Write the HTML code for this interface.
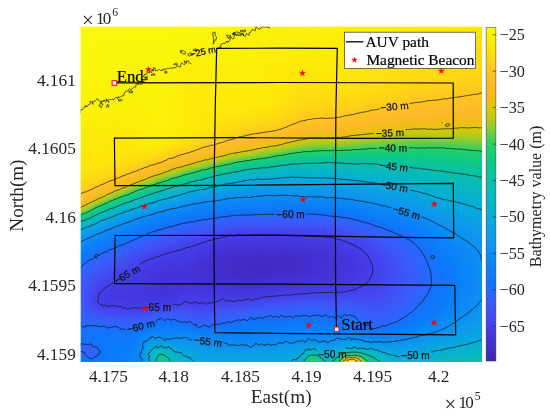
<!DOCTYPE html>
<html lang="en"><head><meta charset="utf-8"><title>AUV path over bathymetry</title>
<style>html,body{margin:0;padding:0;background:#fff}body{width:550px;height:416px;overflow:hidden}svg{display:block}.t{font-family:"Liberation Serif","Times New Roman",serif;fill:#262626}.c{font-family:"Liberation Sans",Arial,sans-serif;font-size:10.1px;fill:#111;stroke:#111;stroke-width:.25px;text-anchor:middle}</style></head><body>
<svg width="550" height="416" viewBox="0 0 550 416">
<defs>
<linearGradient id="g0" x1="0" y1="0" x2="0" y2="1"><stop offset="0.002976" stop-color="#faf808"/><stop offset="0.1488" stop-color="#faf708"/><stop offset="0.4226" stop-color="#fde70a"/><stop offset="0.4643" stop-color="#fddc11"/><stop offset="0.5119" stop-color="#ffbd27"/><stop offset="0.5179" stop-color="#fdba28"/><stop offset="0.5327" stop-color="#f0be18"/><stop offset="0.5387" stop-color="#dfc80b"/><stop offset="0.5446" stop-color="#c4c810"/><stop offset="0.5476" stop-color="#b2c919"/><stop offset="0.5506" stop-color="#9ccc29"/><stop offset="0.5595" stop-color="#3ad25a"/><stop offset="0.5625" stop-color="#22d269"/><stop offset="0.5655" stop-color="#18ce74"/><stop offset="0.5744" stop-color="#0cc694"/><stop offset="0.5804" stop-color="#09bfaa"/><stop offset="0.5833" stop-color="#09bdb1"/><stop offset="0.6042" stop-color="#05add9"/><stop offset="0.625" stop-color="#0d9aea"/><stop offset="0.6458" stop-color="#0c8cf4"/><stop offset="0.6786" stop-color="#0a7dfa"/><stop offset="0.7054" stop-color="#1471fb"/><stop offset="0.7262" stop-color="#2a66fe"/><stop offset="0.7381" stop-color="#3062fd"/><stop offset="0.7679" stop-color="#3a5bfa"/><stop offset="0.8006" stop-color="#3c57f9"/><stop offset="0.8512" stop-color="#365dfb"/><stop offset="0.875" stop-color="#2c64fe"/><stop offset="0.9048" stop-color="#1571fb"/><stop offset="0.9196" stop-color="#1274fb"/><stop offset="0.9405" stop-color="#1471fb"/><stop offset="0.9554" stop-color="#2966fe"/><stop offset="0.9643" stop-color="#2c65ff"/><stop offset="0.9702" stop-color="#2867fe"/><stop offset="0.9821" stop-color="#1670fb"/><stop offset="0.997" stop-color="#0f77fb"/></linearGradient><linearGradient id="g1" x1="0" y1="0" x2="0" y2="1"><stop offset="0.002976" stop-color="#faf808"/><stop offset="0.1518" stop-color="#faf708"/><stop offset="0.4226" stop-color="#fde60a"/><stop offset="0.4643" stop-color="#feda12"/><stop offset="0.506" stop-color="#ffbf26"/><stop offset="0.5149" stop-color="#fdba27"/><stop offset="0.5268" stop-color="#f2bd1a"/><stop offset="0.5357" stop-color="#dac90a"/><stop offset="0.5417" stop-color="#bfc811"/><stop offset="0.5476" stop-color="#95cc2c"/><stop offset="0.5565" stop-color="#36d25c"/><stop offset="0.5595" stop-color="#21d16a"/><stop offset="0.5625" stop-color="#18ce75"/><stop offset="0.5714" stop-color="#0cc694"/><stop offset="0.5804" stop-color="#09bdb1"/><stop offset="0.6012" stop-color="#05acd9"/><stop offset="0.622" stop-color="#0d99eb"/><stop offset="0.6458" stop-color="#0b89f6"/><stop offset="0.6696" stop-color="#0a7efa"/><stop offset="0.6964" stop-color="#1472fb"/><stop offset="0.7202" stop-color="#2c65ff"/><stop offset="0.753" stop-color="#3a5bfa"/><stop offset="0.8006" stop-color="#3f52f8"/><stop offset="0.8274" stop-color="#3e54f8"/><stop offset="0.8512" stop-color="#395bfa"/><stop offset="0.878" stop-color="#2c64ff"/><stop offset="0.9048" stop-color="#1471fb"/><stop offset="0.9196" stop-color="#1274fb"/><stop offset="0.9405" stop-color="#1570fb"/><stop offset="0.9524" stop-color="#2b65ff"/><stop offset="0.9673" stop-color="#3161fd"/><stop offset="0.9762" stop-color="#2a66fe"/><stop offset="0.9881" stop-color="#1472fb"/><stop offset="0.997" stop-color="#1076fb"/></linearGradient><linearGradient id="g2" x1="0" y1="0" x2="0" y2="1"><stop offset="0.002976" stop-color="#faf808"/><stop offset="0.1548" stop-color="#faf608"/><stop offset="0.4196" stop-color="#fde60a"/><stop offset="0.4613" stop-color="#feda12"/><stop offset="0.503" stop-color="#ffbe26"/><stop offset="0.5089" stop-color="#feba29"/><stop offset="0.5238" stop-color="#f0be18"/><stop offset="0.5298" stop-color="#dfc80a"/><stop offset="0.5357" stop-color="#c5c810"/><stop offset="0.5387" stop-color="#b5c917"/><stop offset="0.5417" stop-color="#a1cb25"/><stop offset="0.5476" stop-color="#67cd40"/><stop offset="0.5536" stop-color="#2bd362"/><stop offset="0.5565" stop-color="#1dd06d"/><stop offset="0.5595" stop-color="#16cd77"/><stop offset="0.5685" stop-color="#0bc596"/><stop offset="0.5744" stop-color="#09bfab"/><stop offset="0.5982" stop-color="#05acda"/><stop offset="0.619" stop-color="#0d98eb"/><stop offset="0.6458" stop-color="#0b86f7"/><stop offset="0.6667" stop-color="#0a7dfa"/><stop offset="0.6905" stop-color="#1472fb"/><stop offset="0.7143" stop-color="#2d64fe"/><stop offset="0.7411" stop-color="#395bfa"/><stop offset="0.8036" stop-color="#424df5"/><stop offset="0.8274" stop-color="#404ff7"/><stop offset="0.8571" stop-color="#3a5bfa"/><stop offset="0.881" stop-color="#2b65ff"/><stop offset="0.9018" stop-color="#1670fb"/><stop offset="0.9226" stop-color="#1175fb"/><stop offset="0.9405" stop-color="#1471fb"/><stop offset="0.9524" stop-color="#2c64ff"/><stop offset="0.9673" stop-color="#345ffc"/><stop offset="0.9792" stop-color="#2c65ff"/><stop offset="0.9881" stop-color="#1770fb"/><stop offset="0.997" stop-color="#1076fb"/></linearGradient><linearGradient id="g3" x1="0" y1="0" x2="0" y2="1"><stop offset="0.002976" stop-color="#faf808"/><stop offset="0.1577" stop-color="#faf608"/><stop offset="0.4167" stop-color="#fde60a"/><stop offset="0.4583" stop-color="#feda12"/><stop offset="0.5" stop-color="#ffbd27"/><stop offset="0.506" stop-color="#fdba28"/><stop offset="0.5179" stop-color="#f2bd1a"/><stop offset="0.5268" stop-color="#d8c90b"/><stop offset="0.5327" stop-color="#bdc812"/><stop offset="0.5387" stop-color="#93cc2d"/><stop offset="0.5476" stop-color="#3ad25a"/><stop offset="0.5506" stop-color="#23d268"/><stop offset="0.5536" stop-color="#19cf72"/><stop offset="0.5655" stop-color="#0bc499"/><stop offset="0.5714" stop-color="#09bfad"/><stop offset="0.5952" stop-color="#05acda"/><stop offset="0.6131" stop-color="#0d9aea"/><stop offset="0.631" stop-color="#0c8cf4"/><stop offset="0.6607" stop-color="#0a7dfa"/><stop offset="0.6875" stop-color="#1570fb"/><stop offset="0.7054" stop-color="#2b65ff"/><stop offset="0.7321" stop-color="#395bfa"/><stop offset="0.7917" stop-color="#4349f2"/><stop offset="0.8244" stop-color="#4349f2"/><stop offset="0.8601" stop-color="#3a5afa"/><stop offset="0.881" stop-color="#2c65ff"/><stop offset="0.9018" stop-color="#1571fb"/><stop offset="0.9226" stop-color="#1075fb"/><stop offset="0.9405" stop-color="#1372fb"/><stop offset="0.9435" stop-color="#1670fb"/><stop offset="0.9554" stop-color="#2e63fe"/><stop offset="0.9643" stop-color="#345ffc"/><stop offset="0.9702" stop-color="#345ffc"/><stop offset="0.9792" stop-color="#2e63fe"/><stop offset="0.9911" stop-color="#1471fb"/><stop offset="0.997" stop-color="#1075fb"/></linearGradient><linearGradient id="g4" x1="0" y1="0" x2="0" y2="1"><stop offset="0.002976" stop-color="#faf808"/><stop offset="0.1637" stop-color="#faf508"/><stop offset="0.4137" stop-color="#fde60a"/><stop offset="0.4524" stop-color="#fedb11"/><stop offset="0.494" stop-color="#ffbf26"/><stop offset="0.503" stop-color="#fcba27"/><stop offset="0.5149" stop-color="#f1be19"/><stop offset="0.5208" stop-color="#dfc80a"/><stop offset="0.5268" stop-color="#c4c810"/><stop offset="0.5298" stop-color="#b3c919"/><stop offset="0.5327" stop-color="#9ecb27"/><stop offset="0.5387" stop-color="#63cd42"/><stop offset="0.5446" stop-color="#29d363"/><stop offset="0.5476" stop-color="#1dd06e"/><stop offset="0.5506" stop-color="#16ce77"/><stop offset="0.5595" stop-color="#0cc694"/><stop offset="0.5685" stop-color="#09beaf"/><stop offset="0.5923" stop-color="#05abdb"/><stop offset="0.6101" stop-color="#0d9aea"/><stop offset="0.625" stop-color="#0c8ef3"/><stop offset="0.6548" stop-color="#0a7efa"/><stop offset="0.6815" stop-color="#1471fb"/><stop offset="0.7024" stop-color="#2d64fe"/><stop offset="0.7292" stop-color="#3b5afa"/><stop offset="0.7917" stop-color="#4545ef"/><stop offset="0.8244" stop-color="#4444ef"/><stop offset="0.8601" stop-color="#3c58f9"/><stop offset="0.881" stop-color="#2c64fe"/><stop offset="0.9018" stop-color="#1471fb"/><stop offset="0.9226" stop-color="#1076fb"/><stop offset="0.9435" stop-color="#1372fb"/><stop offset="0.9464" stop-color="#1570fb"/><stop offset="0.9583" stop-color="#2d64fe"/><stop offset="0.9702" stop-color="#3260fd"/><stop offset="0.9792" stop-color="#2d64fe"/><stop offset="0.9911" stop-color="#1471fb"/><stop offset="0.997" stop-color="#1075fb"/></linearGradient><linearGradient id="g5" x1="0" y1="0" x2="0" y2="1"><stop offset="0.002976" stop-color="#faf808"/><stop offset="0.1696" stop-color="#faf508"/><stop offset="0.4107" stop-color="#fde60a"/><stop offset="0.4494" stop-color="#fedb12"/><stop offset="0.4911" stop-color="#ffbe26"/><stop offset="0.497" stop-color="#feba29"/><stop offset="0.5089" stop-color="#f3bd1b"/><stop offset="0.5119" stop-color="#efbf17"/><stop offset="0.5179" stop-color="#dbc90a"/><stop offset="0.5238" stop-color="#bfc811"/><stop offset="0.5298" stop-color="#94cc2d"/><stop offset="0.5387" stop-color="#38d25b"/><stop offset="0.5417" stop-color="#23d269"/><stop offset="0.5446" stop-color="#19cf73"/><stop offset="0.5565" stop-color="#0bc499"/><stop offset="0.5625" stop-color="#09bfac"/><stop offset="0.5863" stop-color="#05add9"/><stop offset="0.6071" stop-color="#0d99eb"/><stop offset="0.622" stop-color="#0c8df4"/><stop offset="0.6518" stop-color="#0a7dfa"/><stop offset="0.6756" stop-color="#1471fb"/><stop offset="0.6964" stop-color="#2c64ff"/><stop offset="0.7232" stop-color="#3b5afa"/><stop offset="0.7738" stop-color="#4446f0"/><stop offset="0.7976" stop-color="#4440ec"/><stop offset="0.8244" stop-color="#4440ec"/><stop offset="0.8363" stop-color="#4545f0"/><stop offset="0.8542" stop-color="#3f52f8"/><stop offset="0.8661" stop-color="#3a5afa"/><stop offset="0.881" stop-color="#2e63fe"/><stop offset="0.9018" stop-color="#1471fb"/><stop offset="0.9226" stop-color="#1076fb"/><stop offset="0.9375" stop-color="#1076fb"/><stop offset="0.9494" stop-color="#1472fb"/><stop offset="0.9643" stop-color="#2b65fe"/><stop offset="0.9732" stop-color="#2d64fe"/><stop offset="0.9792" stop-color="#2767fe"/><stop offset="0.9881" stop-color="#1770fb"/><stop offset="0.997" stop-color="#1076fb"/></linearGradient><linearGradient id="g6" x1="0" y1="0" x2="0" y2="1"><stop offset="0.002976" stop-color="#faf808"/><stop offset="0.1845" stop-color="#fbf408"/><stop offset="0.4077" stop-color="#fde60a"/><stop offset="0.4464" stop-color="#feda12"/><stop offset="0.4881" stop-color="#ffbd27"/><stop offset="0.494" stop-color="#fdba28"/><stop offset="0.506" stop-color="#f2bd1a"/><stop offset="0.5149" stop-color="#d7c90b"/><stop offset="0.5208" stop-color="#bac814"/><stop offset="0.5238" stop-color="#a4cb23"/><stop offset="0.5268" stop-color="#89cc31"/><stop offset="0.5357" stop-color="#2cd362"/><stop offset="0.5387" stop-color="#1ed06d"/><stop offset="0.5417" stop-color="#17ce77"/><stop offset="0.5506" stop-color="#0cc693"/><stop offset="0.5595" stop-color="#09beaf"/><stop offset="0.5833" stop-color="#05abdb"/><stop offset="0.6012" stop-color="#0d9bea"/><stop offset="0.619" stop-color="#0c8df4"/><stop offset="0.6458" stop-color="#0a7efa"/><stop offset="0.6696" stop-color="#1372fb"/><stop offset="0.6905" stop-color="#2b65ff"/><stop offset="0.7173" stop-color="#3b5afa"/><stop offset="0.7649" stop-color="#4446f0"/><stop offset="0.7946" stop-color="#433eeb"/><stop offset="0.8274" stop-color="#433eeb"/><stop offset="0.8423" stop-color="#4446f0"/><stop offset="0.8571" stop-color="#3f52f8"/><stop offset="0.8839" stop-color="#2d64fe"/><stop offset="0.9018" stop-color="#1570fb"/><stop offset="0.9137" stop-color="#1174fb"/><stop offset="0.9464" stop-color="#1076fb"/><stop offset="0.9732" stop-color="#206bfd"/><stop offset="0.9851" stop-color="#1570fb"/><stop offset="0.997" stop-color="#0f77fb"/></linearGradient><linearGradient id="g7" x1="0" y1="0" x2="0" y2="1"><stop offset="0.002976" stop-color="#faf808"/><stop offset="0.2202" stop-color="#fbf208"/><stop offset="0.4018" stop-color="#fde60a"/><stop offset="0.4405" stop-color="#fddb11"/><stop offset="0.4821" stop-color="#ffbe26"/><stop offset="0.4881" stop-color="#feba29"/><stop offset="0.5" stop-color="#f3bd1c"/><stop offset="0.503" stop-color="#f0be18"/><stop offset="0.5089" stop-color="#dec80a"/><stop offset="0.5149" stop-color="#c4c810"/><stop offset="0.5179" stop-color="#b2c919"/><stop offset="0.5208" stop-color="#9dcc28"/><stop offset="0.5268" stop-color="#60ce44"/><stop offset="0.5327" stop-color="#26d366"/><stop offset="0.5357" stop-color="#1acf70"/><stop offset="0.5476" stop-color="#0bc596"/><stop offset="0.5565" stop-color="#09bdb1"/><stop offset="0.5804" stop-color="#06abdc"/><stop offset="0.5982" stop-color="#0d9aea"/><stop offset="0.6161" stop-color="#0c8cf4"/><stop offset="0.6429" stop-color="#0a7efa"/><stop offset="0.6667" stop-color="#1471fb"/><stop offset="0.6875" stop-color="#2d64fe"/><stop offset="0.7113" stop-color="#3a5afa"/><stop offset="0.7589" stop-color="#4546f0"/><stop offset="0.7887" stop-color="#433dea"/><stop offset="0.8125" stop-color="#433be7"/><stop offset="0.8304" stop-color="#433eeb"/><stop offset="0.8452" stop-color="#4446f0"/><stop offset="0.8571" stop-color="#4050f7"/><stop offset="0.869" stop-color="#3b5afa"/><stop offset="0.8869" stop-color="#2b65ff"/><stop offset="0.9048" stop-color="#1471fb"/><stop offset="0.9167" stop-color="#1175fb"/><stop offset="0.9405" stop-color="#0e78fb"/><stop offset="0.9732" stop-color="#1471fb"/><stop offset="0.997" stop-color="#0e79fb"/></linearGradient><linearGradient id="g8" x1="0" y1="0" x2="0" y2="1"><stop offset="0.002976" stop-color="#faf808"/><stop offset="0.2262" stop-color="#fbf208"/><stop offset="0.4018" stop-color="#fde50b"/><stop offset="0.4405" stop-color="#fed912"/><stop offset="0.4792" stop-color="#ffbd27"/><stop offset="0.4851" stop-color="#fdba28"/><stop offset="0.497" stop-color="#f2bd1a"/><stop offset="0.503" stop-color="#e2c60d"/><stop offset="0.506" stop-color="#d8c90b"/><stop offset="0.5119" stop-color="#bdc812"/><stop offset="0.5179" stop-color="#93cc2d"/><stop offset="0.5268" stop-color="#39d25a"/><stop offset="0.5298" stop-color="#23d268"/><stop offset="0.5327" stop-color="#19cf72"/><stop offset="0.5446" stop-color="#0bc498"/><stop offset="0.5506" stop-color="#09bfac"/><stop offset="0.5744" stop-color="#05add8"/><stop offset="0.5952" stop-color="#0d99eb"/><stop offset="0.6101" stop-color="#0c8ef3"/><stop offset="0.6399" stop-color="#0a7dfa"/><stop offset="0.6637" stop-color="#1471fb"/><stop offset="0.6815" stop-color="#2c65ff"/><stop offset="0.7054" stop-color="#3a5bfa"/><stop offset="0.753" stop-color="#4546f0"/><stop offset="0.7798" stop-color="#433eea"/><stop offset="0.8125" stop-color="#433ae5"/><stop offset="0.8304" stop-color="#433de9"/><stop offset="0.8452" stop-color="#4545f0"/><stop offset="0.872" stop-color="#3a5bfa"/><stop offset="0.8869" stop-color="#2d64fe"/><stop offset="0.9048" stop-color="#1471fb"/><stop offset="0.9375" stop-color="#0d79fb"/><stop offset="0.9762" stop-color="#1076fb"/><stop offset="0.997" stop-color="#0c7afa"/></linearGradient><linearGradient id="g9" x1="0" y1="0" x2="0" y2="1"><stop offset="0.002976" stop-color="#faf808"/><stop offset="0.2262" stop-color="#fbf208"/><stop offset="0.3988" stop-color="#fde50b"/><stop offset="0.4345" stop-color="#fedb11"/><stop offset="0.4732" stop-color="#ffbf26"/><stop offset="0.4821" stop-color="#fcba27"/><stop offset="0.494" stop-color="#f0be18"/><stop offset="0.5" stop-color="#dec80a"/><stop offset="0.506" stop-color="#c4c810"/><stop offset="0.5089" stop-color="#b4c918"/><stop offset="0.5119" stop-color="#a1cb25"/><stop offset="0.5179" stop-color="#69cd3f"/><stop offset="0.5238" stop-color="#30d360"/><stop offset="0.5268" stop-color="#20d16b"/><stop offset="0.5357" stop-color="#0fc986"/><stop offset="0.5417" stop-color="#0bc49a"/><stop offset="0.5476" stop-color="#09bfad"/><stop offset="0.5714" stop-color="#05acd9"/><stop offset="0.5923" stop-color="#0d99eb"/><stop offset="0.6071" stop-color="#0c8df4"/><stop offset="0.6369" stop-color="#0a7dfa"/><stop offset="0.6577" stop-color="#1372fb"/><stop offset="0.6786" stop-color="#2d64fe"/><stop offset="0.7024" stop-color="#3b5afa"/><stop offset="0.747" stop-color="#4546f0"/><stop offset="0.7798" stop-color="#433ce8"/><stop offset="0.8155" stop-color="#433ae5"/><stop offset="0.8333" stop-color="#433eea"/><stop offset="0.8482" stop-color="#4447f1"/><stop offset="0.872" stop-color="#3a5afa"/><stop offset="0.8899" stop-color="#2a66fe"/><stop offset="0.9077" stop-color="#1372fb"/><stop offset="0.9405" stop-color="#0c7afb"/><stop offset="0.997" stop-color="#0b7cfa"/></linearGradient><linearGradient id="g10" x1="0" y1="0" x2="0" y2="1"><stop offset="0.002976" stop-color="#faf808"/><stop offset="0.2262" stop-color="#fbf208"/><stop offset="0.3958" stop-color="#fde50b"/><stop offset="0.4345" stop-color="#fed913"/><stop offset="0.4762" stop-color="#feba29"/><stop offset="0.4911" stop-color="#edc016"/><stop offset="0.497" stop-color="#dac90a"/><stop offset="0.503" stop-color="#bfc811"/><stop offset="0.5089" stop-color="#99cc2a"/><stop offset="0.5149" stop-color="#5fce44"/><stop offset="0.5208" stop-color="#28d364"/><stop offset="0.5238" stop-color="#1cd06e"/><stop offset="0.5268" stop-color="#16ce77"/><stop offset="0.5357" stop-color="#0cc692"/><stop offset="0.5446" stop-color="#09beae"/><stop offset="0.5685" stop-color="#05acda"/><stop offset="0.5863" stop-color="#0d9be9"/><stop offset="0.6042" stop-color="#0c8df4"/><stop offset="0.6339" stop-color="#0a7dfa"/><stop offset="0.6548" stop-color="#1472fb"/><stop offset="0.6726" stop-color="#2b65fe"/><stop offset="0.6964" stop-color="#3a5afa"/><stop offset="0.7411" stop-color="#4546f0"/><stop offset="0.7768" stop-color="#433ce8"/><stop offset="0.8125" stop-color="#4339e3"/><stop offset="0.8333" stop-color="#433dea"/><stop offset="0.8482" stop-color="#4546f0"/><stop offset="0.875" stop-color="#385cfb"/><stop offset="0.8899" stop-color="#2b65ff"/><stop offset="0.9077" stop-color="#1372fb"/><stop offset="0.9405" stop-color="#0c7afa"/><stop offset="0.997" stop-color="#0a7dfa"/></linearGradient><linearGradient id="g11" x1="0" y1="0" x2="0" y2="1"><stop offset="0.002976" stop-color="#faf808"/><stop offset="0.2262" stop-color="#fbf108"/><stop offset="0.3929" stop-color="#fde50b"/><stop offset="0.4286" stop-color="#feda12"/><stop offset="0.4702" stop-color="#febc28"/><stop offset="0.4732" stop-color="#fdba29"/><stop offset="0.4851" stop-color="#f2bd1a"/><stop offset="0.4881" stop-color="#ecc014"/><stop offset="0.494" stop-color="#d7c90b"/><stop offset="0.5" stop-color="#bbc813"/><stop offset="0.506" stop-color="#91cc2e"/><stop offset="0.5149" stop-color="#3bd259"/><stop offset="0.5179" stop-color="#24d267"/><stop offset="0.5208" stop-color="#1acf71"/><stop offset="0.5327" stop-color="#0bc595"/><stop offset="0.5417" stop-color="#09beaf"/><stop offset="0.5655" stop-color="#05acda"/><stop offset="0.5833" stop-color="#0d9bea"/><stop offset="0.6012" stop-color="#0c8df4"/><stop offset="0.628" stop-color="#0a7efa"/><stop offset="0.6518" stop-color="#1471fb"/><stop offset="0.6696" stop-color="#2c65ff"/><stop offset="0.6935" stop-color="#3b5afa"/><stop offset="0.7351" stop-color="#4446f0"/><stop offset="0.7738" stop-color="#433be7"/><stop offset="0.8125" stop-color="#4339e3"/><stop offset="0.8363" stop-color="#433eeb"/><stop offset="0.8482" stop-color="#4545f0"/><stop offset="0.875" stop-color="#395bfa"/><stop offset="0.8899" stop-color="#2b65ff"/><stop offset="0.9077" stop-color="#1472fb"/><stop offset="0.9435" stop-color="#0b7bfa"/><stop offset="0.997" stop-color="#0a7efa"/></linearGradient><linearGradient id="g12" x1="0" y1="0" x2="0" y2="1"><stop offset="0.002976" stop-color="#faf808"/><stop offset="0.2292" stop-color="#fbf108"/><stop offset="0.3899" stop-color="#fde50b"/><stop offset="0.4256" stop-color="#feda12"/><stop offset="0.4673" stop-color="#febc28"/><stop offset="0.4702" stop-color="#fdba28"/><stop offset="0.4821" stop-color="#f2bd1a"/><stop offset="0.4881" stop-color="#e1c60d"/><stop offset="0.494" stop-color="#c8c80f"/><stop offset="0.497" stop-color="#b8c915"/><stop offset="0.5" stop-color="#a4cb23"/><stop offset="0.503" stop-color="#8bcc31"/><stop offset="0.5119" stop-color="#33d25e"/><stop offset="0.5149" stop-color="#22d16a"/><stop offset="0.5179" stop-color="#19cf73"/><stop offset="0.5298" stop-color="#0bc597"/><stop offset="0.5387" stop-color="#09beb0"/><stop offset="0.5625" stop-color="#05abdb"/><stop offset="0.5804" stop-color="#0d9aea"/><stop offset="0.5982" stop-color="#0c8cf4"/><stop offset="0.625" stop-color="#0a7efa"/><stop offset="0.6488" stop-color="#1471fb"/><stop offset="0.6667" stop-color="#2c64ff"/><stop offset="0.6905" stop-color="#3b59fa"/><stop offset="0.7321" stop-color="#4545f0"/><stop offset="0.7708" stop-color="#433be6"/><stop offset="0.8125" stop-color="#4339e2"/><stop offset="0.8363" stop-color="#433dea"/><stop offset="0.8512" stop-color="#4447f1"/><stop offset="0.875" stop-color="#3a5bfa"/><stop offset="0.8899" stop-color="#2c65ff"/><stop offset="0.9077" stop-color="#1471fb"/><stop offset="0.9464" stop-color="#0b7bfa"/><stop offset="0.997" stop-color="#0a7efa"/></linearGradient><linearGradient id="g13" x1="0" y1="0" x2="0" y2="1"><stop offset="0.002976" stop-color="#faf808"/><stop offset="0.2321" stop-color="#fbf108"/><stop offset="0.3869" stop-color="#fde50b"/><stop offset="0.4226" stop-color="#feda12"/><stop offset="0.4643" stop-color="#febb28"/><stop offset="0.4792" stop-color="#f1be19"/><stop offset="0.4851" stop-color="#e0c70b"/><stop offset="0.4911" stop-color="#c6c80f"/><stop offset="0.494" stop-color="#b6c917"/><stop offset="0.497" stop-color="#a1cb25"/><stop offset="0.503" stop-color="#68cd40"/><stop offset="0.5089" stop-color="#2ed361"/><stop offset="0.5119" stop-color="#1fd16c"/><stop offset="0.5149" stop-color="#18ce75"/><stop offset="0.5238" stop-color="#0cc78f"/><stop offset="0.5327" stop-color="#09bfab"/><stop offset="0.5595" stop-color="#05abdb"/><stop offset="0.5774" stop-color="#0d9aea"/><stop offset="0.5923" stop-color="#0c8ef3"/><stop offset="0.622" stop-color="#0a7dfa"/><stop offset="0.6458" stop-color="#1471fb"/><stop offset="0.6637" stop-color="#2d64fe"/><stop offset="0.6875" stop-color="#3b58f9"/><stop offset="0.7262" stop-color="#4545f0"/><stop offset="0.7649" stop-color="#433be6"/><stop offset="0.8095" stop-color="#4338e1"/><stop offset="0.8363" stop-color="#433de9"/><stop offset="0.8512" stop-color="#4546f0"/><stop offset="0.875" stop-color="#3a5afa"/><stop offset="0.8899" stop-color="#2d64fe"/><stop offset="0.9077" stop-color="#1471fb"/><stop offset="0.9464" stop-color="#0b7bfa"/><stop offset="0.997" stop-color="#0a7ffa"/></linearGradient><linearGradient id="g14" x1="0" y1="0" x2="0" y2="1"><stop offset="0.002976" stop-color="#faf808"/><stop offset="0.2351" stop-color="#fbf108"/><stop offset="0.381" stop-color="#fde50b"/><stop offset="0.4167" stop-color="#fedb11"/><stop offset="0.4554" stop-color="#ffbf26"/><stop offset="0.4613" stop-color="#feba29"/><stop offset="0.4732" stop-color="#f3bd1b"/><stop offset="0.4762" stop-color="#efbf17"/><stop offset="0.4821" stop-color="#ddc90a"/><stop offset="0.4881" stop-color="#c3c810"/><stop offset="0.494" stop-color="#9dcb28"/><stop offset="0.5" stop-color="#64cd42"/><stop offset="0.506" stop-color="#2bd362"/><stop offset="0.5089" stop-color="#1ed06d"/><stop offset="0.5119" stop-color="#17ce76"/><stop offset="0.5238" stop-color="#0bc49a"/><stop offset="0.5298" stop-color="#09bfac"/><stop offset="0.5565" stop-color="#05abdb"/><stop offset="0.5744" stop-color="#0d9aea"/><stop offset="0.5923" stop-color="#0c8cf4"/><stop offset="0.619" stop-color="#0a7dfa"/><stop offset="0.6399" stop-color="#1372fb"/><stop offset="0.6607" stop-color="#2d64fe"/><stop offset="0.6845" stop-color="#3c58f9"/><stop offset="0.7202" stop-color="#4546f0"/><stop offset="0.7619" stop-color="#433be6"/><stop offset="0.8095" stop-color="#4338e1"/><stop offset="0.8363" stop-color="#433de9"/><stop offset="0.8512" stop-color="#4545f0"/><stop offset="0.878" stop-color="#395cfb"/><stop offset="0.8929" stop-color="#2b65ff"/><stop offset="0.9107" stop-color="#1472fb"/><stop offset="0.9494" stop-color="#0b7cfa"/><stop offset="0.997" stop-color="#0a7ffa"/></linearGradient><linearGradient id="g15" x1="0" y1="0" x2="0" y2="1"><stop offset="0.002976" stop-color="#faf808"/><stop offset="0.2411" stop-color="#fbf108"/><stop offset="0.378" stop-color="#fde60a"/><stop offset="0.4167" stop-color="#fed912"/><stop offset="0.4583" stop-color="#feba29"/><stop offset="0.4732" stop-color="#ecc015"/><stop offset="0.4792" stop-color="#d9c90b"/><stop offset="0.4851" stop-color="#bfc811"/><stop offset="0.4911" stop-color="#99cc2b"/><stop offset="0.497" stop-color="#5fce45"/><stop offset="0.503" stop-color="#28d364"/><stop offset="0.506" stop-color="#1dd06e"/><stop offset="0.5119" stop-color="#12cb7f"/><stop offset="0.5238" stop-color="#0ac1a4"/><stop offset="0.5387" stop-color="#08b8c3"/><stop offset="0.5536" stop-color="#06abdc"/><stop offset="0.5714" stop-color="#0d9aea"/><stop offset="0.5893" stop-color="#0c8cf4"/><stop offset="0.6161" stop-color="#0a7dfa"/><stop offset="0.6369" stop-color="#1372fb"/><stop offset="0.6548" stop-color="#2b65ff"/><stop offset="0.6815" stop-color="#3c57f9"/><stop offset="0.7143" stop-color="#4546f0"/><stop offset="0.756" stop-color="#433be6"/><stop offset="0.8095" stop-color="#4338e0"/><stop offset="0.8393" stop-color="#433dea"/><stop offset="0.8542" stop-color="#4447f1"/><stop offset="0.878" stop-color="#395bfa"/><stop offset="0.8929" stop-color="#2c64ff"/><stop offset="0.9107" stop-color="#1471fb"/><stop offset="0.9494" stop-color="#0a7cfa"/><stop offset="0.997" stop-color="#0a7ff9"/></linearGradient><linearGradient id="g16" x1="0" y1="0" x2="0" y2="1"><stop offset="0.002976" stop-color="#faf808"/><stop offset="0.247" stop-color="#fbf008"/><stop offset="0.372" stop-color="#fde709"/><stop offset="0.4107" stop-color="#fddb11"/><stop offset="0.4554" stop-color="#fdba28"/><stop offset="0.4673" stop-color="#f1bd19"/><stop offset="0.4732" stop-color="#e1c70c"/><stop offset="0.4762" stop-color="#d5c90b"/><stop offset="0.4821" stop-color="#bac814"/><stop offset="0.4881" stop-color="#91cc2e"/><stop offset="0.497" stop-color="#3ed158"/><stop offset="0.5" stop-color="#26d366"/><stop offset="0.503" stop-color="#1bd06f"/><stop offset="0.5119" stop-color="#0ec989"/><stop offset="0.5208" stop-color="#0ac1a5"/><stop offset="0.5357" stop-color="#08b7c4"/><stop offset="0.5506" stop-color="#06abdc"/><stop offset="0.5685" stop-color="#0d9aea"/><stop offset="0.5863" stop-color="#0c8cf4"/><stop offset="0.6131" stop-color="#0a7dfa"/><stop offset="0.6339" stop-color="#1471fb"/><stop offset="0.6518" stop-color="#2c64ff"/><stop offset="0.6756" stop-color="#3c58f9"/><stop offset="0.7083" stop-color="#4446f0"/><stop offset="0.747" stop-color="#433be7"/><stop offset="0.8095" stop-color="#4337e0"/><stop offset="0.8393" stop-color="#433de9"/><stop offset="0.8542" stop-color="#4447f1"/><stop offset="0.878" stop-color="#3a5bfa"/><stop offset="0.8929" stop-color="#2d64fe"/><stop offset="0.9107" stop-color="#1471fb"/><stop offset="0.9494" stop-color="#0a7dfa"/><stop offset="0.997" stop-color="#0a80f9"/></linearGradient><linearGradient id="g17" x1="0" y1="0" x2="0" y2="1"><stop offset="0.002976" stop-color="#faf808"/><stop offset="0.253" stop-color="#fbf008"/><stop offset="0.3631" stop-color="#fde908"/><stop offset="0.4077" stop-color="#fddb11"/><stop offset="0.4494" stop-color="#febb28"/><stop offset="0.4643" stop-color="#f1be19"/><stop offset="0.4702" stop-color="#dfc80b"/><stop offset="0.4762" stop-color="#c5c810"/><stop offset="0.4792" stop-color="#b5c917"/><stop offset="0.4821" stop-color="#a2cb24"/><stop offset="0.4851" stop-color="#8bcc31"/><stop offset="0.494" stop-color="#38d25b"/><stop offset="0.497" stop-color="#24d268"/><stop offset="0.5" stop-color="#1acf71"/><stop offset="0.5089" stop-color="#0dc88a"/><stop offset="0.5179" stop-color="#09c1a6"/><stop offset="0.5327" stop-color="#08b7c4"/><stop offset="0.5476" stop-color="#06aadc"/><stop offset="0.5655" stop-color="#0d9aeb"/><stop offset="0.5833" stop-color="#0c8bf4"/><stop offset="0.6071" stop-color="#0a7efa"/><stop offset="0.631" stop-color="#1471fb"/><stop offset="0.6488" stop-color="#2d64fe"/><stop offset="0.6726" stop-color="#3c57f9"/><stop offset="0.7024" stop-color="#4446f0"/><stop offset="0.7411" stop-color="#433be7"/><stop offset="0.8095" stop-color="#4337e0"/><stop offset="0.8393" stop-color="#433de9"/><stop offset="0.8542" stop-color="#4447f1"/><stop offset="0.878" stop-color="#395bfa"/><stop offset="0.8929" stop-color="#2c65ff"/><stop offset="0.9077" stop-color="#1471fb"/><stop offset="0.9137" stop-color="#1274fb"/><stop offset="0.9405" stop-color="#0a7dfa"/><stop offset="0.997" stop-color="#0a82f9"/></linearGradient><linearGradient id="g18" x1="0" y1="0" x2="0" y2="1"><stop offset="0.002976" stop-color="#faf808"/><stop offset="0.3601" stop-color="#fdea07"/><stop offset="0.4048" stop-color="#fddc11"/><stop offset="0.4464" stop-color="#febb28"/><stop offset="0.4613" stop-color="#f0be18"/><stop offset="0.4673" stop-color="#ddc90a"/><stop offset="0.4732" stop-color="#c3c810"/><stop offset="0.4792" stop-color="#9fcb27"/><stop offset="0.4851" stop-color="#68cd40"/><stop offset="0.4911" stop-color="#32d25e"/><stop offset="0.494" stop-color="#22d16a"/><stop offset="0.497" stop-color="#19cf72"/><stop offset="0.506" stop-color="#0dc88b"/><stop offset="0.5149" stop-color="#09c0a7"/><stop offset="0.5298" stop-color="#08b7c4"/><stop offset="0.5446" stop-color="#06aadc"/><stop offset="0.5625" stop-color="#0d99eb"/><stop offset="0.5804" stop-color="#0b8bf5"/><stop offset="0.6042" stop-color="#0a7efa"/><stop offset="0.625" stop-color="#1372fb"/><stop offset="0.6429" stop-color="#2b65ff"/><stop offset="0.6696" stop-color="#3d56f9"/><stop offset="0.6964" stop-color="#4446f0"/><stop offset="0.7351" stop-color="#433be6"/><stop offset="0.8006" stop-color="#4337df"/><stop offset="0.8333" stop-color="#433be6"/><stop offset="0.8542" stop-color="#4447f1"/><stop offset="0.875" stop-color="#3b5afa"/><stop offset="0.8899" stop-color="#2d64fe"/><stop offset="0.9048" stop-color="#1471fb"/><stop offset="0.9256" stop-color="#0b7bfa"/><stop offset="0.9554" stop-color="#0a82f8"/><stop offset="0.997" stop-color="#0a84f8"/></linearGradient><linearGradient id="g19" x1="0" y1="0" x2="0" y2="1"><stop offset="0.002976" stop-color="#faf808"/><stop offset="0.3601" stop-color="#fdeb07"/><stop offset="0.4018" stop-color="#fddc11"/><stop offset="0.4435" stop-color="#febb28"/><stop offset="0.4583" stop-color="#efbe17"/><stop offset="0.4643" stop-color="#ddc90a"/><stop offset="0.4702" stop-color="#c2c811"/><stop offset="0.4762" stop-color="#9ccc28"/><stop offset="0.4821" stop-color="#63cd42"/><stop offset="0.4881" stop-color="#2dd361"/><stop offset="0.4911" stop-color="#20d16b"/><stop offset="0.494" stop-color="#18ce74"/><stop offset="0.503" stop-color="#0dc88c"/><stop offset="0.5119" stop-color="#09c0a7"/><stop offset="0.5268" stop-color="#08b7c5"/><stop offset="0.5417" stop-color="#06aadc"/><stop offset="0.5595" stop-color="#0d99eb"/><stop offset="0.5833" stop-color="#0b87f6"/><stop offset="0.6012" stop-color="#0a7efa"/><stop offset="0.622" stop-color="#1372fb"/><stop offset="0.6399" stop-color="#2c64ff"/><stop offset="0.6637" stop-color="#3c57f9"/><stop offset="0.6905" stop-color="#4447f1"/><stop offset="0.7024" stop-color="#4441ed"/><stop offset="0.7351" stop-color="#433ae4"/><stop offset="0.8036" stop-color="#4337df"/><stop offset="0.8333" stop-color="#433be6"/><stop offset="0.8512" stop-color="#4545f0"/><stop offset="0.872" stop-color="#3b59fa"/><stop offset="0.8869" stop-color="#2d64fe"/><stop offset="0.9018" stop-color="#1471fb"/><stop offset="0.9226" stop-color="#0a7dfa"/><stop offset="0.9583" stop-color="#0b87f6"/><stop offset="0.997" stop-color="#0b88f6"/></linearGradient><linearGradient id="g20" x1="0" y1="0" x2="0" y2="1"><stop offset="0.002976" stop-color="#faf808"/><stop offset="0.2857" stop-color="#fbf008"/><stop offset="0.3601" stop-color="#fdeb07"/><stop offset="0.3988" stop-color="#fddc11"/><stop offset="0.4405" stop-color="#febb29"/><stop offset="0.4554" stop-color="#eebf16"/><stop offset="0.4613" stop-color="#dbc90a"/><stop offset="0.4673" stop-color="#c1c811"/><stop offset="0.4732" stop-color="#9bcc29"/><stop offset="0.4792" stop-color="#61ce43"/><stop offset="0.4851" stop-color="#2bd363"/><stop offset="0.4881" stop-color="#1ed16c"/><stop offset="0.4911" stop-color="#18ce75"/><stop offset="0.5" stop-color="#0cc78d"/><stop offset="0.5089" stop-color="#09c0a8"/><stop offset="0.5238" stop-color="#07b7c5"/><stop offset="0.5387" stop-color="#06aadc"/><stop offset="0.5565" stop-color="#0d99eb"/><stop offset="0.5833" stop-color="#0b85f7"/><stop offset="0.5982" stop-color="#0a7dfa"/><stop offset="0.619" stop-color="#1471fb"/><stop offset="0.6369" stop-color="#2d64fe"/><stop offset="0.6577" stop-color="#3b58f9"/><stop offset="0.6875" stop-color="#4546f0"/><stop offset="0.7024" stop-color="#433feb"/><stop offset="0.7351" stop-color="#4339e2"/><stop offset="0.8036" stop-color="#4336de"/><stop offset="0.8333" stop-color="#433be6"/><stop offset="0.8512" stop-color="#4546f0"/><stop offset="0.872" stop-color="#3a5afa"/><stop offset="0.8839" stop-color="#2d64fe"/><stop offset="0.8988" stop-color="#1372fb"/><stop offset="0.9167" stop-color="#0a7dfa"/><stop offset="0.9613" stop-color="#0c8ef3"/><stop offset="0.997" stop-color="#0c8ff2"/></linearGradient><linearGradient id="g21" x1="0" y1="0" x2="0" y2="1"><stop offset="0.002976" stop-color="#faf808"/><stop offset="0.3512" stop-color="#fcec08"/><stop offset="0.3899" stop-color="#fde00e"/><stop offset="0.4315" stop-color="#ffbf26"/><stop offset="0.4375" stop-color="#feba29"/><stop offset="0.4494" stop-color="#f2bd1a"/><stop offset="0.4583" stop-color="#d9c90b"/><stop offset="0.4643" stop-color="#bfc811"/><stop offset="0.4702" stop-color="#99cc2b"/><stop offset="0.4762" stop-color="#60ce44"/><stop offset="0.4821" stop-color="#2ad363"/><stop offset="0.4881" stop-color="#17ce75"/><stop offset="0.497" stop-color="#0cc78e"/><stop offset="0.5089" stop-color="#09beaf"/><stop offset="0.5327" stop-color="#05add8"/><stop offset="0.5536" stop-color="#0d99eb"/><stop offset="0.5685" stop-color="#0c8df4"/><stop offset="0.5952" stop-color="#0a7dfa"/><stop offset="0.6161" stop-color="#1471fb"/><stop offset="0.6339" stop-color="#2e63fe"/><stop offset="0.6518" stop-color="#3b5afa"/><stop offset="0.6667" stop-color="#4051f7"/><stop offset="0.6845" stop-color="#4545f0"/><stop offset="0.6994" stop-color="#433eeb"/><stop offset="0.7351" stop-color="#4338e1"/><stop offset="0.8036" stop-color="#4336de"/><stop offset="0.8363" stop-color="#433ce8"/><stop offset="0.8512" stop-color="#4447f1"/><stop offset="0.869" stop-color="#3b5afa"/><stop offset="0.881" stop-color="#2e63fe"/><stop offset="0.8929" stop-color="#1670fb"/><stop offset="0.9107" stop-color="#0a7dfa"/><stop offset="0.9613" stop-color="#0d97ec"/><stop offset="0.997" stop-color="#0d99eb"/></linearGradient><linearGradient id="g22" x1="0" y1="0" x2="0" y2="1"><stop offset="0.002976" stop-color="#faf808"/><stop offset="0.3482" stop-color="#fced08"/><stop offset="0.3631" stop-color="#fdeb07"/><stop offset="0.3869" stop-color="#fde00e"/><stop offset="0.4286" stop-color="#ffbe26"/><stop offset="0.4345" stop-color="#fdba29"/><stop offset="0.4464" stop-color="#f2bd1a"/><stop offset="0.4524" stop-color="#e2c60d"/><stop offset="0.4554" stop-color="#d7c90b"/><stop offset="0.4613" stop-color="#bcc812"/><stop offset="0.4673" stop-color="#96cc2c"/><stop offset="0.4732" stop-color="#5ece45"/><stop offset="0.4792" stop-color="#29d364"/><stop offset="0.4851" stop-color="#17ce75"/><stop offset="0.494" stop-color="#0cc78e"/><stop offset="0.506" stop-color="#09beaf"/><stop offset="0.5298" stop-color="#05add8"/><stop offset="0.5506" stop-color="#0d9aeb"/><stop offset="0.5655" stop-color="#0c8df4"/><stop offset="0.5923" stop-color="#0a7dfa"/><stop offset="0.6101" stop-color="#1372fb"/><stop offset="0.628" stop-color="#2c64ff"/><stop offset="0.6458" stop-color="#395bfa"/><stop offset="0.6637" stop-color="#4050f7"/><stop offset="0.6815" stop-color="#4545f0"/><stop offset="0.6964" stop-color="#433eeb"/><stop offset="0.7381" stop-color="#4337df"/><stop offset="0.8006" stop-color="#4335dc"/><stop offset="0.8185" stop-color="#4337e0"/><stop offset="0.8363" stop-color="#433dea"/><stop offset="0.8482" stop-color="#4446f0"/><stop offset="0.8661" stop-color="#3b59fa"/><stop offset="0.881" stop-color="#2a66fe"/><stop offset="0.8899" stop-color="#1670fb"/><stop offset="0.9077" stop-color="#0a7dfa"/><stop offset="0.9315" stop-color="#0c8cf4"/><stop offset="0.9494" stop-color="#0d9aea"/><stop offset="0.9643" stop-color="#0aa2e3"/><stop offset="0.9792" stop-color="#08a6e0"/><stop offset="0.997" stop-color="#09a5e1"/></linearGradient><linearGradient id="g23" x1="0" y1="0" x2="0" y2="1"><stop offset="0.002976" stop-color="#faf808"/><stop offset="0.3423" stop-color="#fcee08"/><stop offset="0.3631" stop-color="#fdea08"/><stop offset="0.3839" stop-color="#fde00e"/><stop offset="0.4256" stop-color="#ffbe26"/><stop offset="0.4315" stop-color="#fdba28"/><stop offset="0.4435" stop-color="#f1bd19"/><stop offset="0.4494" stop-color="#e1c70c"/><stop offset="0.4524" stop-color="#d5c90b"/><stop offset="0.4583" stop-color="#bac814"/><stop offset="0.4643" stop-color="#92cc2e"/><stop offset="0.4762" stop-color="#28d364"/><stop offset="0.4821" stop-color="#17ce76"/><stop offset="0.4911" stop-color="#0cc78e"/><stop offset="0.503" stop-color="#09beaf"/><stop offset="0.5268" stop-color="#05add8"/><stop offset="0.5476" stop-color="#0d9aea"/><stop offset="0.5625" stop-color="#0c8df4"/><stop offset="0.5893" stop-color="#0a7dfa"/><stop offset="0.6071" stop-color="#1372fb"/><stop offset="0.625" stop-color="#2d64fe"/><stop offset="0.6429" stop-color="#3a5bfa"/><stop offset="0.6607" stop-color="#4050f7"/><stop offset="0.6786" stop-color="#4545ef"/><stop offset="0.6935" stop-color="#433eea"/><stop offset="0.744" stop-color="#4335dc"/><stop offset="0.7946" stop-color="#4334db"/><stop offset="0.8274" stop-color="#433ae5"/><stop offset="0.8363" stop-color="#433eeb"/><stop offset="0.8512" stop-color="#424bf4"/><stop offset="0.8661" stop-color="#395bfa"/><stop offset="0.878" stop-color="#2b65ff"/><stop offset="0.8899" stop-color="#1372fb"/><stop offset="0.9048" stop-color="#0a7dfa"/><stop offset="0.9286" stop-color="#0c8df4"/><stop offset="0.9405" stop-color="#0d98ec"/><stop offset="0.9643" stop-color="#05acda"/><stop offset="0.9792" stop-color="#05b1d0"/><stop offset="0.997" stop-color="#05b1d0"/></linearGradient><linearGradient id="g24" x1="0" y1="0" x2="0" y2="1"><stop offset="0.002976" stop-color="#faf808"/><stop offset="0.3393" stop-color="#fcee08"/><stop offset="0.3601" stop-color="#fdea07"/><stop offset="0.381" stop-color="#fde10e"/><stop offset="0.4226" stop-color="#ffbe26"/><stop offset="0.4286" stop-color="#fdba28"/><stop offset="0.4405" stop-color="#f1be19"/><stop offset="0.4464" stop-color="#e0c70b"/><stop offset="0.4494" stop-color="#d4c90c"/><stop offset="0.4554" stop-color="#b8c915"/><stop offset="0.4583" stop-color="#a6cb22"/><stop offset="0.4613" stop-color="#90cc2f"/><stop offset="0.4732" stop-color="#27d365"/><stop offset="0.4792" stop-color="#17ce76"/><stop offset="0.4881" stop-color="#0cc78e"/><stop offset="0.5" stop-color="#09beaf"/><stop offset="0.5238" stop-color="#05add8"/><stop offset="0.5446" stop-color="#0d9aea"/><stop offset="0.5655" stop-color="#0b89f5"/><stop offset="0.5863" stop-color="#0a7dfa"/><stop offset="0.6042" stop-color="#1472fb"/><stop offset="0.622" stop-color="#2d64fe"/><stop offset="0.6399" stop-color="#3a5afa"/><stop offset="0.6577" stop-color="#4050f7"/><stop offset="0.6726" stop-color="#4446f0"/><stop offset="0.6905" stop-color="#433eea"/><stop offset="0.7173" stop-color="#4338e0"/><stop offset="0.75" stop-color="#4334da"/><stop offset="0.7976" stop-color="#4334da"/><stop offset="0.8274" stop-color="#433ae5"/><stop offset="0.8363" stop-color="#433feb"/><stop offset="0.8512" stop-color="#414df5"/><stop offset="0.8631" stop-color="#3a5afa"/><stop offset="0.875" stop-color="#2c65ff"/><stop offset="0.8869" stop-color="#1372fb"/><stop offset="0.9048" stop-color="#0a7efa"/><stop offset="0.9315" stop-color="#0c92f0"/><stop offset="0.9405" stop-color="#0d9be9"/><stop offset="0.9554" stop-color="#05abdb"/><stop offset="0.9673" stop-color="#05b4ca"/><stop offset="0.9821" stop-color="#08b9bd"/><stop offset="0.997" stop-color="#08babc"/></linearGradient><linearGradient id="g25" x1="0" y1="0" x2="0" y2="1"><stop offset="0.002976" stop-color="#faf808"/><stop offset="0.3363" stop-color="#fcef08"/><stop offset="0.3571" stop-color="#fdeb07"/><stop offset="0.375" stop-color="#fde20d"/><stop offset="0.4256" stop-color="#fdba28"/><stop offset="0.4375" stop-color="#f1be19"/><stop offset="0.4435" stop-color="#e0c70b"/><stop offset="0.4494" stop-color="#c6c80f"/><stop offset="0.4524" stop-color="#b7c915"/><stop offset="0.4583" stop-color="#8ecc2f"/><stop offset="0.4643" stop-color="#57cf49"/><stop offset="0.4702" stop-color="#26d366"/><stop offset="0.4732" stop-color="#1cd06e"/><stop offset="0.4821" stop-color="#0fc986"/><stop offset="0.494" stop-color="#09c0a9"/><stop offset="0.5119" stop-color="#06b5ca"/><stop offset="0.5268" stop-color="#07a8de"/><stop offset="0.5417" stop-color="#0d9aea"/><stop offset="0.5565" stop-color="#0c8ef3"/><stop offset="0.5833" stop-color="#0a7dfa"/><stop offset="0.6012" stop-color="#1372fb"/><stop offset="0.619" stop-color="#2e63fe"/><stop offset="0.6369" stop-color="#3a5afa"/><stop offset="0.6518" stop-color="#4051f8"/><stop offset="0.6696" stop-color="#4446f0"/><stop offset="0.6875" stop-color="#433eea"/><stop offset="0.7173" stop-color="#4337df"/><stop offset="0.753" stop-color="#4333d9"/><stop offset="0.8036" stop-color="#4334db"/><stop offset="0.8304" stop-color="#433ce7"/><stop offset="0.8452" stop-color="#4448f1"/><stop offset="0.8631" stop-color="#385cfb"/><stop offset="0.872" stop-color="#2d64fe"/><stop offset="0.8839" stop-color="#1471fb"/><stop offset="0.9048" stop-color="#0a7ffa"/><stop offset="0.9256" stop-color="#0c8df4"/><stop offset="0.9375" stop-color="#0d99eb"/><stop offset="0.9524" stop-color="#05abdb"/><stop offset="0.9643" stop-color="#07b6c6"/><stop offset="0.9821" stop-color="#09beaf"/><stop offset="0.997" stop-color="#09c0a9"/></linearGradient><linearGradient id="g26" x1="0" y1="0" x2="0" y2="1"><stop offset="0.002976" stop-color="#faf808"/><stop offset="0.3333" stop-color="#fcef08"/><stop offset="0.3542" stop-color="#fdeb07"/><stop offset="0.372" stop-color="#fde20d"/><stop offset="0.4167" stop-color="#ffbe27"/><stop offset="0.4226" stop-color="#fdba28"/><stop offset="0.4345" stop-color="#f1be19"/><stop offset="0.4405" stop-color="#e0c70b"/><stop offset="0.4435" stop-color="#d4c90c"/><stop offset="0.4494" stop-color="#b8c915"/><stop offset="0.4524" stop-color="#a4cb23"/><stop offset="0.4554" stop-color="#8ecc30"/><stop offset="0.4643" stop-color="#3cd159"/><stop offset="0.4673" stop-color="#26d366"/><stop offset="0.4702" stop-color="#1cd06f"/><stop offset="0.4732" stop-color="#17ce77"/><stop offset="0.4821" stop-color="#0cc78e"/><stop offset="0.494" stop-color="#09beaf"/><stop offset="0.5208" stop-color="#05abdb"/><stop offset="0.5387" stop-color="#0d9bea"/><stop offset="0.5536" stop-color="#0c8ef3"/><stop offset="0.5804" stop-color="#0a7dfa"/><stop offset="0.5982" stop-color="#1372fb"/><stop offset="0.6131" stop-color="#2a65fe"/><stop offset="0.631" stop-color="#395cfb"/><stop offset="0.6637" stop-color="#4448f1"/><stop offset="0.6905" stop-color="#433ce8"/><stop offset="0.7411" stop-color="#4334d9"/><stop offset="0.7768" stop-color="#4332d7"/><stop offset="0.8065" stop-color="#4335db"/><stop offset="0.8304" stop-color="#433ce8"/><stop offset="0.8423" stop-color="#4545f0"/><stop offset="0.8601" stop-color="#3a5afa"/><stop offset="0.872" stop-color="#2b65fe"/><stop offset="0.8839" stop-color="#1372fb"/><stop offset="0.9018" stop-color="#0a7dfa"/><stop offset="0.9256" stop-color="#0c8cf4"/><stop offset="0.9375" stop-color="#0d99eb"/><stop offset="0.9494" stop-color="#07a8de"/><stop offset="0.9554" stop-color="#05afd5"/><stop offset="0.9643" stop-color="#08b8c3"/><stop offset="0.9851" stop-color="#0ac2a1"/><stop offset="0.997" stop-color="#0bc597"/></linearGradient><linearGradient id="g27" x1="0" y1="0" x2="0" y2="1"><stop offset="0.002976" stop-color="#faf808"/><stop offset="0.3304" stop-color="#fcef08"/><stop offset="0.3542" stop-color="#fdea08"/><stop offset="0.369" stop-color="#fde20d"/><stop offset="0.4137" stop-color="#ffbd27"/><stop offset="0.4196" stop-color="#fcba27"/><stop offset="0.4315" stop-color="#f1be19"/><stop offset="0.4375" stop-color="#dfc80b"/><stop offset="0.4405" stop-color="#d3c90c"/><stop offset="0.4464" stop-color="#b8c915"/><stop offset="0.4494" stop-color="#a5cb22"/><stop offset="0.4524" stop-color="#8fcc2f"/><stop offset="0.4583" stop-color="#57cf49"/><stop offset="0.4643" stop-color="#26d366"/><stop offset="0.4702" stop-color="#17ce76"/><stop offset="0.4792" stop-color="#0cc78e"/><stop offset="0.4911" stop-color="#09beae"/><stop offset="0.5179" stop-color="#05abdb"/><stop offset="0.5357" stop-color="#0d9be9"/><stop offset="0.5506" stop-color="#0c8ff3"/><stop offset="0.5774" stop-color="#0a7efa"/><stop offset="0.5982" stop-color="#1570fb"/><stop offset="0.6131" stop-color="#2d64fe"/><stop offset="0.628" stop-color="#385cfb"/><stop offset="0.6607" stop-color="#4448f1"/><stop offset="0.6875" stop-color="#433ce8"/><stop offset="0.7381" stop-color="#4333d9"/><stop offset="0.7738" stop-color="#4332d6"/><stop offset="0.8036" stop-color="#4334da"/><stop offset="0.8304" stop-color="#433ce8"/><stop offset="0.8423" stop-color="#4446f0"/><stop offset="0.8601" stop-color="#395bfa"/><stop offset="0.869" stop-color="#2e63fe"/><stop offset="0.881" stop-color="#1570fb"/><stop offset="0.8839" stop-color="#1373fb"/><stop offset="0.9018" stop-color="#0a7efa"/><stop offset="0.9256" stop-color="#0c8bf4"/><stop offset="0.9405" stop-color="#0d9bea"/><stop offset="0.9524" stop-color="#06aadc"/><stop offset="0.9643" stop-color="#08b7c5"/><stop offset="0.9851" stop-color="#0ac39e"/><stop offset="0.997" stop-color="#0cc691"/></linearGradient><linearGradient id="g28" x1="0" y1="0" x2="0" y2="1"><stop offset="0.002976" stop-color="#faf808"/><stop offset="0.3274" stop-color="#fcef08"/><stop offset="0.3482" stop-color="#fdeb07"/><stop offset="0.3661" stop-color="#fde20d"/><stop offset="0.4107" stop-color="#ffbd27"/><stop offset="0.4167" stop-color="#fcba27"/><stop offset="0.4286" stop-color="#f0be18"/><stop offset="0.4345" stop-color="#dec80a"/><stop offset="0.4405" stop-color="#c6c80f"/><stop offset="0.4435" stop-color="#b7c916"/><stop offset="0.4464" stop-color="#a5cb22"/><stop offset="0.4494" stop-color="#8fcc2f"/><stop offset="0.4613" stop-color="#27d365"/><stop offset="0.4673" stop-color="#17ce76"/><stop offset="0.4762" stop-color="#0cc78d"/><stop offset="0.4881" stop-color="#09beae"/><stop offset="0.5149" stop-color="#05acda"/><stop offset="0.5357" stop-color="#0d99eb"/><stop offset="0.5506" stop-color="#0c8df4"/><stop offset="0.5744" stop-color="#0a7efa"/><stop offset="0.5952" stop-color="#1471fb"/><stop offset="0.6101" stop-color="#2d64fe"/><stop offset="0.625" stop-color="#385cfb"/><stop offset="0.6577" stop-color="#4448f2"/><stop offset="0.6845" stop-color="#433ce8"/><stop offset="0.7381" stop-color="#4333d9"/><stop offset="0.7738" stop-color="#4332d6"/><stop offset="0.8036" stop-color="#4334da"/><stop offset="0.8304" stop-color="#433de9"/><stop offset="0.8423" stop-color="#4448f1"/><stop offset="0.8571" stop-color="#3b59fa"/><stop offset="0.869" stop-color="#2d64fe"/><stop offset="0.881" stop-color="#1471fb"/><stop offset="0.8869" stop-color="#1175fb"/><stop offset="0.9018" stop-color="#0a7efa"/><stop offset="0.9286" stop-color="#0c8df4"/><stop offset="0.9405" stop-color="#0d99eb"/><stop offset="0.9554" stop-color="#05abdb"/><stop offset="0.9762" stop-color="#09bcb4"/><stop offset="0.9881" stop-color="#0ac2a0"/><stop offset="0.997" stop-color="#0bc596"/></linearGradient><linearGradient id="g29" x1="0" y1="0" x2="0" y2="1"><stop offset="0.002976" stop-color="#faf808"/><stop offset="0.3274" stop-color="#fcee08"/><stop offset="0.3452" stop-color="#fdeb07"/><stop offset="0.3631" stop-color="#fde20d"/><stop offset="0.4107" stop-color="#febb29"/><stop offset="0.4256" stop-color="#efbf17"/><stop offset="0.4315" stop-color="#dec90a"/><stop offset="0.4375" stop-color="#c5c810"/><stop offset="0.4405" stop-color="#b6c916"/><stop offset="0.4464" stop-color="#8fcc2f"/><stop offset="0.4583" stop-color="#28d364"/><stop offset="0.4643" stop-color="#17ce75"/><stop offset="0.4702" stop-color="#10ca84"/><stop offset="0.4821" stop-color="#09c1a6"/><stop offset="0.497" stop-color="#08b8c2"/><stop offset="0.5149" stop-color="#06aadc"/><stop offset="0.5327" stop-color="#0d9aea"/><stop offset="0.5476" stop-color="#0c8ef3"/><stop offset="0.5714" stop-color="#0a7ffa"/><stop offset="0.5923" stop-color="#1471fb"/><stop offset="0.6071" stop-color="#2c64ff"/><stop offset="0.6131" stop-color="#3161fd"/><stop offset="0.625" stop-color="#3a5afa"/><stop offset="0.6399" stop-color="#3f52f8"/><stop offset="0.6577" stop-color="#4446f0"/><stop offset="0.6756" stop-color="#433eeb"/><stop offset="0.7113" stop-color="#4336de"/><stop offset="0.75" stop-color="#4332d7"/><stop offset="0.8006" stop-color="#4334da"/><stop offset="0.8244" stop-color="#433be5"/><stop offset="0.8393" stop-color="#4545f0"/><stop offset="0.8601" stop-color="#375cfb"/><stop offset="0.869" stop-color="#2c64ff"/><stop offset="0.881" stop-color="#1472fb"/><stop offset="0.8988" stop-color="#0a7dfa"/><stop offset="0.9137" stop-color="#0a84f8"/><stop offset="0.9315" stop-color="#0c8ff3"/><stop offset="0.9494" stop-color="#0ba1e5"/><stop offset="0.9613" stop-color="#05aed6"/><stop offset="0.9702" stop-color="#07b7c6"/><stop offset="0.9821" stop-color="#09bdb3"/><stop offset="0.997" stop-color="#0ac1a3"/></linearGradient><linearGradient id="g30" x1="0" y1="0" x2="0" y2="1"><stop offset="0.002976" stop-color="#faf808"/><stop offset="0.1667" stop-color="#fbf008"/><stop offset="0.3244" stop-color="#fcee08"/><stop offset="0.3423" stop-color="#fdeb07"/><stop offset="0.3601" stop-color="#fde20d"/><stop offset="0.4077" stop-color="#feba29"/><stop offset="0.4226" stop-color="#eebf17"/><stop offset="0.4286" stop-color="#ddc90a"/><stop offset="0.4345" stop-color="#c5c810"/><stop offset="0.4375" stop-color="#b6c916"/><stop offset="0.4435" stop-color="#8fcc2f"/><stop offset="0.4554" stop-color="#29d364"/><stop offset="0.4583" stop-color="#1fd16c"/><stop offset="0.4643" stop-color="#14cc7c"/><stop offset="0.4702" stop-color="#0dc88b"/><stop offset="0.4792" stop-color="#0ac1a5"/><stop offset="0.494" stop-color="#08b8c1"/><stop offset="0.5119" stop-color="#06aadc"/><stop offset="0.5298" stop-color="#0d9aea"/><stop offset="0.5446" stop-color="#0c8ef3"/><stop offset="0.5714" stop-color="#0a7dfa"/><stop offset="0.5893" stop-color="#1472fb"/><stop offset="0.6071" stop-color="#2e63fe"/><stop offset="0.622" stop-color="#3a5bfa"/><stop offset="0.6369" stop-color="#3f52f8"/><stop offset="0.6577" stop-color="#4545ef"/><stop offset="0.6756" stop-color="#433dea"/><stop offset="0.7083" stop-color="#4336de"/><stop offset="0.744" stop-color="#4333d8"/><stop offset="0.7976" stop-color="#4334da"/><stop offset="0.8244" stop-color="#433be6"/><stop offset="0.8393" stop-color="#4546f0"/><stop offset="0.8571" stop-color="#3a5afa"/><stop offset="0.869" stop-color="#2c65ff"/><stop offset="0.881" stop-color="#1372fb"/><stop offset="0.9018" stop-color="#0a7efa"/><stop offset="0.9315" stop-color="#0c8ef3"/><stop offset="0.9464" stop-color="#0d9be9"/><stop offset="0.9643" stop-color="#05aed7"/><stop offset="0.9762" stop-color="#08b7c4"/><stop offset="0.9881" stop-color="#09bcb6"/><stop offset="0.997" stop-color="#09bdb1"/></linearGradient><linearGradient id="g31" x1="0" y1="0" x2="0" y2="1"><stop offset="0.002976" stop-color="#faf808"/><stop offset="0.1726" stop-color="#fcef08"/><stop offset="0.3244" stop-color="#fced08"/><stop offset="0.3393" stop-color="#fdea07"/><stop offset="0.3601" stop-color="#fde00e"/><stop offset="0.4048" stop-color="#feba29"/><stop offset="0.4196" stop-color="#eebf16"/><stop offset="0.4256" stop-color="#ddc90a"/><stop offset="0.4315" stop-color="#c4c810"/><stop offset="0.4345" stop-color="#b6c916"/><stop offset="0.4405" stop-color="#90cc2f"/><stop offset="0.4524" stop-color="#2ad363"/><stop offset="0.4583" stop-color="#18ce74"/><stop offset="0.4673" stop-color="#0dc88b"/><stop offset="0.4762" stop-color="#0ac1a4"/><stop offset="0.4911" stop-color="#08b8c1"/><stop offset="0.5089" stop-color="#05abdb"/><stop offset="0.5298" stop-color="#0d99eb"/><stop offset="0.5446" stop-color="#0c8df4"/><stop offset="0.5685" stop-color="#0a7efa"/><stop offset="0.5863" stop-color="#1372fb"/><stop offset="0.6042" stop-color="#2e63fe"/><stop offset="0.619" stop-color="#395bfa"/><stop offset="0.6339" stop-color="#3f52f8"/><stop offset="0.6548" stop-color="#4545f0"/><stop offset="0.6726" stop-color="#433dea"/><stop offset="0.7054" stop-color="#4336de"/><stop offset="0.7381" stop-color="#4333d9"/><stop offset="0.7857" stop-color="#4333d9"/><stop offset="0.8214" stop-color="#433ae5"/><stop offset="0.8423" stop-color="#4349f2"/><stop offset="0.8571" stop-color="#3b5afa"/><stop offset="0.869" stop-color="#2c64fe"/><stop offset="0.881" stop-color="#1471fb"/><stop offset="0.8988" stop-color="#0a7dfa"/><stop offset="0.9286" stop-color="#0c8cf4"/><stop offset="0.9464" stop-color="#0d9aeb"/><stop offset="0.9643" stop-color="#06abdc"/><stop offset="0.9762" stop-color="#05b4cc"/><stop offset="0.997" stop-color="#08babb"/></linearGradient><linearGradient id="g32" x1="0" y1="0" x2="0" y2="1"><stop offset="0.002976" stop-color="#faf808"/><stop offset="0.1756" stop-color="#fcef08"/><stop offset="0.3214" stop-color="#fced08"/><stop offset="0.3363" stop-color="#fdea08"/><stop offset="0.3571" stop-color="#fddf0e"/><stop offset="0.4018" stop-color="#feba29"/><stop offset="0.4167" stop-color="#efbf17"/><stop offset="0.4226" stop-color="#ddc90a"/><stop offset="0.4286" stop-color="#c5c810"/><stop offset="0.4315" stop-color="#b7c916"/><stop offset="0.4375" stop-color="#91cc2e"/><stop offset="0.4494" stop-color="#2cd362"/><stop offset="0.4554" stop-color="#18cf73"/><stop offset="0.4643" stop-color="#0dc88a"/><stop offset="0.4732" stop-color="#0ac1a3"/><stop offset="0.4881" stop-color="#08b9c0"/><stop offset="0.506" stop-color="#05abdb"/><stop offset="0.5268" stop-color="#0d99eb"/><stop offset="0.5417" stop-color="#0c8df4"/><stop offset="0.5655" stop-color="#0a7efa"/><stop offset="0.5863" stop-color="#1570fb"/><stop offset="0.6012" stop-color="#2d64fe"/><stop offset="0.628" stop-color="#3e54f8"/><stop offset="0.6518" stop-color="#4546f0"/><stop offset="0.6696" stop-color="#433dea"/><stop offset="0.7292" stop-color="#4334d9"/><stop offset="0.7798" stop-color="#4333d8"/><stop offset="0.8214" stop-color="#433be7"/><stop offset="0.8363" stop-color="#4444ef"/><stop offset="0.8482" stop-color="#4050f7"/><stop offset="0.8601" stop-color="#395bfa"/><stop offset="0.872" stop-color="#2b65ff"/><stop offset="0.8839" stop-color="#1372fb"/><stop offset="0.8988" stop-color="#0a7dfa"/><stop offset="0.9286" stop-color="#0c8df4"/><stop offset="0.9464" stop-color="#0d99eb"/><stop offset="0.9702" stop-color="#05add9"/><stop offset="0.9851" stop-color="#06b5ca"/><stop offset="0.997" stop-color="#08b7c4"/></linearGradient><linearGradient id="g33" x1="0" y1="0" x2="0" y2="1"><stop offset="0.002976" stop-color="#faf808"/><stop offset="0.1786" stop-color="#fcee08"/><stop offset="0.3214" stop-color="#fcec08"/><stop offset="0.3571" stop-color="#fddd10"/><stop offset="0.3988" stop-color="#febb29"/><stop offset="0.4137" stop-color="#efbe17"/><stop offset="0.4196" stop-color="#dec80a"/><stop offset="0.4256" stop-color="#c6c80f"/><stop offset="0.4286" stop-color="#b8c915"/><stop offset="0.4345" stop-color="#93cc2d"/><stop offset="0.4464" stop-color="#2ed361"/><stop offset="0.4494" stop-color="#21d16b"/><stop offset="0.4524" stop-color="#19cf73"/><stop offset="0.4613" stop-color="#0dc989"/><stop offset="0.4732" stop-color="#09bfab"/><stop offset="0.4911" stop-color="#06b5c9"/><stop offset="0.506" stop-color="#07a9dd"/><stop offset="0.5238" stop-color="#0d9aea"/><stop offset="0.5387" stop-color="#0c8ef3"/><stop offset="0.5655" stop-color="#0a7dfa"/><stop offset="0.5833" stop-color="#1471fb"/><stop offset="0.5982" stop-color="#2d64fe"/><stop offset="0.622" stop-color="#3d56f9"/><stop offset="0.6488" stop-color="#4546f0"/><stop offset="0.6667" stop-color="#433dea"/><stop offset="0.7232" stop-color="#4334da"/><stop offset="0.7768" stop-color="#4333d9"/><stop offset="0.8185" stop-color="#433be7"/><stop offset="0.8363" stop-color="#4545ef"/><stop offset="0.8482" stop-color="#4050f7"/><stop offset="0.8601" stop-color="#3a5afa"/><stop offset="0.875" stop-color="#2a65fe"/><stop offset="0.8869" stop-color="#1372fb"/><stop offset="0.9018" stop-color="#0a7efa"/><stop offset="0.9464" stop-color="#0d99eb"/><stop offset="0.9762" stop-color="#05aed7"/><stop offset="0.997" stop-color="#06b4ca"/></linearGradient><linearGradient id="g34" x1="0" y1="0" x2="0" y2="1"><stop offset="0.002976" stop-color="#faf808"/><stop offset="0.1845" stop-color="#fced08"/><stop offset="0.3185" stop-color="#fdec07"/><stop offset="0.3542" stop-color="#fddd10"/><stop offset="0.3958" stop-color="#febb28"/><stop offset="0.4107" stop-color="#f1be18"/><stop offset="0.4167" stop-color="#dfc80b"/><stop offset="0.4256" stop-color="#bac814"/><stop offset="0.4315" stop-color="#96cc2c"/><stop offset="0.4435" stop-color="#30d360"/><stop offset="0.4464" stop-color="#22d16a"/><stop offset="0.4494" stop-color="#19cf72"/><stop offset="0.4583" stop-color="#0ec988"/><stop offset="0.4702" stop-color="#09bfaa"/><stop offset="0.4881" stop-color="#06b5c9"/><stop offset="0.503" stop-color="#06a9dd"/><stop offset="0.5208" stop-color="#0d9aea"/><stop offset="0.5387" stop-color="#0c8cf4"/><stop offset="0.5625" stop-color="#0a7efa"/><stop offset="0.5804" stop-color="#1472fb"/><stop offset="0.5952" stop-color="#2c64ff"/><stop offset="0.622" stop-color="#3e55f9"/><stop offset="0.6458" stop-color="#4446f0"/><stop offset="0.6637" stop-color="#433eea"/><stop offset="0.7202" stop-color="#4334da"/><stop offset="0.7738" stop-color="#4333d9"/><stop offset="0.8185" stop-color="#433ce8"/><stop offset="0.8363" stop-color="#4545f0"/><stop offset="0.8512" stop-color="#4051f8"/><stop offset="0.8631" stop-color="#3a5bfa"/><stop offset="0.878" stop-color="#2a66fe"/><stop offset="0.8869" stop-color="#1670fb"/><stop offset="0.9018" stop-color="#0a7dfa"/><stop offset="0.9494" stop-color="#0d9aea"/><stop offset="0.9762" stop-color="#05abdb"/><stop offset="0.997" stop-color="#05b2cf"/></linearGradient><linearGradient id="g35" x1="0" y1="0" x2="0" y2="1"><stop offset="0.002976" stop-color="#faf808"/><stop offset="0.1875" stop-color="#fced08"/><stop offset="0.3185" stop-color="#fdeb07"/><stop offset="0.3512" stop-color="#fddd10"/><stop offset="0.3958" stop-color="#fdba28"/><stop offset="0.4077" stop-color="#f1bd19"/><stop offset="0.4137" stop-color="#e1c70c"/><stop offset="0.4167" stop-color="#d6c90b"/><stop offset="0.4226" stop-color="#bdc812"/><stop offset="0.4286" stop-color="#99cc2b"/><stop offset="0.4345" stop-color="#64cd42"/><stop offset="0.4405" stop-color="#33d25e"/><stop offset="0.4435" stop-color="#23d269"/><stop offset="0.4464" stop-color="#1acf71"/><stop offset="0.4554" stop-color="#0ec987"/><stop offset="0.4673" stop-color="#09c0a9"/><stop offset="0.4851" stop-color="#06b5c8"/><stop offset="0.5" stop-color="#06aadd"/><stop offset="0.5208" stop-color="#0d98eb"/><stop offset="0.5357" stop-color="#0c8df4"/><stop offset="0.5595" stop-color="#0a7efa"/><stop offset="0.5804" stop-color="#1570fb"/><stop offset="0.5952" stop-color="#2e63fe"/><stop offset="0.6101" stop-color="#3a5bfa"/><stop offset="0.622" stop-color="#3e53f8"/><stop offset="0.6429" stop-color="#4446f0"/><stop offset="0.6607" stop-color="#433eea"/><stop offset="0.7202" stop-color="#4333d9"/><stop offset="0.7738" stop-color="#4333d9"/><stop offset="0.8214" stop-color="#433dea"/><stop offset="0.8363" stop-color="#4545f0"/><stop offset="0.8601" stop-color="#3c57f9"/><stop offset="0.881" stop-color="#2866fe"/><stop offset="0.8899" stop-color="#1471fb"/><stop offset="0.9018" stop-color="#0b7cfa"/><stop offset="0.9494" stop-color="#0d9aea"/><stop offset="0.9792" stop-color="#06abdc"/><stop offset="0.997" stop-color="#05b0d3"/></linearGradient><linearGradient id="g36" x1="0" y1="0" x2="0" y2="1"><stop offset="0.002976" stop-color="#faf808"/><stop offset="0.1935" stop-color="#fdec07"/><stop offset="0.3155" stop-color="#fdea07"/><stop offset="0.3482" stop-color="#fddd10"/><stop offset="0.3929" stop-color="#fdba28"/><stop offset="0.4048" stop-color="#f2bd1a"/><stop offset="0.4077" stop-color="#ecc114"/><stop offset="0.4137" stop-color="#d9c90b"/><stop offset="0.4196" stop-color="#c0c811"/><stop offset="0.4256" stop-color="#9dcc28"/><stop offset="0.4375" stop-color="#36d25c"/><stop offset="0.4405" stop-color="#24d268"/><stop offset="0.4435" stop-color="#1acf70"/><stop offset="0.4524" stop-color="#0fc986"/><stop offset="0.4643" stop-color="#09c0a7"/><stop offset="0.4821" stop-color="#06b6c7"/><stop offset="0.497" stop-color="#06aadc"/><stop offset="0.5179" stop-color="#0d99eb"/><stop offset="0.5327" stop-color="#0c8ef3"/><stop offset="0.5595" stop-color="#0a7dfa"/><stop offset="0.5774" stop-color="#1471fb"/><stop offset="0.5923" stop-color="#2d64fe"/><stop offset="0.619" stop-color="#3e54f8"/><stop offset="0.6399" stop-color="#4447f1"/><stop offset="0.6577" stop-color="#433eea"/><stop offset="0.7173" stop-color="#4333d8"/><stop offset="0.7708" stop-color="#4333d9"/><stop offset="0.8185" stop-color="#433de9"/><stop offset="0.8363" stop-color="#4545ef"/><stop offset="0.8542" stop-color="#4051f8"/><stop offset="0.8661" stop-color="#3b59fa"/><stop offset="0.881" stop-color="#2d64fe"/><stop offset="0.8929" stop-color="#1372fb"/><stop offset="0.9048" stop-color="#0a7dfa"/><stop offset="0.9494" stop-color="#0d9aea"/><stop offset="0.997" stop-color="#05aed6"/></linearGradient><linearGradient id="g37" x1="0" y1="0" x2="0" y2="1"><stop offset="0.002976" stop-color="#faf808"/><stop offset="0.1964" stop-color="#fdeb07"/><stop offset="0.3095" stop-color="#fdea07"/><stop offset="0.3452" stop-color="#fddc10"/><stop offset="0.3899" stop-color="#fdba28"/><stop offset="0.4048" stop-color="#edc015"/><stop offset="0.4107" stop-color="#dbc90a"/><stop offset="0.4167" stop-color="#c2c810"/><stop offset="0.4226" stop-color="#a0cb26"/><stop offset="0.4345" stop-color="#3cd159"/><stop offset="0.4375" stop-color="#26d366"/><stop offset="0.4405" stop-color="#1cd06e"/><stop offset="0.4494" stop-color="#0fca85"/><stop offset="0.4613" stop-color="#0ac1a5"/><stop offset="0.4762" stop-color="#08b8c1"/><stop offset="0.494" stop-color="#05abdb"/><stop offset="0.5149" stop-color="#0d9aea"/><stop offset="0.5327" stop-color="#0c8cf4"/><stop offset="0.5565" stop-color="#0a7efa"/><stop offset="0.5744" stop-color="#1372fb"/><stop offset="0.5893" stop-color="#2c65ff"/><stop offset="0.5952" stop-color="#3161fd"/><stop offset="0.619" stop-color="#3f52f8"/><stop offset="0.6399" stop-color="#4545ef"/><stop offset="0.6548" stop-color="#433eea"/><stop offset="0.7143" stop-color="#4333d8"/><stop offset="0.7708" stop-color="#4333d8"/><stop offset="0.8214" stop-color="#433de9"/><stop offset="0.8393" stop-color="#4546f0"/><stop offset="0.8571" stop-color="#3f52f8"/><stop offset="0.869" stop-color="#3a5afa"/><stop offset="0.8839" stop-color="#2c64ff"/><stop offset="0.8929" stop-color="#1770fb"/><stop offset="0.9077" stop-color="#0a7efa"/><stop offset="0.9494" stop-color="#0d99eb"/><stop offset="0.997" stop-color="#05acd9"/></linearGradient><linearGradient id="g38" x1="0" y1="0" x2="0" y2="1"><stop offset="0.002976" stop-color="#faf708"/><stop offset="0.2113" stop-color="#fde908"/><stop offset="0.3006" stop-color="#fdea07"/><stop offset="0.3393" stop-color="#fddd10"/><stop offset="0.3869" stop-color="#fdba28"/><stop offset="0.4018" stop-color="#edc016"/><stop offset="0.4077" stop-color="#dcc90a"/><stop offset="0.4137" stop-color="#c4c810"/><stop offset="0.4196" stop-color="#a3cb23"/><stop offset="0.4226" stop-color="#8ecc2f"/><stop offset="0.4345" stop-color="#29d364"/><stop offset="0.4405" stop-color="#18ce74"/><stop offset="0.4494" stop-color="#0dc88a"/><stop offset="0.4583" stop-color="#0ac1a3"/><stop offset="0.4762" stop-color="#08b7c4"/><stop offset="0.494" stop-color="#06a9dd"/><stop offset="0.5149" stop-color="#0d98eb"/><stop offset="0.5298" stop-color="#0c8df4"/><stop offset="0.5536" stop-color="#0a7ffa"/><stop offset="0.5744" stop-color="#1471fb"/><stop offset="0.5893" stop-color="#2e63fe"/><stop offset="0.6042" stop-color="#3a5bfa"/><stop offset="0.619" stop-color="#4051f8"/><stop offset="0.6369" stop-color="#4545f0"/><stop offset="0.6518" stop-color="#433eea"/><stop offset="0.7113" stop-color="#4332d7"/><stop offset="0.7679" stop-color="#4332d7"/><stop offset="0.8214" stop-color="#433de9"/><stop offset="0.8393" stop-color="#4545ef"/><stop offset="0.8571" stop-color="#4050f7"/><stop offset="0.872" stop-color="#3a5bfa"/><stop offset="0.8869" stop-color="#2b65ff"/><stop offset="0.8958" stop-color="#1670fb"/><stop offset="0.9077" stop-color="#0a7cfa"/><stop offset="0.9405" stop-color="#0d94ee"/><stop offset="0.997" stop-color="#06aadc"/></linearGradient><linearGradient id="g39" x1="0" y1="0" x2="0" y2="1"><stop offset="0.002976" stop-color="#faf708"/><stop offset="0.2113" stop-color="#fde909"/><stop offset="0.3006" stop-color="#fde908"/><stop offset="0.3393" stop-color="#fddb11"/><stop offset="0.3839" stop-color="#fdba28"/><stop offset="0.3988" stop-color="#eebf16"/><stop offset="0.4048" stop-color="#ddc90a"/><stop offset="0.4107" stop-color="#c5c810"/><stop offset="0.4137" stop-color="#b8c915"/><stop offset="0.4196" stop-color="#93cc2d"/><stop offset="0.4315" stop-color="#2fd360"/><stop offset="0.4345" stop-color="#21d16a"/><stop offset="0.4375" stop-color="#19cf72"/><stop offset="0.4464" stop-color="#0ec988"/><stop offset="0.4583" stop-color="#09c0a9"/><stop offset="0.4911" stop-color="#06aadc"/><stop offset="0.5119" stop-color="#0d99eb"/><stop offset="0.5298" stop-color="#0c8cf4"/><stop offset="0.5536" stop-color="#0a7efa"/><stop offset="0.5714" stop-color="#1372fb"/><stop offset="0.5863" stop-color="#2c64fe"/><stop offset="0.5923" stop-color="#3261fd"/><stop offset="0.6161" stop-color="#3f52f8"/><stop offset="0.6339" stop-color="#4545f0"/><stop offset="0.6488" stop-color="#433eea"/><stop offset="0.6815" stop-color="#4335dd"/><stop offset="0.7113" stop-color="#4332d6"/><stop offset="0.7649" stop-color="#4332d6"/><stop offset="0.8244" stop-color="#433dea"/><stop offset="0.8423" stop-color="#4546f0"/><stop offset="0.8661" stop-color="#3d55f9"/><stop offset="0.875" stop-color="#395bfa"/><stop offset="0.8899" stop-color="#2a66fe"/><stop offset="0.8988" stop-color="#1471fb"/><stop offset="0.9107" stop-color="#0a7efa"/><stop offset="0.9435" stop-color="#0d95ee"/><stop offset="0.997" stop-color="#07a9dd"/></linearGradient><linearGradient id="g40" x1="0" y1="0" x2="0" y2="1"><stop offset="0.002976" stop-color="#faf708"/><stop offset="0.2113" stop-color="#fde809"/><stop offset="0.2976" stop-color="#fde809"/><stop offset="0.3363" stop-color="#fedb11"/><stop offset="0.381" stop-color="#fdba29"/><stop offset="0.3958" stop-color="#efbf17"/><stop offset="0.4018" stop-color="#dec80a"/><stop offset="0.4107" stop-color="#bac814"/><stop offset="0.4167" stop-color="#98cc2b"/><stop offset="0.4226" stop-color="#64cd41"/><stop offset="0.4286" stop-color="#34d25d"/><stop offset="0.4315" stop-color="#23d268"/><stop offset="0.4345" stop-color="#1acf70"/><stop offset="0.4435" stop-color="#0fc987"/><stop offset="0.4554" stop-color="#09c0a7"/><stop offset="0.4702" stop-color="#08b8c1"/><stop offset="0.4881" stop-color="#05abdb"/><stop offset="0.5089" stop-color="#0d9aea"/><stop offset="0.5268" stop-color="#0c8df4"/><stop offset="0.5536" stop-color="#0a7dfa"/><stop offset="0.5714" stop-color="#1471fb"/><stop offset="0.5863" stop-color="#2e63fe"/><stop offset="0.6012" stop-color="#3a5afa"/><stop offset="0.6131" stop-color="#3f52f8"/><stop offset="0.631" stop-color="#4546f0"/><stop offset="0.6458" stop-color="#433eea"/><stop offset="0.6786" stop-color="#4335dc"/><stop offset="0.7083" stop-color="#4331d5"/><stop offset="0.7649" stop-color="#4332d6"/><stop offset="0.8274" stop-color="#433eeb"/><stop offset="0.8423" stop-color="#4546f0"/><stop offset="0.875" stop-color="#395bfa"/><stop offset="0.8899" stop-color="#2b65ff"/><stop offset="0.8988" stop-color="#1770fb"/><stop offset="0.9107" stop-color="#0a7cfa"/><stop offset="0.9435" stop-color="#0d94ef"/><stop offset="0.997" stop-color="#07a7df"/></linearGradient><linearGradient id="g41" x1="0" y1="0" x2="0" y2="1"><stop offset="0.002976" stop-color="#faf708"/><stop offset="0.2113" stop-color="#fde809"/><stop offset="0.2946" stop-color="#fde809"/><stop offset="0.3333" stop-color="#fedb11"/><stop offset="0.378" stop-color="#feba29"/><stop offset="0.3929" stop-color="#f0be18"/><stop offset="0.3988" stop-color="#e0c70b"/><stop offset="0.4077" stop-color="#bdc812"/><stop offset="0.4137" stop-color="#9bcc29"/><stop offset="0.4256" stop-color="#3ad25a"/><stop offset="0.4286" stop-color="#26d366"/><stop offset="0.4315" stop-color="#1cd06e"/><stop offset="0.4405" stop-color="#0fca85"/><stop offset="0.4524" stop-color="#0ac1a5"/><stop offset="0.4702" stop-color="#08b7c5"/><stop offset="0.4881" stop-color="#06aadc"/><stop offset="0.5089" stop-color="#0d99eb"/><stop offset="0.5268" stop-color="#0c8cf4"/><stop offset="0.5506" stop-color="#0a7efa"/><stop offset="0.5685" stop-color="#1372fb"/><stop offset="0.5833" stop-color="#2d64fe"/><stop offset="0.5893" stop-color="#3260fd"/><stop offset="0.6131" stop-color="#4051f7"/><stop offset="0.628" stop-color="#4446f0"/><stop offset="0.6429" stop-color="#433eeb"/><stop offset="0.6756" stop-color="#4335dc"/><stop offset="0.7083" stop-color="#4230d3"/><stop offset="0.7619" stop-color="#4331d5"/><stop offset="0.8244" stop-color="#433dea"/><stop offset="0.8423" stop-color="#4446f0"/><stop offset="0.8661" stop-color="#3d56f9"/><stop offset="0.875" stop-color="#395cfb"/><stop offset="0.8899" stop-color="#2a66fe"/><stop offset="0.8988" stop-color="#1571fb"/><stop offset="0.9107" stop-color="#0b7cfa"/><stop offset="0.9464" stop-color="#0d94ee"/><stop offset="0.997" stop-color="#08a7e0"/></linearGradient><linearGradient id="g42" x1="0" y1="0" x2="0" y2="1"><stop offset="0.002976" stop-color="#faf708"/><stop offset="0.2083" stop-color="#fde908"/><stop offset="0.2917" stop-color="#fde709"/><stop offset="0.3304" stop-color="#fedb11"/><stop offset="0.375" stop-color="#feba29"/><stop offset="0.3899" stop-color="#f1be19"/><stop offset="0.3958" stop-color="#e2c60d"/><stop offset="0.3988" stop-color="#d8c90b"/><stop offset="0.4048" stop-color="#c0c811"/><stop offset="0.4107" stop-color="#9fcb26"/><stop offset="0.4256" stop-color="#28d364"/><stop offset="0.4315" stop-color="#18ce74"/><stop offset="0.4375" stop-color="#10ca83"/><stop offset="0.4494" stop-color="#0ac1a3"/><stop offset="0.4673" stop-color="#08b8c4"/><stop offset="0.4851" stop-color="#06abdc"/><stop offset="0.506" stop-color="#0d9aea"/><stop offset="0.5238" stop-color="#0c8df3"/><stop offset="0.5506" stop-color="#0a7efa"/><stop offset="0.5685" stop-color="#1471fb"/><stop offset="0.5804" stop-color="#2a65fe"/><stop offset="0.5863" stop-color="#3161fd"/><stop offset="0.6101" stop-color="#3f51f8"/><stop offset="0.625" stop-color="#4447f1"/><stop offset="0.6429" stop-color="#433de9"/><stop offset="0.6756" stop-color="#4334da"/><stop offset="0.7054" stop-color="#4230d2"/><stop offset="0.7589" stop-color="#4230d3"/><stop offset="0.8185" stop-color="#433ce8"/><stop offset="0.8393" stop-color="#4545f0"/><stop offset="0.8571" stop-color="#4051f8"/><stop offset="0.872" stop-color="#3a5bfa"/><stop offset="0.8869" stop-color="#2c64ff"/><stop offset="0.8988" stop-color="#1372fb"/><stop offset="0.9107" stop-color="#0a7cfa"/><stop offset="0.9464" stop-color="#0c93ef"/><stop offset="0.997" stop-color="#08a6e0"/></linearGradient><linearGradient id="g43" x1="0" y1="0" x2="0" y2="1"><stop offset="0.002976" stop-color="#faf708"/><stop offset="0.2887" stop-color="#fde70a"/><stop offset="0.3274" stop-color="#feda12"/><stop offset="0.372" stop-color="#febb28"/><stop offset="0.3869" stop-color="#f2bd1a"/><stop offset="0.3958" stop-color="#dbc90a"/><stop offset="0.4018" stop-color="#c3c810"/><stop offset="0.4048" stop-color="#b5c917"/><stop offset="0.4107" stop-color="#90cc2f"/><stop offset="0.4226" stop-color="#2dd361"/><stop offset="0.4256" stop-color="#21d16a"/><stop offset="0.4286" stop-color="#19cf72"/><stop offset="0.4375" stop-color="#0ec988"/><stop offset="0.4494" stop-color="#09c0a9"/><stop offset="0.4643" stop-color="#08b8c3"/><stop offset="0.4821" stop-color="#05abdb"/><stop offset="0.506" stop-color="#0d99eb"/><stop offset="0.5238" stop-color="#0c8df4"/><stop offset="0.5506" stop-color="#0a7dfa"/><stop offset="0.5685" stop-color="#1570fb"/><stop offset="0.5804" stop-color="#2c64ff"/><stop offset="0.5863" stop-color="#3260fd"/><stop offset="0.6101" stop-color="#4050f7"/><stop offset="0.625" stop-color="#4545ef"/><stop offset="0.6399" stop-color="#433de9"/><stop offset="0.6726" stop-color="#4334da"/><stop offset="0.7054" stop-color="#422fd1"/><stop offset="0.7589" stop-color="#4230d3"/><stop offset="0.8155" stop-color="#433ce7"/><stop offset="0.8363" stop-color="#4545ef"/><stop offset="0.8542" stop-color="#4051f7"/><stop offset="0.869" stop-color="#3a5afa"/><stop offset="0.8839" stop-color="#2d64fe"/><stop offset="0.8958" stop-color="#1570fb"/><stop offset="0.9107" stop-color="#0a7dfa"/><stop offset="0.9643" stop-color="#0d9aeb"/><stop offset="0.997" stop-color="#08a6e0"/></linearGradient><linearGradient id="g44" x1="0" y1="0" x2="0" y2="1"><stop offset="0.002976" stop-color="#faf608"/><stop offset="0.2857" stop-color="#fde70a"/><stop offset="0.3244" stop-color="#feda12"/><stop offset="0.372" stop-color="#fdba28"/><stop offset="0.3869" stop-color="#efbf17"/><stop offset="0.3929" stop-color="#dec80a"/><stop offset="0.4018" stop-color="#bbc813"/><stop offset="0.4077" stop-color="#98cc2b"/><stop offset="0.4137" stop-color="#64cd41"/><stop offset="0.4196" stop-color="#34d25d"/><stop offset="0.4226" stop-color="#23d268"/><stop offset="0.4256" stop-color="#1acf70"/><stop offset="0.4345" stop-color="#0fc987"/><stop offset="0.4464" stop-color="#09c0a7"/><stop offset="0.4643" stop-color="#07b6c6"/><stop offset="0.4821" stop-color="#06a9dd"/><stop offset="0.503" stop-color="#0d9aea"/><stop offset="0.5208" stop-color="#0c8ef3"/><stop offset="0.5476" stop-color="#0a7efa"/><stop offset="0.5655" stop-color="#1372fb"/><stop offset="0.5804" stop-color="#2d64fe"/><stop offset="0.5952" stop-color="#3b5afa"/><stop offset="0.6071" stop-color="#4051f8"/><stop offset="0.622" stop-color="#4545f0"/><stop offset="0.6369" stop-color="#433de9"/><stop offset="0.6696" stop-color="#4334d9"/><stop offset="0.7024" stop-color="#422fd0"/><stop offset="0.756" stop-color="#422fd1"/><stop offset="0.8095" stop-color="#433ae5"/><stop offset="0.8363" stop-color="#4546f0"/><stop offset="0.8512" stop-color="#4050f7"/><stop offset="0.8661" stop-color="#3a5afa"/><stop offset="0.8839" stop-color="#2a66fe"/><stop offset="0.8958" stop-color="#1372fb"/><stop offset="0.9107" stop-color="#0a7dfa"/><stop offset="0.9673" stop-color="#0d9aea"/><stop offset="0.997" stop-color="#08a5e1"/></linearGradient><linearGradient id="g45" x1="0" y1="0" x2="0" y2="1"><stop offset="0.002976" stop-color="#faf608"/><stop offset="0.2827" stop-color="#fde60a"/><stop offset="0.3214" stop-color="#feda12"/><stop offset="0.369" stop-color="#feba29"/><stop offset="0.3839" stop-color="#f1be19"/><stop offset="0.3899" stop-color="#e1c70c"/><stop offset="0.3929" stop-color="#d7c90b"/><stop offset="0.3988" stop-color="#bfc811"/><stop offset="0.4048" stop-color="#9ecb27"/><stop offset="0.4196" stop-color="#26d366"/><stop offset="0.4226" stop-color="#1dd06e"/><stop offset="0.4315" stop-color="#10ca84"/><stop offset="0.4435" stop-color="#0ac1a5"/><stop offset="0.4613" stop-color="#07b7c5"/><stop offset="0.4792" stop-color="#06aadc"/><stop offset="0.503" stop-color="#0d99eb"/><stop offset="0.5476" stop-color="#0a7dfa"/><stop offset="0.5655" stop-color="#1471fb"/><stop offset="0.5774" stop-color="#2b65ff"/><stop offset="0.5893" stop-color="#375dfb"/><stop offset="0.6071" stop-color="#4050f7"/><stop offset="0.619" stop-color="#4446f0"/><stop offset="0.6399" stop-color="#433be6"/><stop offset="0.6696" stop-color="#4333d8"/><stop offset="0.7024" stop-color="#422ecf"/><stop offset="0.753" stop-color="#422fd0"/><stop offset="0.8065" stop-color="#4339e4"/><stop offset="0.8333" stop-color="#4545f0"/><stop offset="0.8482" stop-color="#414ff7"/><stop offset="0.8661" stop-color="#395bfa"/><stop offset="0.881" stop-color="#2b65ff"/><stop offset="0.8929" stop-color="#1471fb"/><stop offset="0.9107" stop-color="#0a7dfa"/><stop offset="0.9673" stop-color="#0d99eb"/><stop offset="0.997" stop-color="#08a6e0"/></linearGradient><linearGradient id="g46" x1="0" y1="0" x2="0" y2="1"><stop offset="0.002976" stop-color="#faf608"/><stop offset="0.2798" stop-color="#fde60a"/><stop offset="0.3214" stop-color="#fed913"/><stop offset="0.3661" stop-color="#feba29"/><stop offset="0.381" stop-color="#f2bd1a"/><stop offset="0.3839" stop-color="#ecc015"/><stop offset="0.3899" stop-color="#dbc90a"/><stop offset="0.3958" stop-color="#c4c810"/><stop offset="0.3988" stop-color="#b5c917"/><stop offset="0.4048" stop-color="#90cc2f"/><stop offset="0.4167" stop-color="#2cd362"/><stop offset="0.4196" stop-color="#20d16b"/><stop offset="0.4226" stop-color="#18cf73"/><stop offset="0.4315" stop-color="#0dc889"/><stop offset="0.4435" stop-color="#09bfab"/><stop offset="0.4613" stop-color="#06b5c8"/><stop offset="0.4762" stop-color="#06aadc"/><stop offset="0.5" stop-color="#0d9aeb"/><stop offset="0.5476" stop-color="#0a7dfa"/><stop offset="0.5655" stop-color="#1670fb"/><stop offset="0.5774" stop-color="#2d64fe"/><stop offset="0.5833" stop-color="#3260fd"/><stop offset="0.6042" stop-color="#4051f7"/><stop offset="0.619" stop-color="#4545ef"/><stop offset="0.6339" stop-color="#433ce8"/><stop offset="0.6637" stop-color="#4333d9"/><stop offset="0.6964" stop-color="#422ecf"/><stop offset="0.747" stop-color="#422ece"/><stop offset="0.8006" stop-color="#4338e1"/><stop offset="0.8333" stop-color="#4446f0"/><stop offset="0.8631" stop-color="#3a5bfa"/><stop offset="0.878" stop-color="#2d64fe"/><stop offset="0.8929" stop-color="#1472fb"/><stop offset="0.9107" stop-color="#0a7efa"/><stop offset="0.9673" stop-color="#0d99eb"/><stop offset="0.997" stop-color="#08a6e0"/></linearGradient><linearGradient id="g47" x1="0" y1="0" x2="0" y2="1"><stop offset="0.002976" stop-color="#faf608"/><stop offset="0.2738" stop-color="#fde70a"/><stop offset="0.3155" stop-color="#feda12"/><stop offset="0.3661" stop-color="#fcba27"/><stop offset="0.381" stop-color="#eebf16"/><stop offset="0.3869" stop-color="#dec80a"/><stop offset="0.3958" stop-color="#bac813"/><stop offset="0.4018" stop-color="#98cc2b"/><stop offset="0.4077" stop-color="#64cd41"/><stop offset="0.4137" stop-color="#34d25d"/><stop offset="0.4167" stop-color="#23d268"/><stop offset="0.4196" stop-color="#1acf71"/><stop offset="0.4286" stop-color="#0ec987"/><stop offset="0.4405" stop-color="#09c0a8"/><stop offset="0.4554" stop-color="#08b8c2"/><stop offset="0.4732" stop-color="#05abdb"/><stop offset="0.497" stop-color="#0d9aea"/><stop offset="0.5179" stop-color="#0c8df4"/><stop offset="0.5446" stop-color="#0a7efa"/><stop offset="0.5625" stop-color="#1471fb"/><stop offset="0.5744" stop-color="#2b65fe"/><stop offset="0.5893" stop-color="#395bfa"/><stop offset="0.6042" stop-color="#4050f7"/><stop offset="0.6161" stop-color="#4546f0"/><stop offset="0.6339" stop-color="#433be7"/><stop offset="0.6637" stop-color="#4333d8"/><stop offset="0.6935" stop-color="#422ece"/><stop offset="0.744" stop-color="#422dcc"/><stop offset="0.7976" stop-color="#4337df"/><stop offset="0.8333" stop-color="#4447f1"/><stop offset="0.8601" stop-color="#3a5afa"/><stop offset="0.878" stop-color="#2b65ff"/><stop offset="0.8899" stop-color="#1670fb"/><stop offset="0.9107" stop-color="#0a7dfa"/><stop offset="0.9673" stop-color="#0d99eb"/><stop offset="0.997" stop-color="#08a6e0"/></linearGradient><linearGradient id="g48" x1="0" y1="0" x2="0" y2="1"><stop offset="0.002976" stop-color="#faf608"/><stop offset="0.2679" stop-color="#fde809"/><stop offset="0.3125" stop-color="#feda12"/><stop offset="0.3631" stop-color="#fdba28"/><stop offset="0.378" stop-color="#efbf17"/><stop offset="0.3839" stop-color="#e0c70b"/><stop offset="0.3929" stop-color="#bec811"/><stop offset="0.3988" stop-color="#9dcc28"/><stop offset="0.4137" stop-color="#27d365"/><stop offset="0.4167" stop-color="#1dd06e"/><stop offset="0.4256" stop-color="#10ca84"/><stop offset="0.4375" stop-color="#0ac1a5"/><stop offset="0.4554" stop-color="#08b7c4"/><stop offset="0.4732" stop-color="#06aadc"/><stop offset="0.497" stop-color="#0d99eb"/><stop offset="0.5446" stop-color="#0a7dfa"/><stop offset="0.5625" stop-color="#1670fb"/><stop offset="0.5774" stop-color="#3062fe"/><stop offset="0.5893" stop-color="#3a5afa"/><stop offset="0.6012" stop-color="#4051f7"/><stop offset="0.6161" stop-color="#4545ef"/><stop offset="0.631" stop-color="#433ce8"/><stop offset="0.6607" stop-color="#4333d8"/><stop offset="0.6935" stop-color="#422dcd"/><stop offset="0.744" stop-color="#422dcc"/><stop offset="0.7976" stop-color="#4336df"/><stop offset="0.8185" stop-color="#433eeb"/><stop offset="0.8333" stop-color="#4447f1"/><stop offset="0.8601" stop-color="#395bfa"/><stop offset="0.875" stop-color="#2d64fe"/><stop offset="0.8899" stop-color="#1471fb"/><stop offset="0.9107" stop-color="#0a7dfa"/><stop offset="0.9673" stop-color="#0d99eb"/><stop offset="0.997" stop-color="#08a7df"/></linearGradient><linearGradient id="g49" x1="0" y1="0" x2="0" y2="1"><stop offset="0.002976" stop-color="#faf508"/><stop offset="0.2649" stop-color="#fde809"/><stop offset="0.3095" stop-color="#feda12"/><stop offset="0.3601" stop-color="#fdba28"/><stop offset="0.375" stop-color="#f1be18"/><stop offset="0.381" stop-color="#e1c60c"/><stop offset="0.3839" stop-color="#d8c90b"/><stop offset="0.3899" stop-color="#c1c811"/><stop offset="0.3958" stop-color="#a2cb24"/><stop offset="0.3988" stop-color="#8dcc30"/><stop offset="0.4107" stop-color="#2cd362"/><stop offset="0.4137" stop-color="#20d16b"/><stop offset="0.4167" stop-color="#19cf73"/><stop offset="0.4256" stop-color="#0ec989"/><stop offset="0.4375" stop-color="#09c0a9"/><stop offset="0.4643" stop-color="#05b0d3"/><stop offset="0.4821" stop-color="#0aa3e3"/><stop offset="0.497" stop-color="#0d98eb"/><stop offset="0.5149" stop-color="#0c8df4"/><stop offset="0.5446" stop-color="#0b7cfa"/><stop offset="0.5595" stop-color="#1471fb"/><stop offset="0.5714" stop-color="#2a65fe"/><stop offset="0.5893" stop-color="#3b59fa"/><stop offset="0.6131" stop-color="#4446f0"/><stop offset="0.6458" stop-color="#4336de"/><stop offset="0.6935" stop-color="#422dcc"/><stop offset="0.744" stop-color="#422dcb"/><stop offset="0.7976" stop-color="#4336de"/><stop offset="0.8304" stop-color="#4546f0"/><stop offset="0.8571" stop-color="#3a5afa"/><stop offset="0.875" stop-color="#2b65ff"/><stop offset="0.8899" stop-color="#1472fb"/><stop offset="0.9107" stop-color="#0a7dfa"/><stop offset="0.9464" stop-color="#0c8df4"/><stop offset="0.9673" stop-color="#0d99eb"/><stop offset="0.997" stop-color="#08a7df"/></linearGradient><linearGradient id="g50" x1="0" y1="0" x2="0" y2="1"><stop offset="0.002976" stop-color="#faf508"/><stop offset="0.2589" stop-color="#fde809"/><stop offset="0.3065" stop-color="#feda12"/><stop offset="0.3571" stop-color="#fdba29"/><stop offset="0.372" stop-color="#f1bd19"/><stop offset="0.381" stop-color="#dbc90a"/><stop offset="0.3869" stop-color="#c5c810"/><stop offset="0.3899" stop-color="#b7c915"/><stop offset="0.3958" stop-color="#95cc2c"/><stop offset="0.4018" stop-color="#63cd42"/><stop offset="0.4077" stop-color="#34d25d"/><stop offset="0.4107" stop-color="#24d268"/><stop offset="0.4137" stop-color="#1acf70"/><stop offset="0.4226" stop-color="#0fc986"/><stop offset="0.4345" stop-color="#09c0a6"/><stop offset="0.4583" stop-color="#05b3cd"/><stop offset="0.4702" stop-color="#06abdc"/><stop offset="0.4792" stop-color="#09a4e2"/><stop offset="0.494" stop-color="#0d9aea"/><stop offset="0.5119" stop-color="#0c8ef3"/><stop offset="0.5417" stop-color="#0a7dfa"/><stop offset="0.5595" stop-color="#1571fb"/><stop offset="0.5714" stop-color="#2c64ff"/><stop offset="0.5863" stop-color="#3a5afa"/><stop offset="0.6131" stop-color="#4545f0"/><stop offset="0.6458" stop-color="#4336dd"/><stop offset="0.6935" stop-color="#422dcb"/><stop offset="0.744" stop-color="#412cca"/><stop offset="0.7976" stop-color="#4336de"/><stop offset="0.8304" stop-color="#4446f0"/><stop offset="0.8571" stop-color="#3a5bfa"/><stop offset="0.872" stop-color="#2d64fe"/><stop offset="0.8869" stop-color="#1570fb"/><stop offset="0.9107" stop-color="#0a7dfa"/><stop offset="0.9494" stop-color="#0c8ef3"/><stop offset="0.9702" stop-color="#0d9aea"/><stop offset="0.997" stop-color="#07a8de"/></linearGradient><linearGradient id="g51" x1="0" y1="0" x2="0" y2="1"><stop offset="0.002976" stop-color="#faf508"/><stop offset="0.253" stop-color="#fde908"/><stop offset="0.3006" stop-color="#fddb11"/><stop offset="0.3542" stop-color="#feba29"/><stop offset="0.372" stop-color="#eebf16"/><stop offset="0.378" stop-color="#dec80a"/><stop offset="0.3869" stop-color="#bdc812"/><stop offset="0.3929" stop-color="#9ccc28"/><stop offset="0.3988" stop-color="#6ccd3e"/><stop offset="0.4077" stop-color="#27d365"/><stop offset="0.4137" stop-color="#18ce75"/><stop offset="0.4196" stop-color="#10ca83"/><stop offset="0.4315" stop-color="#0ac1a3"/><stop offset="0.4494" stop-color="#08b8c3"/><stop offset="0.4702" stop-color="#06a9dd"/><stop offset="0.494" stop-color="#0d99eb"/><stop offset="0.5417" stop-color="#0a7dfa"/><stop offset="0.5565" stop-color="#1372fb"/><stop offset="0.5714" stop-color="#2d64fe"/><stop offset="0.5804" stop-color="#355efc"/><stop offset="0.6012" stop-color="#414ef6"/><stop offset="0.6131" stop-color="#4545ef"/><stop offset="0.6339" stop-color="#433ae4"/><stop offset="0.6637" stop-color="#4231d4"/><stop offset="0.6935" stop-color="#412cca"/><stop offset="0.7202" stop-color="#412bc7"/><stop offset="0.744" stop-color="#412cc9"/><stop offset="0.7976" stop-color="#4336de"/><stop offset="0.8304" stop-color="#4447f1"/><stop offset="0.8542" stop-color="#3b5afa"/><stop offset="0.872" stop-color="#2b65ff"/><stop offset="0.8869" stop-color="#1471fb"/><stop offset="0.9107" stop-color="#0a7dfa"/><stop offset="0.9494" stop-color="#0c8df4"/><stop offset="0.9702" stop-color="#0d9aea"/><stop offset="0.997" stop-color="#07a8de"/></linearGradient><linearGradient id="g52" x1="0" y1="0" x2="0" y2="1"><stop offset="0.002976" stop-color="#fbf408"/><stop offset="0.25" stop-color="#fdea08"/><stop offset="0.2976" stop-color="#fddc11"/><stop offset="0.3542" stop-color="#fdba28"/><stop offset="0.369" stop-color="#f0be18"/><stop offset="0.375" stop-color="#e1c60c"/><stop offset="0.378" stop-color="#d8c90b"/><stop offset="0.3839" stop-color="#c2c810"/><stop offset="0.3899" stop-color="#a3cb23"/><stop offset="0.3929" stop-color="#90cc2f"/><stop offset="0.4048" stop-color="#2fd360"/><stop offset="0.4077" stop-color="#21d16a"/><stop offset="0.4107" stop-color="#19cf72"/><stop offset="0.4196" stop-color="#0ec988"/><stop offset="0.4315" stop-color="#09c0a8"/><stop offset="0.4554" stop-color="#05b3ce"/><stop offset="0.4762" stop-color="#09a4e2"/><stop offset="0.4911" stop-color="#0d9aea"/><stop offset="0.5119" stop-color="#0c8df4"/><stop offset="0.5417" stop-color="#0a7cfa"/><stop offset="0.5565" stop-color="#1372fb"/><stop offset="0.5685" stop-color="#2a66fe"/><stop offset="0.5863" stop-color="#3b59fa"/><stop offset="0.6101" stop-color="#4446f0"/><stop offset="0.6458" stop-color="#4335dc"/><stop offset="0.6935" stop-color="#412cca"/><stop offset="0.7173" stop-color="#412bc6"/><stop offset="0.744" stop-color="#412cc9"/><stop offset="0.7946" stop-color="#4335dc"/><stop offset="0.8155" stop-color="#433de9"/><stop offset="0.8304" stop-color="#4448f1"/><stop offset="0.8542" stop-color="#3a5bfa"/><stop offset="0.869" stop-color="#2d64fe"/><stop offset="0.8869" stop-color="#1372fb"/><stop offset="0.9107" stop-color="#0a7dfa"/><stop offset="0.9494" stop-color="#0c8df4"/><stop offset="0.9702" stop-color="#0d9aea"/><stop offset="0.997" stop-color="#07a8de"/></linearGradient><linearGradient id="g53" x1="0" y1="0" x2="0" y2="1"><stop offset="0.002976" stop-color="#fbf408"/><stop offset="0.247" stop-color="#fdea08"/><stop offset="0.2946" stop-color="#fddc11"/><stop offset="0.3512" stop-color="#fdba28"/><stop offset="0.369" stop-color="#ecc015"/><stop offset="0.375" stop-color="#ddc90a"/><stop offset="0.3839" stop-color="#bcc813"/><stop offset="0.3899" stop-color="#9bcc2a"/><stop offset="0.3958" stop-color="#6acd3f"/><stop offset="0.4018" stop-color="#3ad25a"/><stop offset="0.4048" stop-color="#26d366"/><stop offset="0.4077" stop-color="#1cd06e"/><stop offset="0.4167" stop-color="#0fca85"/><stop offset="0.4286" stop-color="#0ac1a5"/><stop offset="0.4524" stop-color="#05b3cc"/><stop offset="0.4643" stop-color="#05abdb"/><stop offset="0.4732" stop-color="#09a5e1"/><stop offset="0.4911" stop-color="#0d99eb"/><stop offset="0.5119" stop-color="#0c8df4"/><stop offset="0.5417" stop-color="#0b7cfa"/><stop offset="0.5565" stop-color="#1471fb"/><stop offset="0.5685" stop-color="#2b65fe"/><stop offset="0.5833" stop-color="#395bfa"/><stop offset="0.6101" stop-color="#4446f0"/><stop offset="0.6458" stop-color="#4335dc"/><stop offset="0.6935" stop-color="#412cc9"/><stop offset="0.7173" stop-color="#412bc6"/><stop offset="0.744" stop-color="#412cc8"/><stop offset="0.7946" stop-color="#4335dc"/><stop offset="0.8274" stop-color="#4546f0"/><stop offset="0.8512" stop-color="#3b5afa"/><stop offset="0.869" stop-color="#2c65ff"/><stop offset="0.8839" stop-color="#1471fb"/><stop offset="0.9107" stop-color="#0a7dfa"/><stop offset="0.9494" stop-color="#0c8df4"/><stop offset="0.9702" stop-color="#0d9aeb"/><stop offset="0.997" stop-color="#07a8de"/></linearGradient><linearGradient id="g54" x1="0" y1="0" x2="0" y2="1"><stop offset="0.002976" stop-color="#fbf408"/><stop offset="0.244" stop-color="#fdea07"/><stop offset="0.2917" stop-color="#fddc10"/><stop offset="0.3482" stop-color="#feba29"/><stop offset="0.3661" stop-color="#f0be18"/><stop offset="0.372" stop-color="#e1c60c"/><stop offset="0.375" stop-color="#d8c90b"/><stop offset="0.381" stop-color="#c2c810"/><stop offset="0.3869" stop-color="#a4cb23"/><stop offset="0.3899" stop-color="#90cc2e"/><stop offset="0.3958" stop-color="#5ece45"/><stop offset="0.4018" stop-color="#2ed361"/><stop offset="0.4048" stop-color="#21d16a"/><stop offset="0.4077" stop-color="#19cf72"/><stop offset="0.4167" stop-color="#0dc989"/><stop offset="0.4286" stop-color="#09bfaa"/><stop offset="0.4554" stop-color="#05b0d3"/><stop offset="0.4732" stop-color="#09a4e2"/><stop offset="0.4911" stop-color="#0d99eb"/><stop offset="0.5119" stop-color="#0c8df4"/><stop offset="0.5417" stop-color="#0b7cfa"/><stop offset="0.5565" stop-color="#1471fb"/><stop offset="0.5685" stop-color="#2b65ff"/><stop offset="0.5833" stop-color="#3a5bfa"/><stop offset="0.6101" stop-color="#4546f0"/><stop offset="0.622" stop-color="#433eeb"/><stop offset="0.6488" stop-color="#4334da"/><stop offset="0.6964" stop-color="#412cc8"/><stop offset="0.744" stop-color="#412cc8"/><stop offset="0.7946" stop-color="#4335dc"/><stop offset="0.8155" stop-color="#433eeb"/><stop offset="0.8274" stop-color="#4447f1"/><stop offset="0.8512" stop-color="#3a5bfa"/><stop offset="0.8661" stop-color="#2d64fe"/><stop offset="0.8839" stop-color="#1472fb"/><stop offset="0.9077" stop-color="#0a7cfa"/><stop offset="0.9524" stop-color="#0c8ef3"/><stop offset="0.9702" stop-color="#0d99eb"/><stop offset="0.997" stop-color="#07a8de"/></linearGradient><linearGradient id="g55" x1="0" y1="0" x2="0" y2="1"><stop offset="0.002976" stop-color="#fbf308"/><stop offset="0.244" stop-color="#fdea08"/><stop offset="0.2887" stop-color="#fddd10"/><stop offset="0.3482" stop-color="#fdba28"/><stop offset="0.3661" stop-color="#edc015"/><stop offset="0.372" stop-color="#dec80a"/><stop offset="0.381" stop-color="#bdc812"/><stop offset="0.3869" stop-color="#9dcc28"/><stop offset="0.3929" stop-color="#6dcd3e"/><stop offset="0.4018" stop-color="#26d366"/><stop offset="0.4048" stop-color="#1cd06e"/><stop offset="0.4137" stop-color="#0fca85"/><stop offset="0.4256" stop-color="#09c0a7"/><stop offset="0.4464" stop-color="#06b5ca"/><stop offset="0.4673" stop-color="#08a7df"/><stop offset="0.4881" stop-color="#0d9aea"/><stop offset="0.5387" stop-color="#0a7efa"/><stop offset="0.5565" stop-color="#1471fb"/><stop offset="0.5685" stop-color="#2c65ff"/><stop offset="0.5833" stop-color="#3a5bfa"/><stop offset="0.6101" stop-color="#4546f0"/><stop offset="0.6488" stop-color="#4334da"/><stop offset="0.6964" stop-color="#412bc7"/><stop offset="0.744" stop-color="#412bc8"/><stop offset="0.7946" stop-color="#4335dd"/><stop offset="0.8155" stop-color="#433eeb"/><stop offset="0.8274" stop-color="#4448f1"/><stop offset="0.8482" stop-color="#3b5afa"/><stop offset="0.8661" stop-color="#2b65ff"/><stop offset="0.881" stop-color="#1471fb"/><stop offset="0.9077" stop-color="#0a7dfa"/><stop offset="0.9524" stop-color="#0c8ef3"/><stop offset="0.9702" stop-color="#0d99eb"/><stop offset="0.997" stop-color="#07a8de"/></linearGradient><linearGradient id="g56" x1="0" y1="0" x2="0" y2="1"><stop offset="0.002976" stop-color="#fbf308"/><stop offset="0.2411" stop-color="#fdea07"/><stop offset="0.2887" stop-color="#fddc11"/><stop offset="0.3452" stop-color="#feba29"/><stop offset="0.3631" stop-color="#f0be18"/><stop offset="0.372" stop-color="#dac90a"/><stop offset="0.378" stop-color="#c4c810"/><stop offset="0.381" stop-color="#b7c916"/><stop offset="0.3869" stop-color="#94cc2d"/><stop offset="0.3929" stop-color="#62ce43"/><stop offset="0.3988" stop-color="#32d25e"/><stop offset="0.4018" stop-color="#22d269"/><stop offset="0.4048" stop-color="#19cf71"/><stop offset="0.4137" stop-color="#0ec989"/><stop offset="0.4256" stop-color="#09bfab"/><stop offset="0.4494" stop-color="#05b2d0"/><stop offset="0.4673" stop-color="#08a6e0"/><stop offset="0.4881" stop-color="#0d9aeb"/><stop offset="0.5387" stop-color="#0a7efa"/><stop offset="0.5565" stop-color="#1471fb"/><stop offset="0.5685" stop-color="#2c65ff"/><stop offset="0.5833" stop-color="#3a5bfa"/><stop offset="0.6101" stop-color="#4545f0"/><stop offset="0.6488" stop-color="#4334da"/><stop offset="0.6964" stop-color="#412bc7"/><stop offset="0.744" stop-color="#412bc7"/><stop offset="0.7946" stop-color="#4336dd"/><stop offset="0.8244" stop-color="#4546f0"/><stop offset="0.8482" stop-color="#3a5bfa"/><stop offset="0.8631" stop-color="#2c64ff"/><stop offset="0.878" stop-color="#1570fb"/><stop offset="0.9077" stop-color="#0a7dfa"/><stop offset="0.9524" stop-color="#0c8ef3"/><stop offset="0.9702" stop-color="#0d99eb"/><stop offset="0.997" stop-color="#07a8de"/></linearGradient><linearGradient id="g57" x1="0" y1="0" x2="0" y2="1"><stop offset="0.002976" stop-color="#fbf308"/><stop offset="0.2381" stop-color="#fdea07"/><stop offset="0.2857" stop-color="#fddc10"/><stop offset="0.3452" stop-color="#fcba27"/><stop offset="0.3631" stop-color="#ecc015"/><stop offset="0.369" stop-color="#dec80a"/><stop offset="0.378" stop-color="#bec812"/><stop offset="0.3839" stop-color="#9ecb27"/><stop offset="0.3899" stop-color="#6fcd3d"/><stop offset="0.3988" stop-color="#28d364"/><stop offset="0.4048" stop-color="#18ce75"/><stop offset="0.4107" stop-color="#10ca84"/><stop offset="0.4226" stop-color="#0ac1a5"/><stop offset="0.4435" stop-color="#06b5c9"/><stop offset="0.4643" stop-color="#08a7df"/><stop offset="0.4881" stop-color="#0d99eb"/><stop offset="0.5387" stop-color="#0a7dfa"/><stop offset="0.5565" stop-color="#1571fb"/><stop offset="0.5685" stop-color="#2c64ff"/><stop offset="0.5833" stop-color="#3a5afa"/><stop offset="0.6101" stop-color="#4545f0"/><stop offset="0.6488" stop-color="#4334d9"/><stop offset="0.6964" stop-color="#412bc7"/><stop offset="0.744" stop-color="#412bc7"/><stop offset="0.7946" stop-color="#4336dd"/><stop offset="0.8125" stop-color="#433dea"/><stop offset="0.8244" stop-color="#4447f1"/><stop offset="0.8452" stop-color="#3b5afa"/><stop offset="0.8601" stop-color="#2d64fe"/><stop offset="0.878" stop-color="#1472fb"/><stop offset="0.9048" stop-color="#0a7dfa"/><stop offset="0.9494" stop-color="#0c8df4"/><stop offset="0.9702" stop-color="#0d9aea"/><stop offset="0.997" stop-color="#07a9de"/></linearGradient><linearGradient id="g58" x1="0" y1="0" x2="0" y2="1"><stop offset="0.002976" stop-color="#fbf208"/><stop offset="0.2381" stop-color="#fdea08"/><stop offset="0.2857" stop-color="#fddc11"/><stop offset="0.3423" stop-color="#fdba28"/><stop offset="0.3601" stop-color="#efbf17"/><stop offset="0.3661" stop-color="#e0c70c"/><stop offset="0.375" stop-color="#c2c810"/><stop offset="0.378" stop-color="#b5c917"/><stop offset="0.3839" stop-color="#93cc2d"/><stop offset="0.3899" stop-color="#62ce42"/><stop offset="0.3958" stop-color="#34d25d"/><stop offset="0.3988" stop-color="#23d268"/><stop offset="0.4018" stop-color="#1acf70"/><stop offset="0.4107" stop-color="#0fc986"/><stop offset="0.4226" stop-color="#09c0a7"/><stop offset="0.4464" stop-color="#05b3cd"/><stop offset="0.4583" stop-color="#05abdb"/><stop offset="0.4673" stop-color="#09a5e1"/><stop offset="0.4881" stop-color="#0d99eb"/><stop offset="0.5387" stop-color="#0a7dfa"/><stop offset="0.5565" stop-color="#1570fb"/><stop offset="0.5685" stop-color="#2c64fe"/><stop offset="0.5833" stop-color="#3a5afa"/><stop offset="0.6101" stop-color="#4545f0"/><stop offset="0.6488" stop-color="#4334d9"/><stop offset="0.6964" stop-color="#412bc7"/><stop offset="0.7202" stop-color="#402ac4"/><stop offset="0.744" stop-color="#412bc7"/><stop offset="0.7946" stop-color="#4336de"/><stop offset="0.8125" stop-color="#433eeb"/><stop offset="0.8244" stop-color="#4448f1"/><stop offset="0.8452" stop-color="#3a5bfa"/><stop offset="0.8601" stop-color="#2c65ff"/><stop offset="0.875" stop-color="#1471fb"/><stop offset="0.9018" stop-color="#0b7cfa"/><stop offset="0.9464" stop-color="#0c8df4"/><stop offset="0.9673" stop-color="#0d9aeb"/><stop offset="0.997" stop-color="#06a9dd"/></linearGradient><linearGradient id="g59" x1="0" y1="0" x2="0" y2="1"><stop offset="0.002976" stop-color="#fbf208"/><stop offset="0.2351" stop-color="#fdea08"/><stop offset="0.2827" stop-color="#fddc10"/><stop offset="0.3393" stop-color="#feba29"/><stop offset="0.3571" stop-color="#f1be19"/><stop offset="0.3661" stop-color="#dbc90a"/><stop offset="0.375" stop-color="#bbc813"/><stop offset="0.381" stop-color="#9ccc29"/><stop offset="0.3869" stop-color="#6ecd3d"/><stop offset="0.3958" stop-color="#29d364"/><stop offset="0.4018" stop-color="#18cf73"/><stop offset="0.4077" stop-color="#11cb82"/><stop offset="0.4226" stop-color="#09c0a9"/><stop offset="0.4494" stop-color="#05b1d1"/><stop offset="0.4702" stop-color="#0aa3e3"/><stop offset="0.4851" stop-color="#0d9aea"/><stop offset="0.506" stop-color="#0c8ef3"/><stop offset="0.5387" stop-color="#0a7dfa"/><stop offset="0.5565" stop-color="#1670fb"/><stop offset="0.5685" stop-color="#2d64fe"/><stop offset="0.5833" stop-color="#3a5afa"/><stop offset="0.6101" stop-color="#4545ef"/><stop offset="0.6488" stop-color="#4333d9"/><stop offset="0.6964" stop-color="#412bc6"/><stop offset="0.7411" stop-color="#412bc7"/><stop offset="0.7917" stop-color="#4336dd"/><stop offset="0.8214" stop-color="#4446f0"/><stop offset="0.8423" stop-color="#3b59fa"/><stop offset="0.8571" stop-color="#2d63fe"/><stop offset="0.875" stop-color="#1472fb"/><stop offset="0.9018" stop-color="#0a7dfa"/><stop offset="0.9464" stop-color="#0c8ef3"/><stop offset="0.9643" stop-color="#0d99eb"/><stop offset="0.997" stop-color="#06a9dd"/></linearGradient><linearGradient id="g60" x1="0" y1="0" x2="0" y2="1"><stop offset="0.002976" stop-color="#fbf208"/><stop offset="0.2351" stop-color="#fde908"/><stop offset="0.2827" stop-color="#fddc11"/><stop offset="0.3393" stop-color="#fdba28"/><stop offset="0.3571" stop-color="#edc015"/><stop offset="0.3631" stop-color="#dfc80a"/><stop offset="0.372" stop-color="#c0c811"/><stop offset="0.381" stop-color="#90cc2f"/><stop offset="0.3929" stop-color="#35d25d"/><stop offset="0.3958" stop-color="#24d267"/><stop offset="0.3988" stop-color="#1bd06f"/><stop offset="0.4077" stop-color="#10ca84"/><stop offset="0.4196" stop-color="#0ac1a3"/><stop offset="0.4226" stop-color="#09bfab"/><stop offset="0.4405" stop-color="#07b7c6"/><stop offset="0.4524" stop-color="#05afd5"/><stop offset="0.4643" stop-color="#08a7df"/><stop offset="0.4851" stop-color="#0d9aea"/><stop offset="0.5387" stop-color="#0a7cfa"/><stop offset="0.5565" stop-color="#1670fb"/><stop offset="0.5655" stop-color="#2867fe"/><stop offset="0.5833" stop-color="#3a5afa"/><stop offset="0.6101" stop-color="#4545ef"/><stop offset="0.6488" stop-color="#4333d9"/><stop offset="0.6964" stop-color="#412bc6"/><stop offset="0.7411" stop-color="#412bc7"/><stop offset="0.7887" stop-color="#4335dc"/><stop offset="0.8095" stop-color="#433eeb"/><stop offset="0.8214" stop-color="#4448f1"/><stop offset="0.8423" stop-color="#3a5afa"/><stop offset="0.8571" stop-color="#2d64fe"/><stop offset="0.872" stop-color="#1570fb"/><stop offset="0.9018" stop-color="#0a7dfa"/><stop offset="0.9464" stop-color="#0c8ef3"/><stop offset="0.9643" stop-color="#0d99eb"/><stop offset="0.997" stop-color="#06aadd"/></linearGradient><linearGradient id="g61" x1="0" y1="0" x2="0" y2="1"><stop offset="0.002976" stop-color="#fbf208"/><stop offset="0.2351" stop-color="#fde908"/><stop offset="0.2827" stop-color="#fedb11"/><stop offset="0.3363" stop-color="#feba29"/><stop offset="0.3542" stop-color="#f0be18"/><stop offset="0.3631" stop-color="#d9c90a"/><stop offset="0.369" stop-color="#c5c810"/><stop offset="0.372" stop-color="#b9c915"/><stop offset="0.378" stop-color="#9acc2a"/><stop offset="0.3839" stop-color="#6dcd3e"/><stop offset="0.3929" stop-color="#2ad363"/><stop offset="0.3988" stop-color="#19cf72"/><stop offset="0.4077" stop-color="#0ec987"/><stop offset="0.4167" stop-color="#0ac39e"/><stop offset="0.4226" stop-color="#09bfac"/><stop offset="0.4315" stop-color="#09bbba"/><stop offset="0.4583" stop-color="#05abdb"/><stop offset="0.4851" stop-color="#0d9aeb"/><stop offset="0.5357" stop-color="#0a7efa"/><stop offset="0.5536" stop-color="#1372fb"/><stop offset="0.5685" stop-color="#2d64fe"/><stop offset="0.5833" stop-color="#3a5afa"/><stop offset="0.6071" stop-color="#4447f1"/><stop offset="0.622" stop-color="#433dea"/><stop offset="0.6458" stop-color="#4334db"/><stop offset="0.6964" stop-color="#412bc6"/><stop offset="0.7411" stop-color="#412bc7"/><stop offset="0.7887" stop-color="#4336dd"/><stop offset="0.8185" stop-color="#4446f0"/><stop offset="0.8423" stop-color="#3a5bfa"/><stop offset="0.8571" stop-color="#2c64ff"/><stop offset="0.872" stop-color="#1571fb"/><stop offset="0.9018" stop-color="#0a7dfa"/><stop offset="0.9464" stop-color="#0c8ef3"/><stop offset="0.9643" stop-color="#0d99eb"/><stop offset="0.997" stop-color="#06aadc"/></linearGradient><linearGradient id="g62" x1="0" y1="0" x2="0" y2="1"><stop offset="0.002976" stop-color="#fbf208"/><stop offset="0.2351" stop-color="#fde809"/><stop offset="0.2827" stop-color="#feda12"/><stop offset="0.3363" stop-color="#fdba28"/><stop offset="0.3542" stop-color="#ecc015"/><stop offset="0.3601" stop-color="#dec80a"/><stop offset="0.369" stop-color="#bfc811"/><stop offset="0.378" stop-color="#8fcc2f"/><stop offset="0.3899" stop-color="#36d25c"/><stop offset="0.3929" stop-color="#25d267"/><stop offset="0.3988" stop-color="#17ce75"/><stop offset="0.4077" stop-color="#0dc889"/><stop offset="0.4137" stop-color="#0bc499"/><stop offset="0.4196" stop-color="#09c0a7"/><stop offset="0.4286" stop-color="#09bcb6"/><stop offset="0.4583" stop-color="#06abdc"/><stop offset="0.4851" stop-color="#0d99eb"/><stop offset="0.5357" stop-color="#0a7efa"/><stop offset="0.5536" stop-color="#1372fb"/><stop offset="0.5685" stop-color="#2d64fe"/><stop offset="0.5833" stop-color="#3a5afa"/><stop offset="0.6071" stop-color="#4447f1"/><stop offset="0.622" stop-color="#433dea"/><stop offset="0.6458" stop-color="#4334db"/><stop offset="0.6964" stop-color="#412bc6"/><stop offset="0.7381" stop-color="#412bc7"/><stop offset="0.7857" stop-color="#4335dc"/><stop offset="0.8065" stop-color="#433eeb"/><stop offset="0.8185" stop-color="#4447f1"/><stop offset="0.8393" stop-color="#3b59fa"/><stop offset="0.8571" stop-color="#2b65ff"/><stop offset="0.872" stop-color="#1471fb"/><stop offset="0.8988" stop-color="#0b7cfa"/><stop offset="0.9464" stop-color="#0c8ef3"/><stop offset="0.9673" stop-color="#0d9aea"/><stop offset="0.997" stop-color="#06aadd"/></linearGradient><linearGradient id="g63" x1="0" y1="0" x2="0" y2="1"><stop offset="0.002976" stop-color="#fbf108"/><stop offset="0.2351" stop-color="#fde70a"/><stop offset="0.2827" stop-color="#fed912"/><stop offset="0.3333" stop-color="#feba29"/><stop offset="0.3512" stop-color="#f0be18"/><stop offset="0.3601" stop-color="#d9c90b"/><stop offset="0.3661" stop-color="#c4c810"/><stop offset="0.369" stop-color="#b8c915"/><stop offset="0.375" stop-color="#9acc2a"/><stop offset="0.381" stop-color="#6ccd3e"/><stop offset="0.3899" stop-color="#2bd362"/><stop offset="0.3958" stop-color="#19cf72"/><stop offset="0.4077" stop-color="#0dc88d"/><stop offset="0.4137" stop-color="#0bc49c"/><stop offset="0.4196" stop-color="#09bfaa"/><stop offset="0.4286" stop-color="#09bbb8"/><stop offset="0.4583" stop-color="#06aadc"/><stop offset="0.4851" stop-color="#0d99eb"/><stop offset="0.5357" stop-color="#0a7efa"/><stop offset="0.5536" stop-color="#1372fb"/><stop offset="0.5685" stop-color="#2d64fe"/><stop offset="0.5833" stop-color="#3a5afa"/><stop offset="0.6071" stop-color="#4447f1"/><stop offset="0.622" stop-color="#433dea"/><stop offset="0.6458" stop-color="#4334db"/><stop offset="0.6964" stop-color="#412bc6"/><stop offset="0.7381" stop-color="#412bc7"/><stop offset="0.7857" stop-color="#4336dd"/><stop offset="0.8155" stop-color="#4545f0"/><stop offset="0.8393" stop-color="#3b59fa"/><stop offset="0.8571" stop-color="#2c65ff"/><stop offset="0.872" stop-color="#1571fb"/><stop offset="0.8988" stop-color="#0a7cfa"/><stop offset="0.9464" stop-color="#0c8ef3"/><stop offset="0.9673" stop-color="#0d9aea"/><stop offset="0.997" stop-color="#06aadd"/></linearGradient><linearGradient id="g64" x1="0" y1="0" x2="0" y2="1"><stop offset="0.002976" stop-color="#fbf108"/><stop offset="0.2351" stop-color="#fde60a"/><stop offset="0.2827" stop-color="#fed813"/><stop offset="0.3333" stop-color="#fdba28"/><stop offset="0.3512" stop-color="#edc015"/><stop offset="0.3571" stop-color="#dec80a"/><stop offset="0.3661" stop-color="#bfc811"/><stop offset="0.375" stop-color="#8fcc2f"/><stop offset="0.3869" stop-color="#36d25c"/><stop offset="0.3899" stop-color="#25d267"/><stop offset="0.3958" stop-color="#18ce75"/><stop offset="0.4107" stop-color="#0bc597"/><stop offset="0.4226" stop-color="#09bdb0"/><stop offset="0.4554" stop-color="#05acda"/><stop offset="0.4851" stop-color="#0d99eb"/><stop offset="0.5357" stop-color="#0a7efa"/><stop offset="0.5536" stop-color="#1372fb"/><stop offset="0.5685" stop-color="#2d64fe"/><stop offset="0.5804" stop-color="#385cfb"/><stop offset="0.6042" stop-color="#434af3"/><stop offset="0.622" stop-color="#433dea"/><stop offset="0.6429" stop-color="#4335dd"/><stop offset="0.6964" stop-color="#412bc6"/><stop offset="0.7381" stop-color="#412cc8"/><stop offset="0.7857" stop-color="#4336de"/><stop offset="0.8155" stop-color="#4446f0"/><stop offset="0.8393" stop-color="#3b59fa"/><stop offset="0.8571" stop-color="#2c65ff"/><stop offset="0.872" stop-color="#1570fb"/><stop offset="0.8988" stop-color="#0a7cfa"/><stop offset="0.9464" stop-color="#0c8ef3"/><stop offset="0.9673" stop-color="#0d9aea"/><stop offset="0.997" stop-color="#06a9dd"/></linearGradient><linearGradient id="g65" x1="0" y1="0" x2="0" y2="1"><stop offset="0.002976" stop-color="#fbf108"/><stop offset="0.1815" stop-color="#fdea07"/><stop offset="0.2351" stop-color="#fde50b"/><stop offset="0.2827" stop-color="#fed714"/><stop offset="0.3304" stop-color="#feba29"/><stop offset="0.3482" stop-color="#f0be18"/><stop offset="0.3571" stop-color="#d9c90b"/><stop offset="0.3631" stop-color="#c4c810"/><stop offset="0.3661" stop-color="#b8c915"/><stop offset="0.372" stop-color="#99cc2a"/><stop offset="0.378" stop-color="#6ccd3e"/><stop offset="0.3869" stop-color="#2bd363"/><stop offset="0.3929" stop-color="#19cf72"/><stop offset="0.4048" stop-color="#0dc88c"/><stop offset="0.4107" stop-color="#0bc49b"/><stop offset="0.4226" stop-color="#09bdb2"/><stop offset="0.4554" stop-color="#05abdb"/><stop offset="0.4851" stop-color="#0d99eb"/><stop offset="0.5357" stop-color="#0a7dfa"/><stop offset="0.5536" stop-color="#1472fb"/><stop offset="0.5685" stop-color="#2d64fe"/><stop offset="0.5804" stop-color="#385cfb"/><stop offset="0.6042" stop-color="#434af3"/><stop offset="0.622" stop-color="#433dea"/><stop offset="0.6429" stop-color="#4336dd"/><stop offset="0.6964" stop-color="#412bc7"/><stop offset="0.7381" stop-color="#412cc8"/><stop offset="0.7827" stop-color="#4335dd"/><stop offset="0.8155" stop-color="#4447f1"/><stop offset="0.8393" stop-color="#3b59fa"/><stop offset="0.8571" stop-color="#2c64ff"/><stop offset="0.875" stop-color="#1472fb"/><stop offset="0.8988" stop-color="#0a7cfa"/><stop offset="0.9435" stop-color="#0c8df4"/><stop offset="0.9673" stop-color="#0d9aea"/><stop offset="0.997" stop-color="#06a9dd"/></linearGradient><linearGradient id="g66" x1="0" y1="0" x2="0" y2="1"><stop offset="0.002976" stop-color="#fbf108"/><stop offset="0.1667" stop-color="#fdeb07"/><stop offset="0.2351" stop-color="#fde30c"/><stop offset="0.2798" stop-color="#fed714"/><stop offset="0.3304" stop-color="#fdba28"/><stop offset="0.3452" stop-color="#f1bd19"/><stop offset="0.3482" stop-color="#ecc015"/><stop offset="0.3542" stop-color="#dec90a"/><stop offset="0.3631" stop-color="#bec811"/><stop offset="0.369" stop-color="#a0cb26"/><stop offset="0.372" stop-color="#8dcc30"/><stop offset="0.3839" stop-color="#35d25d"/><stop offset="0.3869" stop-color="#25d267"/><stop offset="0.3929" stop-color="#17ce75"/><stop offset="0.4077" stop-color="#0bc597"/><stop offset="0.4167" stop-color="#09bfac"/><stop offset="0.4226" stop-color="#09bcb4"/><stop offset="0.4554" stop-color="#05abdb"/><stop offset="0.4851" stop-color="#0d99eb"/><stop offset="0.5357" stop-color="#0a7dfa"/><stop offset="0.5536" stop-color="#1472fb"/><stop offset="0.5685" stop-color="#2d64fe"/><stop offset="0.5804" stop-color="#385cfb"/><stop offset="0.6042" stop-color="#434af3"/><stop offset="0.622" stop-color="#433eea"/><stop offset="0.6429" stop-color="#4336dd"/><stop offset="0.6964" stop-color="#412bc7"/><stop offset="0.7381" stop-color="#412cc9"/><stop offset="0.7827" stop-color="#4336dd"/><stop offset="0.8155" stop-color="#4447f1"/><stop offset="0.8393" stop-color="#3b5afa"/><stop offset="0.8571" stop-color="#2d64fe"/><stop offset="0.875" stop-color="#1471fb"/><stop offset="0.8988" stop-color="#0a7cfa"/><stop offset="0.9435" stop-color="#0c8ef3"/><stop offset="0.9643" stop-color="#0d99eb"/><stop offset="0.997" stop-color="#06aadd"/></linearGradient><linearGradient id="g67" x1="0" y1="0" x2="0" y2="1"><stop offset="0.002976" stop-color="#fbf108"/><stop offset="0.1577" stop-color="#fdea07"/><stop offset="0.2321" stop-color="#fde20d"/><stop offset="0.2768" stop-color="#fed614"/><stop offset="0.3274" stop-color="#fdba28"/><stop offset="0.3452" stop-color="#eebf16"/><stop offset="0.3512" stop-color="#e0c70b"/><stop offset="0.3601" stop-color="#c2c810"/><stop offset="0.3631" stop-color="#b6c917"/><stop offset="0.369" stop-color="#96cc2c"/><stop offset="0.375" stop-color="#69cd3f"/><stop offset="0.3839" stop-color="#28d364"/><stop offset="0.3899" stop-color="#19cf72"/><stop offset="0.4018" stop-color="#0dc88d"/><stop offset="0.4077" stop-color="#0bc49b"/><stop offset="0.4137" stop-color="#09c0a9"/><stop offset="0.4256" stop-color="#09babb"/><stop offset="0.4554" stop-color="#06aadc"/><stop offset="0.4851" stop-color="#0d99eb"/><stop offset="0.5357" stop-color="#0a7dfa"/><stop offset="0.5536" stop-color="#1471fb"/><stop offset="0.5655" stop-color="#2966fe"/><stop offset="0.5804" stop-color="#385cfb"/><stop offset="0.6012" stop-color="#424cf5"/><stop offset="0.622" stop-color="#433eea"/><stop offset="0.6399" stop-color="#4337df"/><stop offset="0.6667" stop-color="#422fd1"/><stop offset="0.6964" stop-color="#412bc7"/><stop offset="0.7351" stop-color="#412cc8"/><stop offset="0.7827" stop-color="#4336de"/><stop offset="0.8155" stop-color="#4447f1"/><stop offset="0.8393" stop-color="#3b5afa"/><stop offset="0.8571" stop-color="#2d64fe"/><stop offset="0.875" stop-color="#1471fb"/><stop offset="0.8988" stop-color="#0a7cfa"/><stop offset="0.9405" stop-color="#0c8df4"/><stop offset="0.9643" stop-color="#0d9aea"/><stop offset="0.997" stop-color="#06aadc"/></linearGradient><linearGradient id="g68" x1="0" y1="0" x2="0" y2="1"><stop offset="0.002976" stop-color="#fbf108"/><stop offset="0.1488" stop-color="#fdea07"/><stop offset="0.2321" stop-color="#fde10e"/><stop offset="0.2738" stop-color="#fed515"/><stop offset="0.3244" stop-color="#fdba29"/><stop offset="0.3423" stop-color="#efbe17"/><stop offset="0.3512" stop-color="#dac90a"/><stop offset="0.3601" stop-color="#bac814"/><stop offset="0.3661" stop-color="#9dcc28"/><stop offset="0.381" stop-color="#32d25f"/><stop offset="0.3839" stop-color="#23d268"/><stop offset="0.3899" stop-color="#17ce76"/><stop offset="0.4048" stop-color="#0bc598"/><stop offset="0.4167" stop-color="#09beb0"/><stop offset="0.4524" stop-color="#05acdb"/><stop offset="0.4821" stop-color="#0d9aea"/><stop offset="0.5357" stop-color="#0a7dfa"/><stop offset="0.5536" stop-color="#1471fb"/><stop offset="0.5655" stop-color="#2a66fe"/><stop offset="0.5804" stop-color="#385cfb"/><stop offset="0.6012" stop-color="#424cf4"/><stop offset="0.622" stop-color="#433eea"/><stop offset="0.6399" stop-color="#4337df"/><stop offset="0.6667" stop-color="#422fd1"/><stop offset="0.6964" stop-color="#412bc7"/><stop offset="0.7351" stop-color="#412cc9"/><stop offset="0.7827" stop-color="#4336de"/><stop offset="0.8125" stop-color="#4546f0"/><stop offset="0.8393" stop-color="#3a5afa"/><stop offset="0.8571" stop-color="#2c64fe"/><stop offset="0.875" stop-color="#1471fb"/><stop offset="0.8988" stop-color="#0a7dfa"/><stop offset="0.9405" stop-color="#0c8ef3"/><stop offset="0.9613" stop-color="#0d99eb"/><stop offset="0.997" stop-color="#06aadc"/></linearGradient><linearGradient id="g69" x1="0" y1="0" x2="0" y2="1"><stop offset="0.002976" stop-color="#fbf108"/><stop offset="0.1429" stop-color="#fdea07"/><stop offset="0.2321" stop-color="#fddf0f"/><stop offset="0.2708" stop-color="#fed416"/><stop offset="0.3214" stop-color="#fdba29"/><stop offset="0.3393" stop-color="#f0be18"/><stop offset="0.3482" stop-color="#dcc90a"/><stop offset="0.3571" stop-color="#bec812"/><stop offset="0.3661" stop-color="#90cc2f"/><stop offset="0.372" stop-color="#64cd42"/><stop offset="0.381" stop-color="#27d365"/><stop offset="0.3869" stop-color="#19cf73"/><stop offset="0.3958" stop-color="#0fc986"/><stop offset="0.4048" stop-color="#0bc49b"/><stop offset="0.4107" stop-color="#09c0a9"/><stop offset="0.4196" stop-color="#09bcb6"/><stop offset="0.4524" stop-color="#05abdb"/><stop offset="0.4821" stop-color="#0d9aea"/><stop offset="0.5357" stop-color="#0a7efa"/><stop offset="0.5536" stop-color="#1471fb"/><stop offset="0.5655" stop-color="#2a66fe"/><stop offset="0.5804" stop-color="#385cfb"/><stop offset="0.5982" stop-color="#414ff6"/><stop offset="0.6101" stop-color="#4545f0"/><stop offset="0.6369" stop-color="#4338e1"/><stop offset="0.6667" stop-color="#422fd1"/><stop offset="0.6964" stop-color="#412cc8"/><stop offset="0.7351" stop-color="#412cc9"/><stop offset="0.7827" stop-color="#4337df"/><stop offset="0.8125" stop-color="#4446f0"/><stop offset="0.8393" stop-color="#3a5afa"/><stop offset="0.8571" stop-color="#2c64ff"/><stop offset="0.875" stop-color="#1372fb"/><stop offset="0.8988" stop-color="#0a7dfa"/><stop offset="0.9375" stop-color="#0c8df4"/><stop offset="0.9613" stop-color="#0d9aea"/><stop offset="0.997" stop-color="#06aadc"/></linearGradient><linearGradient id="g70" x1="0" y1="0" x2="0" y2="1"><stop offset="0.002976" stop-color="#fbf008"/><stop offset="0.1369" stop-color="#fdea07"/><stop offset="0.2292" stop-color="#fdde0f"/><stop offset="0.2679" stop-color="#fed416"/><stop offset="0.3185" stop-color="#fdba29"/><stop offset="0.3363" stop-color="#f1be19"/><stop offset="0.3452" stop-color="#dec80a"/><stop offset="0.3542" stop-color="#c1c811"/><stop offset="0.3631" stop-color="#98cc2b"/><stop offset="0.369" stop-color="#6dcd3e"/><stop offset="0.378" stop-color="#30d360"/><stop offset="0.381" stop-color="#23d268"/><stop offset="0.3869" stop-color="#17ce76"/><stop offset="0.4018" stop-color="#0bc597"/><stop offset="0.4107" stop-color="#09bfab"/><stop offset="0.4167" stop-color="#09bdb3"/><stop offset="0.4524" stop-color="#05abdb"/><stop offset="0.4851" stop-color="#0d99eb"/><stop offset="0.5357" stop-color="#0a7efa"/><stop offset="0.5536" stop-color="#1471fb"/><stop offset="0.5655" stop-color="#2a66fe"/><stop offset="0.5804" stop-color="#395cfb"/><stop offset="0.5982" stop-color="#414ff6"/><stop offset="0.6101" stop-color="#4545f0"/><stop offset="0.6369" stop-color="#4338e1"/><stop offset="0.6667" stop-color="#4230d2"/><stop offset="0.6964" stop-color="#412cc8"/><stop offset="0.7351" stop-color="#412cca"/><stop offset="0.7827" stop-color="#4337df"/><stop offset="0.8125" stop-color="#4447f1"/><stop offset="0.8393" stop-color="#3a5bfa"/><stop offset="0.8571" stop-color="#2b65ff"/><stop offset="0.872" stop-color="#1571fb"/><stop offset="0.8988" stop-color="#0a7dfa"/><stop offset="0.9375" stop-color="#0c8df4"/><stop offset="0.9583" stop-color="#0d99eb"/><stop offset="0.997" stop-color="#05abdb"/></linearGradient><linearGradient id="g71" x1="0" y1="0" x2="0" y2="1"><stop offset="0.002976" stop-color="#fbf008"/><stop offset="0.131" stop-color="#fdea07"/><stop offset="0.2262" stop-color="#fddd10"/><stop offset="0.2619" stop-color="#fed416"/><stop offset="0.3125" stop-color="#febb28"/><stop offset="0.3185" stop-color="#fcbb26"/><stop offset="0.3363" stop-color="#edc015"/><stop offset="0.3423" stop-color="#e0c70b"/><stop offset="0.3512" stop-color="#c4c810"/><stop offset="0.3542" stop-color="#bac814"/><stop offset="0.3601" stop-color="#9ecb27"/><stop offset="0.369" stop-color="#62ce43"/><stop offset="0.378" stop-color="#27d365"/><stop offset="0.3839" stop-color="#19cf72"/><stop offset="0.3958" stop-color="#0dc88b"/><stop offset="0.4018" stop-color="#0bc499"/><stop offset="0.4107" stop-color="#09bfac"/><stop offset="0.4167" stop-color="#09bcb4"/><stop offset="0.4524" stop-color="#05abdb"/><stop offset="0.4851" stop-color="#0d99eb"/><stop offset="0.5357" stop-color="#0a7efa"/><stop offset="0.5536" stop-color="#1471fb"/><stop offset="0.5655" stop-color="#2a65fe"/><stop offset="0.5774" stop-color="#365dfb"/><stop offset="0.5982" stop-color="#414ff6"/><stop offset="0.6101" stop-color="#4545f0"/><stop offset="0.6369" stop-color="#4338e2"/><stop offset="0.6667" stop-color="#4230d2"/><stop offset="0.6964" stop-color="#412cc9"/><stop offset="0.7351" stop-color="#412dcb"/><stop offset="0.7827" stop-color="#4337e0"/><stop offset="0.8125" stop-color="#4447f1"/><stop offset="0.8363" stop-color="#3b59fa"/><stop offset="0.8542" stop-color="#2d64fe"/><stop offset="0.872" stop-color="#1471fb"/><stop offset="0.8958" stop-color="#0a7cfa"/><stop offset="0.9375" stop-color="#0c8df4"/><stop offset="0.9583" stop-color="#0d99eb"/><stop offset="0.997" stop-color="#05aed7"/></linearGradient><linearGradient id="g72" x1="0" y1="0" x2="0" y2="1"><stop offset="0.002976" stop-color="#fbf008"/><stop offset="0.128" stop-color="#fdea07"/><stop offset="0.2262" stop-color="#fddc11"/><stop offset="0.2619" stop-color="#fed217"/><stop offset="0.3095" stop-color="#febb28"/><stop offset="0.3155" stop-color="#fcba27"/><stop offset="0.3333" stop-color="#eebf16"/><stop offset="0.3423" stop-color="#dac90a"/><stop offset="0.3512" stop-color="#bfc811"/><stop offset="0.3601" stop-color="#95cc2c"/><stop offset="0.375" stop-color="#32d25f"/><stop offset="0.378" stop-color="#24d267"/><stop offset="0.3839" stop-color="#18ce74"/><stop offset="0.3929" stop-color="#0fc986"/><stop offset="0.4018" stop-color="#0bc49a"/><stop offset="0.4107" stop-color="#09bfad"/><stop offset="0.4196" stop-color="#09bbb8"/><stop offset="0.4524" stop-color="#05abdb"/><stop offset="0.4851" stop-color="#0d99eb"/><stop offset="0.5357" stop-color="#0a7efa"/><stop offset="0.5536" stop-color="#1471fb"/><stop offset="0.5655" stop-color="#2a65fe"/><stop offset="0.5774" stop-color="#365dfb"/><stop offset="0.5982" stop-color="#414ff6"/><stop offset="0.6101" stop-color="#4546f0"/><stop offset="0.6369" stop-color="#4338e2"/><stop offset="0.6667" stop-color="#4230d3"/><stop offset="0.6964" stop-color="#412cca"/><stop offset="0.7351" stop-color="#422dcb"/><stop offset="0.7827" stop-color="#4337e0"/><stop offset="0.8125" stop-color="#4448f1"/><stop offset="0.8363" stop-color="#3a5afa"/><stop offset="0.8542" stop-color="#2c65ff"/><stop offset="0.869" stop-color="#1670fb"/><stop offset="0.8958" stop-color="#0a7dfa"/><stop offset="0.9405" stop-color="#0c8ff2"/><stop offset="0.9583" stop-color="#0d9aea"/><stop offset="0.997" stop-color="#05b2d0"/></linearGradient><linearGradient id="g73" x1="0" y1="0" x2="0" y2="1"><stop offset="0.002976" stop-color="#fbf008"/><stop offset="0.125" stop-color="#fdea07"/><stop offset="0.1726" stop-color="#fde40c"/><stop offset="0.247" stop-color="#fed615"/><stop offset="0.3095" stop-color="#feba29"/><stop offset="0.3155" stop-color="#fbbb25"/><stop offset="0.3304" stop-color="#f0be18"/><stop offset="0.3393" stop-color="#dec90a"/><stop offset="0.3482" stop-color="#c3c810"/><stop offset="0.3512" stop-color="#b8c915"/><stop offset="0.3571" stop-color="#9dcb28"/><stop offset="0.3661" stop-color="#64cd42"/><stop offset="0.375" stop-color="#2ad363"/><stop offset="0.381" stop-color="#1acf70"/><stop offset="0.3988" stop-color="#0bc595"/><stop offset="0.4137" stop-color="#09bdb1"/><stop offset="0.4524" stop-color="#05abdb"/><stop offset="0.4851" stop-color="#0d9aea"/><stop offset="0.5357" stop-color="#0a7efa"/><stop offset="0.5536" stop-color="#1471fb"/><stop offset="0.5655" stop-color="#2b65fe"/><stop offset="0.5774" stop-color="#365dfb"/><stop offset="0.5982" stop-color="#414ff6"/><stop offset="0.6101" stop-color="#4546f0"/><stop offset="0.6339" stop-color="#433ae4"/><stop offset="0.6667" stop-color="#4230d3"/><stop offset="0.6964" stop-color="#422dcb"/><stop offset="0.7381" stop-color="#422dcd"/><stop offset="0.7857" stop-color="#4339e3"/><stop offset="0.8095" stop-color="#4546f0"/><stop offset="0.8214" stop-color="#4050f7"/><stop offset="0.8363" stop-color="#3a5bfa"/><stop offset="0.8542" stop-color="#2a66fe"/><stop offset="0.869" stop-color="#1471fb"/><stop offset="0.8899" stop-color="#0c7afa"/><stop offset="0.9375" stop-color="#0c8ef3"/><stop offset="0.9554" stop-color="#0d9aea"/><stop offset="0.9702" stop-color="#08a6e0"/><stop offset="0.9821" stop-color="#05afd4"/><stop offset="0.997" stop-color="#08b8c3"/></linearGradient><linearGradient id="g74" x1="0" y1="0" x2="0" y2="1"><stop offset="0.002976" stop-color="#fbf008"/><stop offset="0.122" stop-color="#fdeb07"/><stop offset="0.1696" stop-color="#fde40c"/><stop offset="0.247" stop-color="#fed515"/><stop offset="0.3065" stop-color="#febb29"/><stop offset="0.3155" stop-color="#f9bb23"/><stop offset="0.3304" stop-color="#edc015"/><stop offset="0.3393" stop-color="#d9c90a"/><stop offset="0.3482" stop-color="#bec811"/><stop offset="0.3571" stop-color="#97cc2b"/><stop offset="0.375" stop-color="#27d365"/><stop offset="0.381" stop-color="#19cf72"/><stop offset="0.3988" stop-color="#0bc596"/><stop offset="0.4137" stop-color="#09bdb1"/><stop offset="0.4524" stop-color="#05acdb"/><stop offset="0.4851" stop-color="#0d9aea"/><stop offset="0.5357" stop-color="#0a7efa"/><stop offset="0.5536" stop-color="#1471fb"/><stop offset="0.5655" stop-color="#2b65ff"/><stop offset="0.5714" stop-color="#3161fd"/><stop offset="0.5952" stop-color="#4051f7"/><stop offset="0.6101" stop-color="#4546f0"/><stop offset="0.631" stop-color="#433be6"/><stop offset="0.6667" stop-color="#4231d4"/><stop offset="0.6964" stop-color="#422dcc"/><stop offset="0.7381" stop-color="#422ece"/><stop offset="0.7857" stop-color="#4339e3"/><stop offset="0.8095" stop-color="#4446f0"/><stop offset="0.8333" stop-color="#3b59fa"/><stop offset="0.8512" stop-color="#2c64fe"/><stop offset="0.869" stop-color="#1471fb"/><stop offset="0.8899" stop-color="#0c7bfa"/><stop offset="0.9435" stop-color="#0c92f0"/><stop offset="0.9524" stop-color="#0d99eb"/><stop offset="0.9702" stop-color="#05abdb"/><stop offset="0.9821" stop-color="#06b6c7"/><stop offset="0.997" stop-color="#09bdb1"/></linearGradient><linearGradient id="g75" x1="0" y1="0" x2="0" y2="1"><stop offset="0.002976" stop-color="#fcf008"/><stop offset="0.122" stop-color="#fdea07"/><stop offset="0.1786" stop-color="#fde20d"/><stop offset="0.247" stop-color="#fed416"/><stop offset="0.3065" stop-color="#fdba29"/><stop offset="0.3274" stop-color="#f0be18"/><stop offset="0.3363" stop-color="#dec80a"/><stop offset="0.3482" stop-color="#bac814"/><stop offset="0.3542" stop-color="#a0cb26"/><stop offset="0.3631" stop-color="#6acd3f"/><stop offset="0.372" stop-color="#32d25e"/><stop offset="0.375" stop-color="#25d267"/><stop offset="0.381" stop-color="#18cf73"/><stop offset="0.3929" stop-color="#0dc88a"/><stop offset="0.4107" stop-color="#09beae"/><stop offset="0.4524" stop-color="#05acda"/><stop offset="0.4881" stop-color="#0d99eb"/><stop offset="0.5387" stop-color="#0a7cfa"/><stop offset="0.5536" stop-color="#1471fb"/><stop offset="0.5655" stop-color="#2b65ff"/><stop offset="0.5833" stop-color="#3b59fa"/><stop offset="0.6101" stop-color="#4546f0"/><stop offset="0.6518" stop-color="#4335db"/><stop offset="0.6786" stop-color="#422fd1"/><stop offset="0.7083" stop-color="#422dcc"/><stop offset="0.7321" stop-color="#422ece"/><stop offset="0.7619" stop-color="#4332d7"/><stop offset="0.7946" stop-color="#433de9"/><stop offset="0.8095" stop-color="#4447f1"/><stop offset="0.8333" stop-color="#3b5afa"/><stop offset="0.8512" stop-color="#2c65ff"/><stop offset="0.8661" stop-color="#1670fb"/><stop offset="0.872" stop-color="#1273fb"/><stop offset="0.8958" stop-color="#0a7dfa"/><stop offset="0.9345" stop-color="#0c8cf4"/><stop offset="0.9524" stop-color="#0d9be9"/><stop offset="0.9673" stop-color="#05add9"/><stop offset="0.9881" stop-color="#09bfab"/><stop offset="0.997" stop-color="#0cc693"/></linearGradient><linearGradient id="g76" x1="0" y1="0" x2="0" y2="1"><stop offset="0.002976" stop-color="#fcf008"/><stop offset="0.122" stop-color="#fdea07"/><stop offset="0.1756" stop-color="#fde30c"/><stop offset="0.244" stop-color="#fed416"/><stop offset="0.2976" stop-color="#ffbd27"/><stop offset="0.3065" stop-color="#fdba28"/><stop offset="0.3244" stop-color="#f2bd19"/><stop offset="0.3363" stop-color="#dbc90a"/><stop offset="0.3452" stop-color="#c1c811"/><stop offset="0.3542" stop-color="#9dcc28"/><stop offset="0.3631" stop-color="#65cd41"/><stop offset="0.372" stop-color="#2ed361"/><stop offset="0.378" stop-color="#1cd06f"/><stop offset="0.3929" stop-color="#0dc88b"/><stop offset="0.4107" stop-color="#09beae"/><stop offset="0.4524" stop-color="#05acda"/><stop offset="0.4881" stop-color="#0d99eb"/><stop offset="0.5387" stop-color="#0a7cfa"/><stop offset="0.5536" stop-color="#1471fb"/><stop offset="0.5655" stop-color="#2b65fe"/><stop offset="0.5804" stop-color="#395bfb"/><stop offset="0.5982" stop-color="#414ff6"/><stop offset="0.6101" stop-color="#4446f0"/><stop offset="0.6369" stop-color="#4339e3"/><stop offset="0.6875" stop-color="#422ed0"/><stop offset="0.7351" stop-color="#422ed0"/><stop offset="0.7768" stop-color="#4337df"/><stop offset="0.8065" stop-color="#4545f0"/><stop offset="0.8333" stop-color="#3a5afa"/><stop offset="0.8512" stop-color="#2c65ff"/><stop offset="0.8661" stop-color="#1670fb"/><stop offset="0.872" stop-color="#1273fb"/><stop offset="0.8958" stop-color="#0a7dfa"/><stop offset="0.9345" stop-color="#0c8df4"/><stop offset="0.9494" stop-color="#0d99eb"/><stop offset="0.9643" stop-color="#05acd9"/><stop offset="0.9821" stop-color="#09c0a9"/><stop offset="0.9881" stop-color="#0cc691"/><stop offset="0.997" stop-color="#16cd78"/></linearGradient><linearGradient id="g77" x1="0" y1="0" x2="0" y2="1"><stop offset="0.002976" stop-color="#fcf008"/><stop offset="0.122" stop-color="#fdea07"/><stop offset="0.1815" stop-color="#fde20d"/><stop offset="0.2411" stop-color="#fed515"/><stop offset="0.2976" stop-color="#ffbd27"/><stop offset="0.3036" stop-color="#feba29"/><stop offset="0.3244" stop-color="#f1be19"/><stop offset="0.3333" stop-color="#e0c70b"/><stop offset="0.3363" stop-color="#d9c90b"/><stop offset="0.3452" stop-color="#bfc811"/><stop offset="0.3542" stop-color="#9acc2a"/><stop offset="0.3631" stop-color="#61ce43"/><stop offset="0.372" stop-color="#2bd363"/><stop offset="0.378" stop-color="#1bcf70"/><stop offset="0.3899" stop-color="#0fc986"/><stop offset="0.4077" stop-color="#09bfab"/><stop offset="0.4286" stop-color="#08b8c3"/><stop offset="0.4524" stop-color="#05acda"/><stop offset="0.4881" stop-color="#0d99eb"/><stop offset="0.5387" stop-color="#0a7dfa"/><stop offset="0.5536" stop-color="#1372fb"/><stop offset="0.5655" stop-color="#2a66fe"/><stop offset="0.5833" stop-color="#3a5afa"/><stop offset="0.5982" stop-color="#414ff6"/><stop offset="0.6101" stop-color="#4446f0"/><stop offset="0.6369" stop-color="#4339e3"/><stop offset="0.6875" stop-color="#422fd1"/><stop offset="0.7381" stop-color="#422fd1"/><stop offset="0.7798" stop-color="#4338e1"/><stop offset="0.8065" stop-color="#4546f0"/><stop offset="0.8333" stop-color="#3a5afa"/><stop offset="0.8512" stop-color="#2c65ff"/><stop offset="0.8661" stop-color="#1670fb"/><stop offset="0.872" stop-color="#1273fb"/><stop offset="0.8988" stop-color="#0a7efa"/><stop offset="0.9345" stop-color="#0c8df4"/><stop offset="0.9524" stop-color="#0c9de7"/><stop offset="0.9643" stop-color="#05aed6"/><stop offset="0.9792" stop-color="#09bfac"/><stop offset="0.9851" stop-color="#0cc791"/><stop offset="0.994" stop-color="#19cf72"/><stop offset="0.997" stop-color="#21d16a"/></linearGradient><linearGradient id="g78" x1="0" y1="0" x2="0" y2="1"><stop offset="0.002976" stop-color="#fcf008"/><stop offset="0.122" stop-color="#fdea07"/><stop offset="0.1815" stop-color="#fde20d"/><stop offset="0.2411" stop-color="#fed515"/><stop offset="0.2946" stop-color="#ffbe27"/><stop offset="0.3036" stop-color="#fdba28"/><stop offset="0.3244" stop-color="#f0be18"/><stop offset="0.3333" stop-color="#dfc80b"/><stop offset="0.3363" stop-color="#d7c90b"/><stop offset="0.3452" stop-color="#bdc812"/><stop offset="0.3542" stop-color="#97cc2b"/><stop offset="0.3631" stop-color="#5ece45"/><stop offset="0.372" stop-color="#28d364"/><stop offset="0.378" stop-color="#1acf70"/><stop offset="0.3899" stop-color="#0ec987"/><stop offset="0.4077" stop-color="#09bfab"/><stop offset="0.4286" stop-color="#08b8c4"/><stop offset="0.4524" stop-color="#05acda"/><stop offset="0.4881" stop-color="#0d99eb"/><stop offset="0.5387" stop-color="#0a7dfa"/><stop offset="0.5536" stop-color="#1372fb"/><stop offset="0.5655" stop-color="#2966fe"/><stop offset="0.5833" stop-color="#3a5afa"/><stop offset="0.5982" stop-color="#4050f7"/><stop offset="0.6131" stop-color="#4545ef"/><stop offset="0.6369" stop-color="#433ae4"/><stop offset="0.6875" stop-color="#4230d2"/><stop offset="0.7381" stop-color="#4230d2"/><stop offset="0.7798" stop-color="#4338e2"/><stop offset="0.8065" stop-color="#4546f0"/><stop offset="0.8333" stop-color="#3a5afa"/><stop offset="0.8512" stop-color="#2c65ff"/><stop offset="0.869" stop-color="#1471fb"/><stop offset="0.8988" stop-color="#0a7efa"/><stop offset="0.9345" stop-color="#0c8cf4"/><stop offset="0.9494" stop-color="#0d9aeb"/><stop offset="0.9643" stop-color="#05aed7"/><stop offset="0.9792" stop-color="#09bfad"/><stop offset="0.9851" stop-color="#0cc693"/><stop offset="0.9911" stop-color="#13cc7d"/><stop offset="0.997" stop-color="#1ed06d"/></linearGradient><linearGradient id="g79" x1="0" y1="0" x2="0" y2="1"><stop offset="0.002976" stop-color="#fcf008"/><stop offset="0.122" stop-color="#fdea07"/><stop offset="0.1845" stop-color="#fde20d"/><stop offset="0.2411" stop-color="#fed515"/><stop offset="0.2946" stop-color="#ffbd27"/><stop offset="0.3036" stop-color="#fdba28"/><stop offset="0.3244" stop-color="#f0be18"/><stop offset="0.3333" stop-color="#dec80a"/><stop offset="0.3363" stop-color="#d6c90b"/><stop offset="0.3452" stop-color="#bdc812"/><stop offset="0.3542" stop-color="#96cc2c"/><stop offset="0.3631" stop-color="#5dce46"/><stop offset="0.372" stop-color="#27d365"/><stop offset="0.378" stop-color="#19cf71"/><stop offset="0.3899" stop-color="#0ec988"/><stop offset="0.4077" stop-color="#09bfac"/><stop offset="0.4286" stop-color="#08b7c4"/><stop offset="0.4524" stop-color="#05acda"/><stop offset="0.4881" stop-color="#0d99eb"/><stop offset="0.5387" stop-color="#0a7dfa"/><stop offset="0.5565" stop-color="#1570fb"/><stop offset="0.5685" stop-color="#2c64ff"/><stop offset="0.5833" stop-color="#3a5bfa"/><stop offset="0.6071" stop-color="#4349f2"/><stop offset="0.6399" stop-color="#4339e3"/><stop offset="0.6905" stop-color="#4230d2"/><stop offset="0.7411" stop-color="#4231d4"/><stop offset="0.7827" stop-color="#433ae4"/><stop offset="0.8065" stop-color="#4546f0"/><stop offset="0.8333" stop-color="#3a5afa"/><stop offset="0.8512" stop-color="#2c65ff"/><stop offset="0.869" stop-color="#1471fb"/><stop offset="0.8988" stop-color="#0a7dfa"/><stop offset="0.9345" stop-color="#0c8cf4"/><stop offset="0.9494" stop-color="#0d99eb"/><stop offset="0.9643" stop-color="#05acdb"/><stop offset="0.9821" stop-color="#09bfad"/><stop offset="0.9911" stop-color="#0dc88c"/><stop offset="0.997" stop-color="#13cc7d"/></linearGradient><linearGradient id="g80" x1="0" y1="0" x2="0" y2="1"><stop offset="0.002976" stop-color="#fcf008"/><stop offset="0.122" stop-color="#fdea07"/><stop offset="0.1845" stop-color="#fde20d"/><stop offset="0.2411" stop-color="#fed515"/><stop offset="0.2946" stop-color="#ffbd27"/><stop offset="0.3036" stop-color="#fdba28"/><stop offset="0.3244" stop-color="#efbe17"/><stop offset="0.3333" stop-color="#dec80a"/><stop offset="0.3363" stop-color="#d6c90b"/><stop offset="0.3452" stop-color="#bcc812"/><stop offset="0.3542" stop-color="#95cc2c"/><stop offset="0.3631" stop-color="#5cce46"/><stop offset="0.372" stop-color="#27d365"/><stop offset="0.378" stop-color="#19cf72"/><stop offset="0.3899" stop-color="#0ec988"/><stop offset="0.4077" stop-color="#09bfac"/><stop offset="0.4286" stop-color="#08b7c4"/><stop offset="0.4524" stop-color="#05acda"/><stop offset="0.4881" stop-color="#0d99eb"/><stop offset="0.5387" stop-color="#0a7efa"/><stop offset="0.5565" stop-color="#1471fb"/><stop offset="0.5685" stop-color="#2b65ff"/><stop offset="0.5863" stop-color="#3b59fa"/><stop offset="0.6131" stop-color="#4546f0"/><stop offset="0.6488" stop-color="#4337df"/><stop offset="0.6786" stop-color="#4331d6"/><stop offset="0.7083" stop-color="#4230d2"/><stop offset="0.7381" stop-color="#4231d4"/><stop offset="0.7649" stop-color="#4335dc"/><stop offset="0.7917" stop-color="#433de9"/><stop offset="0.8065" stop-color="#4546f0"/><stop offset="0.8333" stop-color="#3a5afa"/><stop offset="0.8512" stop-color="#2c64ff"/><stop offset="0.872" stop-color="#1372fb"/><stop offset="0.9018" stop-color="#0a7efa"/><stop offset="0.9375" stop-color="#0c8df4"/><stop offset="0.9524" stop-color="#0d9aea"/><stop offset="0.9673" stop-color="#05acd9"/><stop offset="0.9762" stop-color="#07b6c6"/><stop offset="0.997" stop-color="#0bc595"/></linearGradient><linearGradient id="g81" x1="0" y1="0" x2="0" y2="1"><stop offset="0.002976" stop-color="#fcf008"/><stop offset="0.122" stop-color="#fdeb07"/><stop offset="0.1815" stop-color="#fde30c"/><stop offset="0.2411" stop-color="#fed515"/><stop offset="0.3006" stop-color="#febb29"/><stop offset="0.3155" stop-color="#f6bc1f"/><stop offset="0.3244" stop-color="#efbe17"/><stop offset="0.3333" stop-color="#dec80a"/><stop offset="0.3452" stop-color="#bcc812"/><stop offset="0.3542" stop-color="#95cc2c"/><stop offset="0.3631" stop-color="#5cce46"/><stop offset="0.372" stop-color="#27d365"/><stop offset="0.378" stop-color="#19cf72"/><stop offset="0.3958" stop-color="#0bc596"/><stop offset="0.4107" stop-color="#09bdb1"/><stop offset="0.4524" stop-color="#05acda"/><stop offset="0.4881" stop-color="#0d9aea"/><stop offset="0.5357" stop-color="#0a80f9"/><stop offset="0.5565" stop-color="#1472fb"/><stop offset="0.5714" stop-color="#2e63fe"/><stop offset="0.5863" stop-color="#3b5afa"/><stop offset="0.6012" stop-color="#414ff6"/><stop offset="0.6131" stop-color="#4446f0"/><stop offset="0.6339" stop-color="#433ce7"/><stop offset="0.6637" stop-color="#4334da"/><stop offset="0.6964" stop-color="#4231d4"/><stop offset="0.75" stop-color="#4333d8"/><stop offset="0.7857" stop-color="#433be6"/><stop offset="0.8065" stop-color="#4546f0"/><stop offset="0.8363" stop-color="#395bfa"/><stop offset="0.8542" stop-color="#2a65fe"/><stop offset="0.872" stop-color="#1471fb"/><stop offset="0.9077" stop-color="#0a7ff9"/><stop offset="0.9375" stop-color="#0c8df4"/><stop offset="0.9583" stop-color="#0b9fe6"/><stop offset="0.9732" stop-color="#05b0d3"/><stop offset="0.997" stop-color="#09bfaa"/></linearGradient><linearGradient id="g82" x1="0" y1="0" x2="0" y2="1"><stop offset="0.002976" stop-color="#fcef08"/><stop offset="0.122" stop-color="#fdeb07"/><stop offset="0.1815" stop-color="#fde30c"/><stop offset="0.2411" stop-color="#fed515"/><stop offset="0.3006" stop-color="#feba29"/><stop offset="0.3155" stop-color="#f6bc1f"/><stop offset="0.3244" stop-color="#efbf17"/><stop offset="0.3333" stop-color="#dec80a"/><stop offset="0.3452" stop-color="#bcc812"/><stop offset="0.3542" stop-color="#95cc2c"/><stop offset="0.3631" stop-color="#5cce46"/><stop offset="0.372" stop-color="#27d365"/><stop offset="0.378" stop-color="#19cf72"/><stop offset="0.3958" stop-color="#0bc597"/><stop offset="0.4048" stop-color="#09c0a9"/><stop offset="0.4107" stop-color="#09bdb1"/><stop offset="0.4524" stop-color="#05acda"/><stop offset="0.4881" stop-color="#0d9aea"/><stop offset="0.5357" stop-color="#0a80f9"/><stop offset="0.5565" stop-color="#1372fb"/><stop offset="0.5714" stop-color="#2d64fe"/><stop offset="0.5863" stop-color="#3a5afa"/><stop offset="0.6012" stop-color="#4050f7"/><stop offset="0.6161" stop-color="#4545ef"/><stop offset="0.631" stop-color="#433de9"/><stop offset="0.6637" stop-color="#4335db"/><stop offset="0.6935" stop-color="#4331d5"/><stop offset="0.75" stop-color="#4333d8"/><stop offset="0.7857" stop-color="#433be6"/><stop offset="0.8065" stop-color="#4546f0"/><stop offset="0.8363" stop-color="#3a5bfa"/><stop offset="0.8542" stop-color="#2d64fe"/><stop offset="0.875" stop-color="#1471fb"/><stop offset="0.9048" stop-color="#0a7efa"/><stop offset="0.9375" stop-color="#0c8df4"/><stop offset="0.9583" stop-color="#0b9fe6"/><stop offset="0.9732" stop-color="#05aed7"/><stop offset="0.997" stop-color="#09bdb2"/></linearGradient><linearGradient id="g83" x1="0" y1="0" x2="0" y2="1"><stop offset="0.002976" stop-color="#fcef08"/><stop offset="0.125" stop-color="#fdea07"/><stop offset="0.1815" stop-color="#fde30c"/><stop offset="0.2411" stop-color="#fed515"/><stop offset="0.3006" stop-color="#feba29"/><stop offset="0.3155" stop-color="#f6bc1f"/><stop offset="0.3244" stop-color="#efbf17"/><stop offset="0.3333" stop-color="#dec80a"/><stop offset="0.3452" stop-color="#bcc812"/><stop offset="0.3542" stop-color="#95cc2d"/><stop offset="0.3631" stop-color="#5cce46"/><stop offset="0.372" stop-color="#27d365"/><stop offset="0.378" stop-color="#19cf72"/><stop offset="0.3899" stop-color="#0dc88a"/><stop offset="0.3958" stop-color="#0bc597"/><stop offset="0.4048" stop-color="#09c0aa"/><stop offset="0.4107" stop-color="#09bdb1"/><stop offset="0.4524" stop-color="#05acd9"/><stop offset="0.4911" stop-color="#0d99eb"/><stop offset="0.5357" stop-color="#0a81f9"/><stop offset="0.5417" stop-color="#0a7dfa"/><stop offset="0.5595" stop-color="#1571fb"/><stop offset="0.5714" stop-color="#2c65ff"/><stop offset="0.5863" stop-color="#395bfa"/><stop offset="0.6012" stop-color="#4051f7"/><stop offset="0.6161" stop-color="#4546f0"/><stop offset="0.631" stop-color="#433dea"/><stop offset="0.6637" stop-color="#4335dc"/><stop offset="0.6935" stop-color="#4332d6"/><stop offset="0.75" stop-color="#4333d9"/><stop offset="0.7857" stop-color="#433be6"/><stop offset="0.8065" stop-color="#4546f0"/><stop offset="0.8363" stop-color="#3a5afa"/><stop offset="0.8571" stop-color="#2c65ff"/><stop offset="0.878" stop-color="#1471fb"/><stop offset="0.9048" stop-color="#0a7efa"/><stop offset="0.9375" stop-color="#0c8ef3"/><stop offset="0.9583" stop-color="#0b9fe6"/><stop offset="0.9732" stop-color="#05aed6"/><stop offset="0.997" stop-color="#09bdb2"/></linearGradient><linearGradient id="g84" x1="0" y1="0" x2="0" y2="1"><stop offset="0.002976" stop-color="#fcef08"/><stop offset="0.125" stop-color="#fdea07"/><stop offset="0.1786" stop-color="#fde40c"/><stop offset="0.2381" stop-color="#fed615"/><stop offset="0.3006" stop-color="#feba29"/><stop offset="0.3155" stop-color="#f6bc1e"/><stop offset="0.3244" stop-color="#efbf17"/><stop offset="0.3333" stop-color="#dec90a"/><stop offset="0.3452" stop-color="#bbc813"/><stop offset="0.3542" stop-color="#93cc2d"/><stop offset="0.372" stop-color="#26d366"/><stop offset="0.378" stop-color="#19cf72"/><stop offset="0.3958" stop-color="#0bc596"/><stop offset="0.4048" stop-color="#09c0a9"/><stop offset="0.4137" stop-color="#09bcb4"/><stop offset="0.4554" stop-color="#05abdb"/><stop offset="0.4911" stop-color="#0d99eb"/><stop offset="0.5327" stop-color="#0a83f8"/><stop offset="0.5446" stop-color="#0b7cfa"/><stop offset="0.5595" stop-color="#1471fb"/><stop offset="0.5744" stop-color="#2e63fe"/><stop offset="0.5893" stop-color="#3a5afa"/><stop offset="0.6042" stop-color="#414ff6"/><stop offset="0.619" stop-color="#4545ef"/><stop offset="0.6369" stop-color="#433ce8"/><stop offset="0.6667" stop-color="#4335dc"/><stop offset="0.6964" stop-color="#4332d7"/><stop offset="0.75" stop-color="#4334da"/><stop offset="0.7857" stop-color="#433be6"/><stop offset="0.8065" stop-color="#4546f0"/><stop offset="0.8363" stop-color="#3a5afa"/><stop offset="0.8571" stop-color="#2d64fe"/><stop offset="0.878" stop-color="#1471fb"/><stop offset="0.9048" stop-color="#0a7efa"/><stop offset="0.9345" stop-color="#0c8df4"/><stop offset="0.9583" stop-color="#0aa1e4"/><stop offset="0.9732" stop-color="#05b0d2"/><stop offset="0.997" stop-color="#09bfaa"/></linearGradient><linearGradient id="g85" x1="0" y1="0" x2="0" y2="1"><stop offset="0.002976" stop-color="#fcef08"/><stop offset="0.125" stop-color="#fdea07"/><stop offset="0.1845" stop-color="#fde30c"/><stop offset="0.2381" stop-color="#fed515"/><stop offset="0.3006" stop-color="#fdba29"/><stop offset="0.3214" stop-color="#f1bd19"/><stop offset="0.3333" stop-color="#dcc90a"/><stop offset="0.3452" stop-color="#b9c914"/><stop offset="0.3512" stop-color="#a0cb26"/><stop offset="0.3601" stop-color="#6bcd3f"/><stop offset="0.369" stop-color="#34d25d"/><stop offset="0.372" stop-color="#26d366"/><stop offset="0.378" stop-color="#19cf73"/><stop offset="0.3899" stop-color="#0dc989"/><stop offset="0.4077" stop-color="#09bfac"/><stop offset="0.4315" stop-color="#07b6c6"/><stop offset="0.4554" stop-color="#05acdb"/><stop offset="0.4911" stop-color="#0d99eb"/><stop offset="0.5446" stop-color="#0a7cfa"/><stop offset="0.5625" stop-color="#1670fb"/><stop offset="0.5744" stop-color="#2d64fe"/><stop offset="0.5893" stop-color="#3a5bfa"/><stop offset="0.619" stop-color="#4546f0"/><stop offset="0.6548" stop-color="#4338e1"/><stop offset="0.6845" stop-color="#4333d9"/><stop offset="0.7143" stop-color="#4332d7"/><stop offset="0.744" stop-color="#4333d9"/><stop offset="0.7738" stop-color="#4338e1"/><stop offset="0.8065" stop-color="#4546f0"/><stop offset="0.8363" stop-color="#3a5afa"/><stop offset="0.8571" stop-color="#2c64ff"/><stop offset="0.878" stop-color="#1471fb"/><stop offset="0.9018" stop-color="#0a7dfa"/><stop offset="0.9345" stop-color="#0c8df3"/><stop offset="0.9494" stop-color="#0d9aea"/><stop offset="0.9673" stop-color="#05add8"/><stop offset="0.9881" stop-color="#09bfab"/><stop offset="0.997" stop-color="#0cc78f"/></linearGradient><linearGradient id="g86" x1="0" y1="0" x2="0" y2="1"><stop offset="0.002976" stop-color="#fcef08"/><stop offset="0.122" stop-color="#fdeb07"/><stop offset="0.1815" stop-color="#fde30c"/><stop offset="0.2351" stop-color="#fed614"/><stop offset="0.2917" stop-color="#ffbd27"/><stop offset="0.3006" stop-color="#fdba28"/><stop offset="0.3214" stop-color="#f1be19"/><stop offset="0.3333" stop-color="#dac90a"/><stop offset="0.3423" stop-color="#c1c811"/><stop offset="0.3512" stop-color="#9dcc28"/><stop offset="0.3601" stop-color="#67cd40"/><stop offset="0.369" stop-color="#32d25e"/><stop offset="0.372" stop-color="#25d267"/><stop offset="0.378" stop-color="#19cf73"/><stop offset="0.3899" stop-color="#0ec989"/><stop offset="0.4077" stop-color="#09bfab"/><stop offset="0.4315" stop-color="#07b7c5"/><stop offset="0.4554" stop-color="#05acda"/><stop offset="0.4911" stop-color="#0d9aea"/><stop offset="0.5446" stop-color="#0a7dfa"/><stop offset="0.5625" stop-color="#1471fb"/><stop offset="0.5744" stop-color="#2b65ff"/><stop offset="0.5923" stop-color="#3b5afa"/><stop offset="0.6071" stop-color="#414ff7"/><stop offset="0.622" stop-color="#4545ef"/><stop offset="0.6429" stop-color="#433be7"/><stop offset="0.6935" stop-color="#4333d9"/><stop offset="0.75" stop-color="#4334db"/><stop offset="0.7887" stop-color="#433ce8"/><stop offset="0.8065" stop-color="#4546f0"/><stop offset="0.8363" stop-color="#3a5bfa"/><stop offset="0.8542" stop-color="#2d64fe"/><stop offset="0.878" stop-color="#1372fb"/><stop offset="0.9018" stop-color="#0a7dfa"/><stop offset="0.9315" stop-color="#0c8cf4"/><stop offset="0.9464" stop-color="#0d99eb"/><stop offset="0.9554" stop-color="#0aa3e3"/><stop offset="0.9673" stop-color="#05b0d2"/><stop offset="0.9821" stop-color="#09c0a8"/><stop offset="0.9881" stop-color="#0dc88a"/><stop offset="0.994" stop-color="#19cf72"/><stop offset="0.997" stop-color="#25d267"/></linearGradient><linearGradient id="g87" x1="0" y1="0" x2="0" y2="1"><stop offset="0.002976" stop-color="#fcef08"/><stop offset="0.122" stop-color="#fdea07"/><stop offset="0.1815" stop-color="#fde30c"/><stop offset="0.2351" stop-color="#fed515"/><stop offset="0.2917" stop-color="#febd27"/><stop offset="0.2976" stop-color="#feba29"/><stop offset="0.3185" stop-color="#f2bd1a"/><stop offset="0.3304" stop-color="#dec80a"/><stop offset="0.3333" stop-color="#d7c90b"/><stop offset="0.3423" stop-color="#bec812"/><stop offset="0.3512" stop-color="#9acc2a"/><stop offset="0.3601" stop-color="#63cd42"/><stop offset="0.369" stop-color="#2fd360"/><stop offset="0.372" stop-color="#24d268"/><stop offset="0.378" stop-color="#18cf73"/><stop offset="0.3899" stop-color="#0ec988"/><stop offset="0.4077" stop-color="#09bfab"/><stop offset="0.4315" stop-color="#08b7c4"/><stop offset="0.4583" stop-color="#05abdb"/><stop offset="0.4911" stop-color="#0d9aea"/><stop offset="0.5446" stop-color="#0a7efa"/><stop offset="0.5625" stop-color="#1472fb"/><stop offset="0.5774" stop-color="#2d64fe"/><stop offset="0.5923" stop-color="#3a5bfa"/><stop offset="0.6071" stop-color="#4051f7"/><stop offset="0.622" stop-color="#4446f0"/><stop offset="0.6458" stop-color="#433be7"/><stop offset="0.6964" stop-color="#4334da"/><stop offset="0.753" stop-color="#4335dc"/><stop offset="0.7887" stop-color="#433de9"/><stop offset="0.8065" stop-color="#4446f0"/><stop offset="0.8333" stop-color="#3b59fa"/><stop offset="0.8542" stop-color="#2c64ff"/><stop offset="0.875" stop-color="#1471fb"/><stop offset="0.9018" stop-color="#0a7dfa"/><stop offset="0.9345" stop-color="#0c8ff2"/><stop offset="0.9464" stop-color="#0d9bea"/><stop offset="0.9613" stop-color="#05add9"/><stop offset="0.9702" stop-color="#08b8c2"/><stop offset="0.9762" stop-color="#09beae"/><stop offset="0.9821" stop-color="#0dc989"/><stop offset="0.9851" stop-color="#17ce77"/><stop offset="0.9881" stop-color="#2ed361"/><stop offset="0.9911" stop-color="#6bcd3f"/><stop offset="0.994" stop-color="#a2cb24"/><stop offset="0.997" stop-color="#c2c810"/></linearGradient><linearGradient id="g88" x1="0" y1="0" x2="0" y2="1"><stop offset="0.002976" stop-color="#fcef08"/><stop offset="0.119" stop-color="#fdea07"/><stop offset="0.1726" stop-color="#fde40b"/><stop offset="0.2321" stop-color="#fed615"/><stop offset="0.2946" stop-color="#febb29"/><stop offset="0.3125" stop-color="#f5bc1d"/><stop offset="0.3185" stop-color="#f1be19"/><stop offset="0.3304" stop-color="#dbc90a"/><stop offset="0.3423" stop-color="#bac814"/><stop offset="0.3512" stop-color="#95cc2c"/><stop offset="0.3601" stop-color="#60ce44"/><stop offset="0.369" stop-color="#2dd362"/><stop offset="0.375" stop-color="#1cd06e"/><stop offset="0.378" stop-color="#18ce74"/><stop offset="0.3958" stop-color="#0bc694"/><stop offset="0.4107" stop-color="#09beae"/><stop offset="0.4583" stop-color="#05acdb"/><stop offset="0.494" stop-color="#0d99eb"/><stop offset="0.5179" stop-color="#0c8cf4"/><stop offset="0.5506" stop-color="#0c7bfa"/><stop offset="0.5655" stop-color="#1570fb"/><stop offset="0.5774" stop-color="#2b65ff"/><stop offset="0.5833" stop-color="#3161fd"/><stop offset="0.5952" stop-color="#3a5afa"/><stop offset="0.6101" stop-color="#4050f7"/><stop offset="0.625" stop-color="#4546f0"/><stop offset="0.6429" stop-color="#433dea"/><stop offset="0.6935" stop-color="#4335db"/><stop offset="0.744" stop-color="#4335dc"/><stop offset="0.7887" stop-color="#433dea"/><stop offset="0.8036" stop-color="#4545ef"/><stop offset="0.8214" stop-color="#3f52f8"/><stop offset="0.8363" stop-color="#395bfb"/><stop offset="0.8542" stop-color="#2a65fe"/><stop offset="0.875" stop-color="#1372fb"/><stop offset="0.9018" stop-color="#0a7dfa"/><stop offset="0.9315" stop-color="#0c8df4"/><stop offset="0.9494" stop-color="#0b9fe6"/><stop offset="0.9613" stop-color="#05afd4"/><stop offset="0.9673" stop-color="#08b7c4"/><stop offset="0.9732" stop-color="#09beae"/><stop offset="0.9792" stop-color="#10ca83"/><stop offset="0.9821" stop-color="#1fd16c"/><stop offset="0.9851" stop-color="#64cd42"/><stop offset="0.9881" stop-color="#b3c918"/><stop offset="0.9911" stop-color="#e1c70c"/><stop offset="0.994" stop-color="#f6bc1f"/><stop offset="0.997" stop-color="#febb28"/></linearGradient><linearGradient id="g89" x1="0" y1="0" x2="0" y2="1"><stop offset="0.002976" stop-color="#fcee08"/><stop offset="0.1161" stop-color="#fdea07"/><stop offset="0.1726" stop-color="#fde40c"/><stop offset="0.2292" stop-color="#fed614"/><stop offset="0.2946" stop-color="#feba29"/><stop offset="0.3125" stop-color="#f4bd1c"/><stop offset="0.3185" stop-color="#efbe17"/><stop offset="0.3274" stop-color="#dfc80b"/><stop offset="0.3393" stop-color="#c0c811"/><stop offset="0.3512" stop-color="#90cc2f"/><stop offset="0.369" stop-color="#2ad363"/><stop offset="0.378" stop-color="#18ce74"/><stop offset="0.3958" stop-color="#0cc694"/><stop offset="0.4107" stop-color="#09bead"/><stop offset="0.4583" stop-color="#05acda"/><stop offset="0.494" stop-color="#0d9aeb"/><stop offset="0.5179" stop-color="#0c8df4"/><stop offset="0.5506" stop-color="#0b7bfa"/><stop offset="0.5655" stop-color="#1472fb"/><stop offset="0.5804" stop-color="#2d64fe"/><stop offset="0.5863" stop-color="#3260fd"/><stop offset="0.6131" stop-color="#4050f7"/><stop offset="0.628" stop-color="#4546f0"/><stop offset="0.6458" stop-color="#433dea"/><stop offset="0.6964" stop-color="#4335dc"/><stop offset="0.744" stop-color="#4336dd"/><stop offset="0.7887" stop-color="#433eeb"/><stop offset="0.8036" stop-color="#4545f0"/><stop offset="0.8214" stop-color="#3f52f8"/><stop offset="0.8363" stop-color="#395bfb"/><stop offset="0.8542" stop-color="#2a66fe"/><stop offset="0.875" stop-color="#1472fb"/><stop offset="0.9048" stop-color="#0a7efa"/><stop offset="0.9315" stop-color="#0c8df4"/><stop offset="0.9435" stop-color="#0d99eb"/><stop offset="0.9524" stop-color="#09a4e1"/><stop offset="0.9613" stop-color="#05b1d1"/><stop offset="0.9702" stop-color="#09bdb3"/><stop offset="0.9732" stop-color="#0ac2a2"/><stop offset="0.9762" stop-color="#0ec989"/><stop offset="0.9792" stop-color="#1acf70"/><stop offset="0.9821" stop-color="#60ce44"/><stop offset="0.9851" stop-color="#bbc813"/><stop offset="0.9881" stop-color="#edc016"/><stop offset="0.9911" stop-color="#feba29"/><stop offset="0.997" stop-color="#fed813"/></linearGradient><linearGradient id="g90" x1="0" y1="0" x2="0" y2="1"><stop offset="0.002976" stop-color="#fcee08"/><stop offset="0.1131" stop-color="#fdea07"/><stop offset="0.1696" stop-color="#fde40b"/><stop offset="0.2262" stop-color="#fed614"/><stop offset="0.2917" stop-color="#febb29"/><stop offset="0.3125" stop-color="#f3bd1b"/><stop offset="0.3185" stop-color="#edc016"/><stop offset="0.3274" stop-color="#ddc90a"/><stop offset="0.3393" stop-color="#bdc812"/><stop offset="0.3482" stop-color="#9bcc29"/><stop offset="0.3571" stop-color="#68cd40"/><stop offset="0.369" stop-color="#28d365"/><stop offset="0.375" stop-color="#1acf70"/><stop offset="0.3929" stop-color="#0cc78e"/><stop offset="0.4107" stop-color="#09bfad"/><stop offset="0.4524" stop-color="#05afd4"/><stop offset="0.494" stop-color="#0d9aea"/><stop offset="0.5179" stop-color="#0c8df4"/><stop offset="0.5536" stop-color="#0c7afa"/><stop offset="0.5685" stop-color="#1571fb"/><stop offset="0.5804" stop-color="#2a66fe"/><stop offset="0.5863" stop-color="#3062fd"/><stop offset="0.5982" stop-color="#3a5bfa"/><stop offset="0.6161" stop-color="#404ff7"/><stop offset="0.631" stop-color="#4546f0"/><stop offset="0.6488" stop-color="#433eea"/><stop offset="0.6964" stop-color="#4336de"/><stop offset="0.7411" stop-color="#4336de"/><stop offset="0.7857" stop-color="#433dea"/><stop offset="0.8036" stop-color="#4546f0"/><stop offset="0.8185" stop-color="#4050f7"/><stop offset="0.8363" stop-color="#395bfa"/><stop offset="0.8542" stop-color="#2c64ff"/><stop offset="0.875" stop-color="#1471fb"/><stop offset="0.9048" stop-color="#0a7dfa"/><stop offset="0.9315" stop-color="#0c8df4"/><stop offset="0.9435" stop-color="#0d9aea"/><stop offset="0.9524" stop-color="#08a5e1"/><stop offset="0.9613" stop-color="#05b2ce"/><stop offset="0.9702" stop-color="#09beae"/><stop offset="0.9762" stop-color="#11cb81"/><stop offset="0.9792" stop-color="#27d365"/><stop offset="0.9821" stop-color="#88cc32"/><stop offset="0.9851" stop-color="#d3c90c"/><stop offset="0.9881" stop-color="#f7bc1f"/><stop offset="0.9911" stop-color="#ffc124"/><stop offset="0.997" stop-color="#fde60a"/></linearGradient><linearGradient id="g91" x1="0" y1="0" x2="0" y2="1"><stop offset="0.002976" stop-color="#fcee08"/><stop offset="0.1101" stop-color="#fdea07"/><stop offset="0.1667" stop-color="#fde40b"/><stop offset="0.2232" stop-color="#fed714"/><stop offset="0.2917" stop-color="#feba29"/><stop offset="0.3095" stop-color="#f4bd1c"/><stop offset="0.3155" stop-color="#f0be18"/><stop offset="0.3274" stop-color="#dac90a"/><stop offset="0.3393" stop-color="#bac814"/><stop offset="0.3482" stop-color="#97cc2c"/><stop offset="0.3571" stop-color="#63cd42"/><stop offset="0.369" stop-color="#26d366"/><stop offset="0.375" stop-color="#1acf71"/><stop offset="0.3958" stop-color="#0bc694"/><stop offset="0.4107" stop-color="#09bfad"/><stop offset="0.4613" stop-color="#05acdb"/><stop offset="0.497" stop-color="#0d99eb"/><stop offset="0.5208" stop-color="#0c8cf4"/><stop offset="0.5536" stop-color="#0b7bfa"/><stop offset="0.5685" stop-color="#1372fb"/><stop offset="0.5833" stop-color="#2c65ff"/><stop offset="0.5893" stop-color="#3161fd"/><stop offset="0.6012" stop-color="#3a5bfa"/><stop offset="0.619" stop-color="#404ff7"/><stop offset="0.6339" stop-color="#4446f0"/><stop offset="0.6548" stop-color="#433dea"/><stop offset="0.7054" stop-color="#4337df"/><stop offset="0.747" stop-color="#4338e1"/><stop offset="0.7857" stop-color="#433eeb"/><stop offset="0.8036" stop-color="#4446f0"/><stop offset="0.8214" stop-color="#3f51f8"/><stop offset="0.8363" stop-color="#3a5afa"/><stop offset="0.8571" stop-color="#2c64fe"/><stop offset="0.881" stop-color="#1471fb"/><stop offset="0.9077" stop-color="#0a7efa"/><stop offset="0.9315" stop-color="#0c8df4"/><stop offset="0.9435" stop-color="#0d9aea"/><stop offset="0.9583" stop-color="#05aed6"/><stop offset="0.9643" stop-color="#08b7c5"/><stop offset="0.9702" stop-color="#09beae"/><stop offset="0.9762" stop-color="#11cb82"/><stop offset="0.9792" stop-color="#23d268"/><stop offset="0.9851" stop-color="#c6c80f"/><stop offset="0.9881" stop-color="#f2bd1a"/><stop offset="0.9911" stop-color="#febc28"/><stop offset="0.997" stop-color="#feda12"/></linearGradient><linearGradient id="g92" x1="0" y1="0" x2="0" y2="1"><stop offset="0.002976" stop-color="#fcee08"/><stop offset="0.1042" stop-color="#fdea07"/><stop offset="0.1667" stop-color="#fde40c"/><stop offset="0.2202" stop-color="#fed714"/><stop offset="0.2887" stop-color="#febb29"/><stop offset="0.3095" stop-color="#f3bd1c"/><stop offset="0.3155" stop-color="#eebf16"/><stop offset="0.3244" stop-color="#dec80a"/><stop offset="0.3363" stop-color="#c0c811"/><stop offset="0.3482" stop-color="#92cc2e"/><stop offset="0.3661" stop-color="#2fd360"/><stop offset="0.369" stop-color="#25d267"/><stop offset="0.375" stop-color="#19cf72"/><stop offset="0.3929" stop-color="#0cc78f"/><stop offset="0.4107" stop-color="#09bfac"/><stop offset="0.4554" stop-color="#05afd5"/><stop offset="0.497" stop-color="#0d9aea"/><stop offset="0.5208" stop-color="#0c8df4"/><stop offset="0.5565" stop-color="#0c7bfa"/><stop offset="0.5714" stop-color="#1471fb"/><stop offset="0.5863" stop-color="#2c64ff"/><stop offset="0.5923" stop-color="#3161fd"/><stop offset="0.6042" stop-color="#3a5afa"/><stop offset="0.622" stop-color="#4050f7"/><stop offset="0.6399" stop-color="#4545f0"/><stop offset="0.6577" stop-color="#433eeb"/><stop offset="0.7054" stop-color="#4338e1"/><stop offset="0.7649" stop-color="#433be6"/><stop offset="0.8006" stop-color="#4545f0"/><stop offset="0.8393" stop-color="#3a5afa"/><stop offset="0.8631" stop-color="#2c65ff"/><stop offset="0.8869" stop-color="#1472fb"/><stop offset="0.9107" stop-color="#0a7efa"/><stop offset="0.9315" stop-color="#0c8cf4"/><stop offset="0.9435" stop-color="#0d99eb"/><stop offset="0.9524" stop-color="#08a5e1"/><stop offset="0.9613" stop-color="#05b2ce"/><stop offset="0.9702" stop-color="#09bdb0"/><stop offset="0.9732" stop-color="#0ac2a0"/><stop offset="0.9762" stop-color="#0dc88a"/><stop offset="0.9792" stop-color="#18ce75"/><stop offset="0.9821" stop-color="#41d156"/><stop offset="0.9851" stop-color="#94cc2d"/><stop offset="0.9881" stop-color="#cdc80d"/><stop offset="0.9911" stop-color="#f1be18"/><stop offset="0.994" stop-color="#fbbb26"/><stop offset="0.997" stop-color="#ffbf25"/></linearGradient><linearGradient id="g93" x1="0" y1="0" x2="0" y2="1"><stop offset="0.002976" stop-color="#fcee08"/><stop offset="0.1012" stop-color="#fdea07"/><stop offset="0.1726" stop-color="#fde20d"/><stop offset="0.2202" stop-color="#fed614"/><stop offset="0.2887" stop-color="#feba29"/><stop offset="0.3125" stop-color="#f1be19"/><stop offset="0.3244" stop-color="#dcc90a"/><stop offset="0.3363" stop-color="#bec812"/><stop offset="0.3452" stop-color="#9ccc28"/><stop offset="0.3542" stop-color="#6bcd3e"/><stop offset="0.3661" stop-color="#2cd362"/><stop offset="0.375" stop-color="#19cf73"/><stop offset="0.3899" stop-color="#0dc88a"/><stop offset="0.4107" stop-color="#09bfac"/><stop offset="0.4643" stop-color="#05abdb"/><stop offset="0.5" stop-color="#0d99eb"/><stop offset="0.5536" stop-color="#0a7efa"/><stop offset="0.5744" stop-color="#1571fb"/><stop offset="0.5893" stop-color="#2d64fe"/><stop offset="0.6071" stop-color="#3a5afa"/><stop offset="0.622" stop-color="#3f52f8"/><stop offset="0.6429" stop-color="#4546f0"/><stop offset="0.6637" stop-color="#433eea"/><stop offset="0.7173" stop-color="#4339e2"/><stop offset="0.7768" stop-color="#433eea"/><stop offset="0.8006" stop-color="#4546f0"/><stop offset="0.8423" stop-color="#3a5afa"/><stop offset="0.869" stop-color="#2c64ff"/><stop offset="0.8929" stop-color="#1372fb"/><stop offset="0.9107" stop-color="#0b7cfa"/><stop offset="0.9226" stop-color="#0a84f8"/><stop offset="0.9435" stop-color="#0d98eb"/><stop offset="0.9554" stop-color="#07a9dd"/><stop offset="0.9643" stop-color="#06b6c8"/><stop offset="0.9732" stop-color="#09bfaa"/><stop offset="0.9792" stop-color="#0fca85"/><stop offset="0.9821" stop-color="#19cf73"/><stop offset="0.9851" stop-color="#3ad25a"/><stop offset="0.9881" stop-color="#79cd39"/><stop offset="0.9911" stop-color="#afca1b"/><stop offset="0.994" stop-color="#d0c80d"/><stop offset="0.997" stop-color="#e5c40f"/></linearGradient><linearGradient id="g94" x1="0" y1="0" x2="0" y2="1"><stop offset="0.002976" stop-color="#fced08"/><stop offset="0.09821" stop-color="#fdea08"/><stop offset="0.1696" stop-color="#fde20d"/><stop offset="0.2173" stop-color="#fed614"/><stop offset="0.2798" stop-color="#ffbd27"/><stop offset="0.2887" stop-color="#fdba28"/><stop offset="0.3095" stop-color="#f2bd1a"/><stop offset="0.3244" stop-color="#dac90a"/><stop offset="0.3363" stop-color="#bbc813"/><stop offset="0.3452" stop-color="#99cc2b"/><stop offset="0.3542" stop-color="#67cd40"/><stop offset="0.3661" stop-color="#28d364"/><stop offset="0.372" stop-color="#1cd06f"/><stop offset="0.3869" stop-color="#0fc986"/><stop offset="0.4107" stop-color="#09bfac"/><stop offset="0.4643" stop-color="#05acda"/><stop offset="0.5" stop-color="#0d9aea"/><stop offset="0.5565" stop-color="#0a7dfa"/><stop offset="0.5774" stop-color="#1670fb"/><stop offset="0.5893" stop-color="#2966fe"/><stop offset="0.6101" stop-color="#3a5afa"/><stop offset="0.622" stop-color="#3e54f8"/><stop offset="0.6488" stop-color="#4545f0"/><stop offset="0.6696" stop-color="#433eeb"/><stop offset="0.7143" stop-color="#433ae4"/><stop offset="0.7589" stop-color="#433ce8"/><stop offset="0.8006" stop-color="#4446f0"/><stop offset="0.8452" stop-color="#3b5afa"/><stop offset="0.875" stop-color="#2c64fe"/><stop offset="0.8958" stop-color="#1471fb"/><stop offset="0.9137" stop-color="#0a7cfa"/><stop offset="0.9345" stop-color="#0c8df4"/><stop offset="0.9464" stop-color="#0d9be9"/><stop offset="0.9583" stop-color="#05acda"/><stop offset="0.9732" stop-color="#09bdb1"/><stop offset="0.9762" stop-color="#0ac1a6"/><stop offset="0.9821" stop-color="#0fc986"/><stop offset="0.9881" stop-color="#22d26a"/><stop offset="0.9911" stop-color="#43d155"/><stop offset="0.994" stop-color="#6acd3f"/><stop offset="0.997" stop-color="#8dcc30"/></linearGradient><linearGradient id="g95" x1="0" y1="0" x2="0" y2="1"><stop offset="0.002976" stop-color="#fced08"/><stop offset="0.09821" stop-color="#fdea08"/><stop offset="0.1696" stop-color="#fde10d"/><stop offset="0.2173" stop-color="#fed515"/><stop offset="0.2827" stop-color="#febb28"/><stop offset="0.3095" stop-color="#f2bd19"/><stop offset="0.3214" stop-color="#dfc80b"/><stop offset="0.3244" stop-color="#d8c90b"/><stop offset="0.3363" stop-color="#b8c915"/><stop offset="0.3452" stop-color="#95cc2c"/><stop offset="0.3542" stop-color="#63cd42"/><stop offset="0.3661" stop-color="#27d365"/><stop offset="0.372" stop-color="#1bd06f"/><stop offset="0.3869" stop-color="#0fc986"/><stop offset="0.4107" stop-color="#09bfac"/><stop offset="0.4673" stop-color="#05abdb"/><stop offset="0.503" stop-color="#0d99eb"/><stop offset="0.5595" stop-color="#0a7cfa"/><stop offset="0.5774" stop-color="#1372fb"/><stop offset="0.5923" stop-color="#2a66fe"/><stop offset="0.6131" stop-color="#3a5bfa"/><stop offset="0.625" stop-color="#3e54f8"/><stop offset="0.6518" stop-color="#4446f0"/><stop offset="0.6756" stop-color="#433eeb"/><stop offset="0.7173" stop-color="#433be6"/><stop offset="0.7589" stop-color="#433de9"/><stop offset="0.7976" stop-color="#4545f0"/><stop offset="0.8512" stop-color="#3a5afa"/><stop offset="0.881" stop-color="#2c64ff"/><stop offset="0.8988" stop-color="#1570fb"/><stop offset="0.9167" stop-color="#0a7dfa"/><stop offset="0.9286" stop-color="#0b86f7"/><stop offset="0.9464" stop-color="#0d9aea"/><stop offset="0.9613" stop-color="#05aed6"/><stop offset="0.9762" stop-color="#09beb0"/><stop offset="0.9851" stop-color="#0dc88c"/><stop offset="0.994" stop-color="#1dd06d"/><stop offset="0.997" stop-color="#27d365"/></linearGradient><linearGradient id="g96" x1="0" y1="0" x2="0" y2="1"><stop offset="0.002976" stop-color="#fced08"/><stop offset="0.1012" stop-color="#fde908"/><stop offset="0.1696" stop-color="#fde10d"/><stop offset="0.2143" stop-color="#fed615"/><stop offset="0.2827" stop-color="#febb29"/><stop offset="0.3095" stop-color="#f1be19"/><stop offset="0.3214" stop-color="#dec90a"/><stop offset="0.3333" stop-color="#c0c811"/><stop offset="0.3423" stop-color="#9fcb26"/><stop offset="0.3631" stop-color="#32d25f"/><stop offset="0.3661" stop-color="#26d366"/><stop offset="0.372" stop-color="#1acf70"/><stop offset="0.3869" stop-color="#0ec987"/><stop offset="0.4107" stop-color="#09bfac"/><stop offset="0.4673" stop-color="#05abdb"/><stop offset="0.503" stop-color="#0d9aea"/><stop offset="0.5595" stop-color="#0a7efa"/><stop offset="0.5804" stop-color="#1472fb"/><stop offset="0.5952" stop-color="#2a66fe"/><stop offset="0.622" stop-color="#3c58f9"/><stop offset="0.6577" stop-color="#4446f0"/><stop offset="0.6756" stop-color="#4441ed"/><stop offset="0.7173" stop-color="#433ce8"/><stop offset="0.756" stop-color="#433eea"/><stop offset="0.7976" stop-color="#4546f0"/><stop offset="0.8571" stop-color="#3a5bfa"/><stop offset="0.8869" stop-color="#2b65ff"/><stop offset="0.9018" stop-color="#1571fb"/><stop offset="0.9167" stop-color="#0b7cfa"/><stop offset="0.9256" stop-color="#0a83f8"/><stop offset="0.9464" stop-color="#0d98ec"/><stop offset="0.9613" stop-color="#05acda"/><stop offset="0.9792" stop-color="#09beb0"/><stop offset="0.9911" stop-color="#0dc889"/><stop offset="0.997" stop-color="#14cc7c"/></linearGradient><linearGradient id="g97" x1="0" y1="0" x2="0" y2="1"><stop offset="0.002976" stop-color="#fced08"/><stop offset="0.1012" stop-color="#fde809"/><stop offset="0.1696" stop-color="#fde00e"/><stop offset="0.2143" stop-color="#fed515"/><stop offset="0.2827" stop-color="#feba29"/><stop offset="0.3095" stop-color="#f0be18"/><stop offset="0.3214" stop-color="#dbc90a"/><stop offset="0.3333" stop-color="#bec812"/><stop offset="0.3423" stop-color="#9dcc28"/><stop offset="0.3631" stop-color="#30d360"/><stop offset="0.3661" stop-color="#25d267"/><stop offset="0.372" stop-color="#1acf71"/><stop offset="0.3899" stop-color="#0dc88b"/><stop offset="0.4107" stop-color="#09bfac"/><stop offset="0.4673" stop-color="#05acda"/><stop offset="0.506" stop-color="#0d99eb"/><stop offset="0.5625" stop-color="#0a7dfa"/><stop offset="0.5833" stop-color="#1471fb"/><stop offset="0.6012" stop-color="#2d64fe"/><stop offset="0.619" stop-color="#395bfa"/><stop offset="0.6339" stop-color="#3e54f8"/><stop offset="0.6667" stop-color="#4546f0"/><stop offset="0.6964" stop-color="#433fec"/><stop offset="0.7351" stop-color="#433eea"/><stop offset="0.7738" stop-color="#4442ed"/><stop offset="0.8006" stop-color="#4447f1"/><stop offset="0.8601" stop-color="#3a5bfa"/><stop offset="0.8869" stop-color="#2d64fe"/><stop offset="0.9048" stop-color="#1471fb"/><stop offset="0.9196" stop-color="#0a7dfa"/><stop offset="0.9375" stop-color="#0c8cf4"/><stop offset="0.9494" stop-color="#0d9aea"/><stop offset="0.9643" stop-color="#05add8"/><stop offset="0.9851" stop-color="#09bfab"/><stop offset="0.997" stop-color="#0dc88c"/></linearGradient><linearGradient id="g98" x1="0" y1="0" x2="0" y2="1"><stop offset="0.002976" stop-color="#fcec08"/><stop offset="0.1012" stop-color="#fde809"/><stop offset="0.1667" stop-color="#fde00e"/><stop offset="0.2113" stop-color="#fed515"/><stop offset="0.2798" stop-color="#febb29"/><stop offset="0.3065" stop-color="#f1bd19"/><stop offset="0.3214" stop-color="#d9c90b"/><stop offset="0.3333" stop-color="#bbc813"/><stop offset="0.3423" stop-color="#9bcc2a"/><stop offset="0.3631" stop-color="#2fd360"/><stop offset="0.3661" stop-color="#25d267"/><stop offset="0.372" stop-color="#1acf71"/><stop offset="0.3899" stop-color="#0dc88b"/><stop offset="0.4107" stop-color="#09bfab"/><stop offset="0.4673" stop-color="#05acd9"/><stop offset="0.506" stop-color="#0d9aea"/><stop offset="0.5655" stop-color="#0a7dfa"/><stop offset="0.5863" stop-color="#1471fb"/><stop offset="0.6042" stop-color="#2d64fe"/><stop offset="0.6339" stop-color="#3d56f9"/><stop offset="0.6756" stop-color="#4545f0"/><stop offset="0.6994" stop-color="#4441ed"/><stop offset="0.7351" stop-color="#433fec"/><stop offset="0.7768" stop-color="#4443ee"/><stop offset="0.8631" stop-color="#395bfa"/><stop offset="0.8899" stop-color="#2b65ff"/><stop offset="0.9048" stop-color="#1471fb"/><stop offset="0.9196" stop-color="#0a7dfa"/><stop offset="0.9315" stop-color="#0b86f7"/><stop offset="0.9494" stop-color="#0d99eb"/><stop offset="0.9643" stop-color="#06abdc"/><stop offset="0.9762" stop-color="#07b7c5"/><stop offset="0.997" stop-color="#0ac39d"/></linearGradient><linearGradient id="g99" x1="0" y1="0" x2="0" y2="1"><stop offset="0.002976" stop-color="#fcec08"/><stop offset="0.1012" stop-color="#fde709"/><stop offset="0.1667" stop-color="#fde00e"/><stop offset="0.2113" stop-color="#fed515"/><stop offset="0.2798" stop-color="#feba29"/><stop offset="0.3065" stop-color="#f1be18"/><stop offset="0.3185" stop-color="#dec90a"/><stop offset="0.3304" stop-color="#c1c811"/><stop offset="0.3423" stop-color="#98cc2b"/><stop offset="0.3512" stop-color="#69cd3f"/><stop offset="0.3631" stop-color="#2ed361"/><stop offset="0.372" stop-color="#1acf71"/><stop offset="0.3899" stop-color="#0dc88a"/><stop offset="0.4107" stop-color="#09bfaa"/><stop offset="0.4643" stop-color="#05aed6"/><stop offset="0.5089" stop-color="#0d99eb"/><stop offset="0.5625" stop-color="#0a80f9"/><stop offset="0.5893" stop-color="#1471fb"/><stop offset="0.6071" stop-color="#2d64fe"/><stop offset="0.6369" stop-color="#3c57f9"/><stop offset="0.6696" stop-color="#434af3"/><stop offset="0.6994" stop-color="#4443ee"/><stop offset="0.7351" stop-color="#4441ed"/><stop offset="0.7768" stop-color="#4544ef"/><stop offset="0.8631" stop-color="#395bfa"/><stop offset="0.8899" stop-color="#2a65fe"/><stop offset="0.9048" stop-color="#1372fb"/><stop offset="0.9196" stop-color="#0a7dfa"/><stop offset="0.9286" stop-color="#0a84f8"/><stop offset="0.9524" stop-color="#0d9aea"/><stop offset="0.9673" stop-color="#05abdb"/><stop offset="0.9792" stop-color="#07b6c6"/><stop offset="0.997" stop-color="#09bfab"/></linearGradient><linearGradient id="g100" x1="0" y1="0" x2="0" y2="1"><stop offset="0.002976" stop-color="#fdec08"/><stop offset="0.1667" stop-color="#fddf0f"/><stop offset="0.2113" stop-color="#fed416"/><stop offset="0.2768" stop-color="#febb29"/><stop offset="0.3036" stop-color="#f2bd1a"/><stop offset="0.3185" stop-color="#dbc90a"/><stop offset="0.3304" stop-color="#bfc811"/><stop offset="0.3423" stop-color="#95cc2c"/><stop offset="0.3512" stop-color="#67cd40"/><stop offset="0.3631" stop-color="#2dd361"/><stop offset="0.3661" stop-color="#24d267"/><stop offset="0.372" stop-color="#1acf71"/><stop offset="0.3929" stop-color="#0cc78f"/><stop offset="0.4137" stop-color="#09bfac"/><stop offset="0.4702" stop-color="#05acd9"/><stop offset="0.5089" stop-color="#0d9aea"/><stop offset="0.5357" stop-color="#0c8df4"/><stop offset="0.5685" stop-color="#0a7efa"/><stop offset="0.5923" stop-color="#1471fb"/><stop offset="0.6101" stop-color="#2c64ff"/><stop offset="0.6339" stop-color="#3a5afa"/><stop offset="0.6815" stop-color="#4349f2"/><stop offset="0.7292" stop-color="#4443ee"/><stop offset="0.7887" stop-color="#4448f1"/><stop offset="0.8601" stop-color="#3a5bfa"/><stop offset="0.8869" stop-color="#2c64ff"/><stop offset="0.9018" stop-color="#1571fb"/><stop offset="0.9196" stop-color="#0a7efa"/><stop offset="0.9405" stop-color="#0c8df3"/><stop offset="0.9524" stop-color="#0d99eb"/><stop offset="0.9613" stop-color="#0aa2e3"/><stop offset="0.9762" stop-color="#05b1d1"/><stop offset="0.997" stop-color="#09bcb4"/></linearGradient><linearGradient id="g101" x1="0" y1="0" x2="0" y2="1"><stop offset="0.002976" stop-color="#fdec08"/><stop offset="0.1667" stop-color="#fdde0f"/><stop offset="0.2083" stop-color="#fed416"/><stop offset="0.2768" stop-color="#feba29"/><stop offset="0.3036" stop-color="#f1bd19"/><stop offset="0.3155" stop-color="#dfc80b"/><stop offset="0.3304" stop-color="#bdc812"/><stop offset="0.3423" stop-color="#92cc2e"/><stop offset="0.3512" stop-color="#64cd41"/><stop offset="0.3631" stop-color="#2cd362"/><stop offset="0.3661" stop-color="#24d267"/><stop offset="0.372" stop-color="#1acf71"/><stop offset="0.3929" stop-color="#0cc78e"/><stop offset="0.4137" stop-color="#09bfac"/><stop offset="0.4643" stop-color="#05afd4"/><stop offset="0.5119" stop-color="#0d9aea"/><stop offset="0.5357" stop-color="#0c8ef3"/><stop offset="0.5774" stop-color="#0c7bfa"/><stop offset="0.5952" stop-color="#1471fb"/><stop offset="0.6131" stop-color="#2c65ff"/><stop offset="0.6399" stop-color="#3b5afa"/><stop offset="0.6875" stop-color="#434af3"/><stop offset="0.7321" stop-color="#4545ef"/><stop offset="0.7917" stop-color="#434af3"/><stop offset="0.8571" stop-color="#3a5afa"/><stop offset="0.8839" stop-color="#2c64ff"/><stop offset="0.9018" stop-color="#1372fb"/><stop offset="0.9196" stop-color="#0a7ffa"/><stop offset="0.9405" stop-color="#0c8df3"/><stop offset="0.9613" stop-color="#0ba1e5"/><stop offset="0.9762" stop-color="#05aed6"/><stop offset="0.997" stop-color="#08babb"/></linearGradient><linearGradient id="g102" x1="0" y1="0" x2="0" y2="1"><stop offset="0.002976" stop-color="#fdec07"/><stop offset="0.1667" stop-color="#fdde0f"/><stop offset="0.2083" stop-color="#fed416"/><stop offset="0.2768" stop-color="#fdba29"/><stop offset="0.3036" stop-color="#f0be18"/><stop offset="0.3155" stop-color="#dec80a"/><stop offset="0.3304" stop-color="#bbc813"/><stop offset="0.3393" stop-color="#9ccc28"/><stop offset="0.3512" stop-color="#62ce43"/><stop offset="0.3631" stop-color="#2bd363"/><stop offset="0.372" stop-color="#1acf71"/><stop offset="0.3929" stop-color="#0cc78d"/><stop offset="0.4137" stop-color="#09bfab"/><stop offset="0.4673" stop-color="#05afd5"/><stop offset="0.5149" stop-color="#0d99eb"/><stop offset="0.5387" stop-color="#0c8ef3"/><stop offset="0.5804" stop-color="#0c7bfa"/><stop offset="0.5982" stop-color="#1471fb"/><stop offset="0.6161" stop-color="#2b65fe"/><stop offset="0.6429" stop-color="#3a5bfa"/><stop offset="0.6905" stop-color="#424cf4"/><stop offset="0.7321" stop-color="#4447f1"/><stop offset="0.7887" stop-color="#424bf4"/><stop offset="0.8542" stop-color="#3a5bfa"/><stop offset="0.881" stop-color="#2c64ff"/><stop offset="0.8988" stop-color="#1472fb"/><stop offset="0.9167" stop-color="#0a7efa"/><stop offset="0.9405" stop-color="#0c8ef3"/><stop offset="0.9583" stop-color="#0c9de8"/><stop offset="0.9762" stop-color="#05acda"/><stop offset="0.997" stop-color="#08b8c2"/></linearGradient><linearGradient id="g103" x1="0" y1="0" x2="0" y2="1"><stop offset="0.002976" stop-color="#fdec07"/><stop offset="0.1667" stop-color="#fddd10"/><stop offset="0.2083" stop-color="#fed317"/><stop offset="0.2738" stop-color="#feba29"/><stop offset="0.3006" stop-color="#f2bd19"/><stop offset="0.3155" stop-color="#dcc90a"/><stop offset="0.3274" stop-color="#c1c811"/><stop offset="0.3393" stop-color="#9acc2a"/><stop offset="0.3512" stop-color="#60ce44"/><stop offset="0.3631" stop-color="#29d363"/><stop offset="0.372" stop-color="#1acf71"/><stop offset="0.3929" stop-color="#0dc88d"/><stop offset="0.4167" stop-color="#09bfad"/><stop offset="0.4702" stop-color="#05aed6"/><stop offset="0.5149" stop-color="#0d9aea"/><stop offset="0.5417" stop-color="#0c8df4"/><stop offset="0.5833" stop-color="#0c7bfa"/><stop offset="0.6012" stop-color="#1472fb"/><stop offset="0.622" stop-color="#2c64fe"/><stop offset="0.6488" stop-color="#3a5afa"/><stop offset="0.6935" stop-color="#414ef6"/><stop offset="0.7321" stop-color="#434af3"/><stop offset="0.7857" stop-color="#424df5"/><stop offset="0.8482" stop-color="#3a5afa"/><stop offset="0.878" stop-color="#2c65ff"/><stop offset="0.8958" stop-color="#1471fb"/><stop offset="0.9137" stop-color="#0a7dfa"/><stop offset="0.9375" stop-color="#0c8cf4"/><stop offset="0.9554" stop-color="#0d9aea"/><stop offset="0.9792" stop-color="#05acd9"/><stop offset="0.997" stop-color="#07b6c7"/></linearGradient><linearGradient id="g104" x1="0" y1="0" x2="0" y2="1"><stop offset="0.002976" stop-color="#fdeb07"/><stop offset="0.1667" stop-color="#fddc10"/><stop offset="0.2083" stop-color="#fed217"/><stop offset="0.2738" stop-color="#feba29"/><stop offset="0.3006" stop-color="#f1be19"/><stop offset="0.3125" stop-color="#dfc80b"/><stop offset="0.3274" stop-color="#bec811"/><stop offset="0.3393" stop-color="#97cc2c"/><stop offset="0.3631" stop-color="#28d364"/><stop offset="0.372" stop-color="#19cf71"/><stop offset="0.3929" stop-color="#0dc88c"/><stop offset="0.4167" stop-color="#09bfac"/><stop offset="0.4732" stop-color="#05aed6"/><stop offset="0.5179" stop-color="#0d9aea"/><stop offset="0.5446" stop-color="#0c8df4"/><stop offset="0.5863" stop-color="#0c7bfa"/><stop offset="0.6071" stop-color="#1670fb"/><stop offset="0.625" stop-color="#2c65ff"/><stop offset="0.6548" stop-color="#3a5afa"/><stop offset="0.6964" stop-color="#4050f7"/><stop offset="0.7351" stop-color="#424cf4"/><stop offset="0.7857" stop-color="#414ff6"/><stop offset="0.8423" stop-color="#3a5afa"/><stop offset="0.872" stop-color="#2d64fe"/><stop offset="0.8929" stop-color="#1472fb"/><stop offset="0.9137" stop-color="#0a7efa"/><stop offset="0.9375" stop-color="#0c8df4"/><stop offset="0.9554" stop-color="#0d9aeb"/><stop offset="0.9792" stop-color="#05abdb"/><stop offset="0.997" stop-color="#06b4ca"/></linearGradient><linearGradient id="g105" x1="0" y1="0" x2="0" y2="1"><stop offset="0.002976" stop-color="#fdeb07"/><stop offset="0.1667" stop-color="#fddc11"/><stop offset="0.2054" stop-color="#fed217"/><stop offset="0.2708" stop-color="#feba29"/><stop offset="0.2976" stop-color="#f2bd1a"/><stop offset="0.3125" stop-color="#ddc90a"/><stop offset="0.3274" stop-color="#bcc812"/><stop offset="0.3393" stop-color="#93cc2d"/><stop offset="0.3512" stop-color="#5bce47"/><stop offset="0.3631" stop-color="#27d365"/><stop offset="0.372" stop-color="#19cf71"/><stop offset="0.3929" stop-color="#0dc88c"/><stop offset="0.4167" stop-color="#09bfab"/><stop offset="0.4702" stop-color="#05b0d3"/><stop offset="0.5208" stop-color="#0d99eb"/><stop offset="0.5446" stop-color="#0c8ef3"/><stop offset="0.5893" stop-color="#0c7bfa"/><stop offset="0.6101" stop-color="#1571fb"/><stop offset="0.631" stop-color="#2d64fe"/><stop offset="0.6607" stop-color="#3a5afa"/><stop offset="0.7351" stop-color="#414ef6"/><stop offset="0.7887" stop-color="#3f51f8"/><stop offset="0.8363" stop-color="#3a5bfa"/><stop offset="0.869" stop-color="#2c65ff"/><stop offset="0.8869" stop-color="#1670fb"/><stop offset="0.9107" stop-color="#0a7efa"/><stop offset="0.9375" stop-color="#0c8df4"/><stop offset="0.9554" stop-color="#0d9aea"/><stop offset="0.9821" stop-color="#05acda"/><stop offset="0.997" stop-color="#05b3cc"/></linearGradient><linearGradient id="g106" x1="0" y1="0" x2="0" y2="1"><stop offset="0.002976" stop-color="#fdeb07"/><stop offset="0.1667" stop-color="#fddb11"/><stop offset="0.2054" stop-color="#fed217"/><stop offset="0.2708" stop-color="#feba29"/><stop offset="0.2976" stop-color="#f1be19"/><stop offset="0.3125" stop-color="#dbc90a"/><stop offset="0.3244" stop-color="#c1c811"/><stop offset="0.3363" stop-color="#9ccc28"/><stop offset="0.3512" stop-color="#58cf48"/><stop offset="0.3631" stop-color="#27d365"/><stop offset="0.372" stop-color="#19cf72"/><stop offset="0.3929" stop-color="#0dc88b"/><stop offset="0.4167" stop-color="#09bfaa"/><stop offset="0.4732" stop-color="#05afd4"/><stop offset="0.5238" stop-color="#0d99eb"/><stop offset="0.5476" stop-color="#0c8ef3"/><stop offset="0.5893" stop-color="#0b7cfa"/><stop offset="0.6131" stop-color="#1471fb"/><stop offset="0.6339" stop-color="#2c65ff"/><stop offset="0.6429" stop-color="#3061fd"/><stop offset="0.6696" stop-color="#3a5afa"/><stop offset="0.7321" stop-color="#4051f8"/><stop offset="0.7827" stop-color="#3f53f8"/><stop offset="0.8333" stop-color="#385cfb"/><stop offset="0.8631" stop-color="#2c64ff"/><stop offset="0.8839" stop-color="#1471fb"/><stop offset="0.9077" stop-color="#0a7efa"/><stop offset="0.9345" stop-color="#0c8cf4"/><stop offset="0.9554" stop-color="#0d9aea"/><stop offset="0.9821" stop-color="#05abdb"/><stop offset="0.997" stop-color="#05b2ce"/></linearGradient><linearGradient id="g107" x1="0" y1="0" x2="0" y2="1"><stop offset="0.002976" stop-color="#fdeb07"/><stop offset="0.1637" stop-color="#fddb11"/><stop offset="0.2024" stop-color="#fed217"/><stop offset="0.2679" stop-color="#febb29"/><stop offset="0.2976" stop-color="#f0be18"/><stop offset="0.3095" stop-color="#dfc80a"/><stop offset="0.3244" stop-color="#bfc811"/><stop offset="0.3363" stop-color="#9bcc2a"/><stop offset="0.3482" stop-color="#64cd42"/><stop offset="0.3631" stop-color="#27d365"/><stop offset="0.372" stop-color="#19cf72"/><stop offset="0.3929" stop-color="#0dc88a"/><stop offset="0.4196" stop-color="#09bfac"/><stop offset="0.4762" stop-color="#05afd5"/><stop offset="0.5238" stop-color="#0d9aea"/><stop offset="0.5506" stop-color="#0c8ef3"/><stop offset="0.5923" stop-color="#0a7cfa"/><stop offset="0.6161" stop-color="#1471fb"/><stop offset="0.6429" stop-color="#2e63fe"/><stop offset="0.6786" stop-color="#3a5afa"/><stop offset="0.7321" stop-color="#3e54f8"/><stop offset="0.7798" stop-color="#3d55f9"/><stop offset="0.8304" stop-color="#365dfb"/><stop offset="0.8571" stop-color="#2c65ff"/><stop offset="0.878" stop-color="#1670fb"/><stop offset="0.9048" stop-color="#0a7efa"/><stop offset="0.9345" stop-color="#0c8df3"/><stop offset="0.9524" stop-color="#0d99eb"/><stop offset="0.9821" stop-color="#05abdb"/><stop offset="0.997" stop-color="#05b2cf"/></linearGradient><linearGradient id="g108" x1="0" y1="0" x2="0" y2="1"><stop offset="0.002976" stop-color="#fdeb07"/><stop offset="0.1637" stop-color="#fedb11"/><stop offset="0.2024" stop-color="#fed118"/><stop offset="0.2679" stop-color="#feba29"/><stop offset="0.2946" stop-color="#f2bd19"/><stop offset="0.3095" stop-color="#ddc90a"/><stop offset="0.3244" stop-color="#bec812"/><stop offset="0.3363" stop-color="#99cc2b"/><stop offset="0.3482" stop-color="#63cd42"/><stop offset="0.3631" stop-color="#27d365"/><stop offset="0.372" stop-color="#19cf71"/><stop offset="0.3929" stop-color="#0dc88a"/><stop offset="0.4196" stop-color="#09bfab"/><stop offset="0.4762" stop-color="#05afd4"/><stop offset="0.5268" stop-color="#0d9aea"/><stop offset="0.5536" stop-color="#0c8df3"/><stop offset="0.5952" stop-color="#0a7cfa"/><stop offset="0.622" stop-color="#1570fb"/><stop offset="0.6458" stop-color="#2d64fe"/><stop offset="0.6875" stop-color="#3a5bfa"/><stop offset="0.7321" stop-color="#3d56f9"/><stop offset="0.7976" stop-color="#3b5afa"/><stop offset="0.8274" stop-color="#345ffc"/><stop offset="0.8512" stop-color="#2b65ff"/><stop offset="0.875" stop-color="#1471fb"/><stop offset="0.9018" stop-color="#0a7efa"/><stop offset="0.9315" stop-color="#0c8df4"/><stop offset="0.9524" stop-color="#0d9aeb"/><stop offset="0.9821" stop-color="#05abdb"/><stop offset="0.997" stop-color="#05b2cf"/></linearGradient><linearGradient id="g109" x1="0" y1="0" x2="0" y2="1"><stop offset="0.002976" stop-color="#fdeb07"/><stop offset="0.1607" stop-color="#fedb11"/><stop offset="0.1994" stop-color="#fed217"/><stop offset="0.2649" stop-color="#febb29"/><stop offset="0.2946" stop-color="#f1be19"/><stop offset="0.3095" stop-color="#dcc90a"/><stop offset="0.3244" stop-color="#bcc812"/><stop offset="0.3363" stop-color="#98cc2b"/><stop offset="0.3482" stop-color="#62ce43"/><stop offset="0.3631" stop-color="#27d365"/><stop offset="0.372" stop-color="#1acf71"/><stop offset="0.3958" stop-color="#0cc88d"/><stop offset="0.4196" stop-color="#09bfaa"/><stop offset="0.4881" stop-color="#05acda"/><stop offset="0.5298" stop-color="#0d9aeb"/><stop offset="0.5565" stop-color="#0c8df4"/><stop offset="0.5982" stop-color="#0a7dfa"/><stop offset="0.625" stop-color="#1471fb"/><stop offset="0.6518" stop-color="#2d64fe"/><stop offset="0.6935" stop-color="#385cfb"/><stop offset="0.7351" stop-color="#3b58f9"/><stop offset="0.7857" stop-color="#3a5afa"/><stop offset="0.8274" stop-color="#3161fd"/><stop offset="0.8452" stop-color="#2a66fe"/><stop offset="0.869" stop-color="#1471fb"/><stop offset="0.9018" stop-color="#0a80f9"/><stop offset="0.9286" stop-color="#0c8df4"/><stop offset="0.9524" stop-color="#0d9aea"/><stop offset="0.9821" stop-color="#05acdb"/><stop offset="0.997" stop-color="#05b2ce"/></linearGradient><linearGradient id="g110" x1="0" y1="0" x2="0" y2="1"><stop offset="0.002976" stop-color="#fdeb07"/><stop offset="0.1607" stop-color="#feda12"/><stop offset="0.2649" stop-color="#feba29"/><stop offset="0.2946" stop-color="#f1be18"/><stop offset="0.3095" stop-color="#dbc90a"/><stop offset="0.3244" stop-color="#bbc813"/><stop offset="0.3363" stop-color="#97cc2c"/><stop offset="0.3482" stop-color="#62ce43"/><stop offset="0.3631" stop-color="#27d365"/><stop offset="0.372" stop-color="#1acf71"/><stop offset="0.3958" stop-color="#0dc88c"/><stop offset="0.4226" stop-color="#09bfac"/><stop offset="0.4881" stop-color="#05acd9"/><stop offset="0.5327" stop-color="#0d99eb"/><stop offset="0.5595" stop-color="#0c8df4"/><stop offset="0.6012" stop-color="#0a7dfa"/><stop offset="0.631" stop-color="#1570fb"/><stop offset="0.6577" stop-color="#2c65ff"/><stop offset="0.6935" stop-color="#355efc"/><stop offset="0.7321" stop-color="#395bfa"/><stop offset="0.7768" stop-color="#385cfb"/><stop offset="0.8214" stop-color="#3062fd"/><stop offset="0.8363" stop-color="#2b65fe"/><stop offset="0.8631" stop-color="#1471fb"/><stop offset="0.8929" stop-color="#0a7dfa"/><stop offset="0.9048" stop-color="#0a82f8"/><stop offset="0.9286" stop-color="#0c8ef3"/><stop offset="0.9583" stop-color="#0b9fe6"/><stop offset="0.9792" stop-color="#06abdc"/><stop offset="0.997" stop-color="#05b3cd"/></linearGradient><linearGradient id="g111" x1="0" y1="0" x2="0" y2="1"><stop offset="0.002976" stop-color="#fdeb07"/><stop offset="0.1577" stop-color="#fedb11"/><stop offset="0.2649" stop-color="#feba29"/><stop offset="0.2917" stop-color="#f2bd1a"/><stop offset="0.3065" stop-color="#dfc80b"/><stop offset="0.3244" stop-color="#bac814"/><stop offset="0.3363" stop-color="#96cc2c"/><stop offset="0.3482" stop-color="#62ce43"/><stop offset="0.3631" stop-color="#28d365"/><stop offset="0.372" stop-color="#1acf70"/><stop offset="0.3958" stop-color="#0dc88c"/><stop offset="0.4226" stop-color="#09bfab"/><stop offset="0.4583" stop-color="#08b7c5"/><stop offset="0.4911" stop-color="#05acda"/><stop offset="0.5357" stop-color="#0d99eb"/><stop offset="0.5625" stop-color="#0c8df4"/><stop offset="0.6042" stop-color="#0a7dfa"/><stop offset="0.6369" stop-color="#1570fb"/><stop offset="0.6667" stop-color="#2c65ff"/><stop offset="0.7321" stop-color="#365dfb"/><stop offset="0.7738" stop-color="#365efc"/><stop offset="0.8155" stop-color="#2e63fe"/><stop offset="0.8304" stop-color="#2866fe"/><stop offset="0.8571" stop-color="#1471fb"/><stop offset="0.8899" stop-color="#0a7efa"/><stop offset="0.9048" stop-color="#0a84f8"/><stop offset="0.9256" stop-color="#0c8df4"/><stop offset="0.9583" stop-color="#0ba0e6"/><stop offset="0.9792" stop-color="#05abdb"/><stop offset="0.997" stop-color="#05b3cc"/></linearGradient><linearGradient id="g112" x1="0" y1="0" x2="0" y2="1"><stop offset="0.002976" stop-color="#fdeb07"/><stop offset="0.1577" stop-color="#feda12"/><stop offset="0.2619" stop-color="#febb29"/><stop offset="0.2917" stop-color="#f2bd1a"/><stop offset="0.3065" stop-color="#dfc80a"/><stop offset="0.3214" stop-color="#c1c811"/><stop offset="0.3363" stop-color="#95cc2c"/><stop offset="0.3482" stop-color="#62ce43"/><stop offset="0.3631" stop-color="#28d364"/><stop offset="0.372" stop-color="#1acf70"/><stop offset="0.3958" stop-color="#0dc88b"/><stop offset="0.4226" stop-color="#09bfab"/><stop offset="0.4583" stop-color="#08b8c4"/><stop offset="0.494" stop-color="#05acda"/><stop offset="0.5387" stop-color="#0d99eb"/><stop offset="0.5655" stop-color="#0c8df4"/><stop offset="0.6101" stop-color="#0a7dfa"/><stop offset="0.6429" stop-color="#1471fb"/><stop offset="0.6786" stop-color="#2c65ff"/><stop offset="0.7351" stop-color="#335ffc"/><stop offset="0.7738" stop-color="#3360fd"/><stop offset="0.8125" stop-color="#2c65ff"/><stop offset="0.8512" stop-color="#1471fb"/><stop offset="0.8839" stop-color="#0a7dfa"/><stop offset="0.9077" stop-color="#0b86f7"/><stop offset="0.9464" stop-color="#0d9aea"/><stop offset="0.9613" stop-color="#0aa2e3"/><stop offset="0.9792" stop-color="#05acd9"/><stop offset="0.997" stop-color="#05b4cb"/></linearGradient><linearGradient id="g113" x1="0" y1="0" x2="0" y2="1"><stop offset="0.002976" stop-color="#fdeb07"/><stop offset="0.1548" stop-color="#feda12"/><stop offset="0.2619" stop-color="#feba29"/><stop offset="0.2917" stop-color="#f1bd19"/><stop offset="0.3065" stop-color="#dec80a"/><stop offset="0.3214" stop-color="#c0c811"/><stop offset="0.3363" stop-color="#95cc2c"/><stop offset="0.3482" stop-color="#62ce43"/><stop offset="0.3631" stop-color="#28d364"/><stop offset="0.372" stop-color="#1acf70"/><stop offset="0.3958" stop-color="#0dc88a"/><stop offset="0.4226" stop-color="#09c0aa"/><stop offset="0.4554" stop-color="#08b9c1"/><stop offset="0.497" stop-color="#05acda"/><stop offset="0.5417" stop-color="#0d99eb"/><stop offset="0.5685" stop-color="#0c8df4"/><stop offset="0.6131" stop-color="#0a7dfa"/><stop offset="0.6488" stop-color="#1471fb"/><stop offset="0.6935" stop-color="#2b65ff"/><stop offset="0.7381" stop-color="#3061fd"/><stop offset="0.7738" stop-color="#3062fd"/><stop offset="0.8036" stop-color="#2a65fe"/><stop offset="0.8423" stop-color="#1471fb"/><stop offset="0.881" stop-color="#0a7dfa"/><stop offset="0.9167" stop-color="#0b8bf5"/><stop offset="0.9435" stop-color="#0d99eb"/><stop offset="0.9732" stop-color="#06aadc"/><stop offset="0.997" stop-color="#06b5c9"/></linearGradient><linearGradient id="g114" x1="0" y1="0" x2="0" y2="1"><stop offset="0.002976" stop-color="#fdeb07"/><stop offset="0.1548" stop-color="#feda12"/><stop offset="0.2619" stop-color="#feba29"/><stop offset="0.2917" stop-color="#f1bd19"/><stop offset="0.3065" stop-color="#dec80a"/><stop offset="0.3214" stop-color="#c0c811"/><stop offset="0.3363" stop-color="#95cc2d"/><stop offset="0.3482" stop-color="#62ce43"/><stop offset="0.3631" stop-color="#28d364"/><stop offset="0.372" stop-color="#1acf70"/><stop offset="0.3958" stop-color="#0dc88a"/><stop offset="0.4256" stop-color="#09bfab"/><stop offset="0.4494" stop-color="#08babc"/><stop offset="0.4911" stop-color="#05aed5"/><stop offset="0.5417" stop-color="#0d9aea"/><stop offset="0.5714" stop-color="#0c8df4"/><stop offset="0.619" stop-color="#0a7dfa"/><stop offset="0.6607" stop-color="#1571fb"/><stop offset="0.6845" stop-color="#216afd"/><stop offset="0.7173" stop-color="#2b65ff"/><stop offset="0.7381" stop-color="#2d64fe"/><stop offset="0.7827" stop-color="#2c65ff"/><stop offset="0.8036" stop-color="#2568fe"/><stop offset="0.8333" stop-color="#1571fb"/><stop offset="0.875" stop-color="#0a7dfa"/><stop offset="0.9167" stop-color="#0c8cf4"/><stop offset="0.9435" stop-color="#0d9bea"/><stop offset="0.9732" stop-color="#05abdb"/><stop offset="0.997" stop-color="#06b6c7"/></linearGradient><linearGradient id="g115" x1="0" y1="0" x2="0" y2="1"><stop offset="0.002976" stop-color="#fdea07"/><stop offset="0.1518" stop-color="#feda12"/><stop offset="0.2619" stop-color="#feba29"/><stop offset="0.2917" stop-color="#f1bd19"/><stop offset="0.3065" stop-color="#dec80a"/><stop offset="0.3214" stop-color="#c0c811"/><stop offset="0.3363" stop-color="#95cc2d"/><stop offset="0.3482" stop-color="#62ce43"/><stop offset="0.3631" stop-color="#28d364"/><stop offset="0.372" stop-color="#1bd070"/><stop offset="0.3958" stop-color="#0dc989"/><stop offset="0.4256" stop-color="#09bfab"/><stop offset="0.503" stop-color="#05abdb"/><stop offset="0.5476" stop-color="#0d99eb"/><stop offset="0.5744" stop-color="#0c8df3"/><stop offset="0.622" stop-color="#0a7efa"/><stop offset="0.6696" stop-color="#1471fb"/><stop offset="0.6845" stop-color="#1b6efc"/><stop offset="0.7292" stop-color="#2767fe"/><stop offset="0.7619" stop-color="#2966fe"/><stop offset="0.7887" stop-color="#2568fe"/><stop offset="0.8244" stop-color="#1571fb"/><stop offset="0.872" stop-color="#0a7dfa"/><stop offset="0.9167" stop-color="#0c8df4"/><stop offset="0.9405" stop-color="#0d9aea"/><stop offset="0.9702" stop-color="#06abdc"/><stop offset="0.997" stop-color="#07b7c6"/></linearGradient><linearGradient id="g116" x1="0" y1="0" x2="0" y2="1"><stop offset="0.002976" stop-color="#fdea07"/><stop offset="0.1518" stop-color="#feda12"/><stop offset="0.2619" stop-color="#feba29"/><stop offset="0.2917" stop-color="#f1bd19"/><stop offset="0.3065" stop-color="#dec80a"/><stop offset="0.3214" stop-color="#c1c811"/><stop offset="0.3363" stop-color="#95cc2d"/><stop offset="0.3482" stop-color="#61ce43"/><stop offset="0.3631" stop-color="#28d364"/><stop offset="0.372" stop-color="#1bcf70"/><stop offset="0.3988" stop-color="#0dc88c"/><stop offset="0.4286" stop-color="#09bfac"/><stop offset="0.506" stop-color="#05abdb"/><stop offset="0.5506" stop-color="#0d99eb"/><stop offset="0.5804" stop-color="#0c8df4"/><stop offset="0.628" stop-color="#0a7efa"/><stop offset="0.6696" stop-color="#1273fb"/><stop offset="0.7351" stop-color="#226afd"/><stop offset="0.7649" stop-color="#2369fd"/><stop offset="0.7887" stop-color="#1f6bfd"/><stop offset="0.8155" stop-color="#1471fb"/><stop offset="0.8661" stop-color="#0a7dfa"/><stop offset="0.9137" stop-color="#0c8df4"/><stop offset="0.9375" stop-color="#0d99eb"/><stop offset="0.9673" stop-color="#06aadc"/><stop offset="0.997" stop-color="#08b7c4"/></linearGradient><linearGradient id="g117" x1="0" y1="0" x2="0" y2="1"><stop offset="0.002976" stop-color="#fdea07"/><stop offset="0.1488" stop-color="#feda12"/><stop offset="0.2619" stop-color="#feba29"/><stop offset="0.2917" stop-color="#f1bd19"/><stop offset="0.3065" stop-color="#dfc80a"/><stop offset="0.3214" stop-color="#c1c811"/><stop offset="0.3363" stop-color="#95cc2d"/><stop offset="0.3482" stop-color="#61ce43"/><stop offset="0.3631" stop-color="#28d364"/><stop offset="0.372" stop-color="#1acf70"/><stop offset="0.3988" stop-color="#0dc88c"/><stop offset="0.4286" stop-color="#09bfab"/><stop offset="0.5089" stop-color="#05abdb"/><stop offset="0.5536" stop-color="#0d99eb"/><stop offset="0.5833" stop-color="#0c8df4"/><stop offset="0.631" stop-color="#0a7ffa"/><stop offset="0.6786" stop-color="#1174fb"/><stop offset="0.7411" stop-color="#1c6dfc"/><stop offset="0.7679" stop-color="#1d6cfc"/><stop offset="0.7917" stop-color="#186ffc"/><stop offset="0.8601" stop-color="#0a7dfa"/><stop offset="0.9107" stop-color="#0c8df4"/><stop offset="0.9345" stop-color="#0d99eb"/><stop offset="0.9673" stop-color="#05abdb"/><stop offset="0.997" stop-color="#08b8c2"/></linearGradient><linearGradient id="g118" x1="0" y1="0" x2="0" y2="1"><stop offset="0.002976" stop-color="#fdea08"/><stop offset="0.1488" stop-color="#feda12"/><stop offset="0.2589" stop-color="#febb29"/><stop offset="0.2917" stop-color="#f1bd19"/><stop offset="0.3065" stop-color="#dfc80b"/><stop offset="0.3244" stop-color="#bac814"/><stop offset="0.3363" stop-color="#95cc2c"/><stop offset="0.3482" stop-color="#61ce44"/><stop offset="0.3631" stop-color="#27d365"/><stop offset="0.372" stop-color="#1acf70"/><stop offset="0.3988" stop-color="#0dc88b"/><stop offset="0.4286" stop-color="#09bfab"/><stop offset="0.5119" stop-color="#05abdb"/><stop offset="0.5565" stop-color="#0d99eb"/><stop offset="0.5893" stop-color="#0c8df4"/><stop offset="0.6369" stop-color="#0a7ff9"/><stop offset="0.6845" stop-color="#1075fb"/><stop offset="0.7351" stop-color="#1670fb"/><stop offset="0.7649" stop-color="#176ffb"/><stop offset="0.8095" stop-color="#1274fb"/><stop offset="0.8542" stop-color="#0a7dfa"/><stop offset="0.9107" stop-color="#0c8ef3"/><stop offset="0.9345" stop-color="#0d9aea"/><stop offset="0.9643" stop-color="#06abdc"/><stop offset="0.997" stop-color="#08b9c0"/></linearGradient><linearGradient id="g119" x1="0" y1="0" x2="0" y2="1"><stop offset="0.002976" stop-color="#fdea08"/><stop offset="0.1488" stop-color="#fed912"/><stop offset="0.2589" stop-color="#feba29"/><stop offset="0.2917" stop-color="#f1bd19"/><stop offset="0.3095" stop-color="#dac90a"/><stop offset="0.3244" stop-color="#bac813"/><stop offset="0.3363" stop-color="#95cc2c"/><stop offset="0.3482" stop-color="#60ce44"/><stop offset="0.3631" stop-color="#27d365"/><stop offset="0.372" stop-color="#1bcf70"/><stop offset="0.3988" stop-color="#0dc88b"/><stop offset="0.4315" stop-color="#09bfac"/><stop offset="0.5149" stop-color="#05abdb"/><stop offset="0.5595" stop-color="#0d9aea"/><stop offset="0.5923" stop-color="#0c8df3"/><stop offset="0.6399" stop-color="#0a80f9"/><stop offset="0.7054" stop-color="#1175fb"/><stop offset="0.7738" stop-color="#1372fb"/><stop offset="0.8482" stop-color="#0a7dfa"/><stop offset="0.9048" stop-color="#0c8df4"/><stop offset="0.9315" stop-color="#0d9aea"/><stop offset="0.9613" stop-color="#06aadc"/><stop offset="0.997" stop-color="#08b9be"/></linearGradient><linearGradient id="g120" x1="0" y1="0" x2="0" y2="1"><stop offset="0.002976" stop-color="#fdea08"/><stop offset="0.1458" stop-color="#fed912"/><stop offset="0.2589" stop-color="#feba29"/><stop offset="0.2917" stop-color="#f1bd19"/><stop offset="0.3065" stop-color="#dfc80b"/><stop offset="0.3244" stop-color="#bac814"/><stop offset="0.3363" stop-color="#95cc2c"/><stop offset="0.3482" stop-color="#61ce43"/><stop offset="0.3631" stop-color="#28d364"/><stop offset="0.375" stop-color="#19cf72"/><stop offset="0.3988" stop-color="#0dc88a"/><stop offset="0.4315" stop-color="#09bfab"/><stop offset="0.5179" stop-color="#05abdb"/><stop offset="0.5625" stop-color="#0d9aea"/><stop offset="0.5982" stop-color="#0c8df4"/><stop offset="0.6429" stop-color="#0a81f9"/><stop offset="0.7113" stop-color="#1076fb"/><stop offset="0.7738" stop-color="#1174fb"/><stop offset="0.8393" stop-color="#0a7dfa"/><stop offset="0.9018" stop-color="#0c8df4"/><stop offset="0.9286" stop-color="#0d9aeb"/><stop offset="0.9613" stop-color="#05abdb"/><stop offset="0.997" stop-color="#08babc"/></linearGradient><linearGradient id="g121" x1="0" y1="0" x2="0" y2="1"><stop offset="0.002976" stop-color="#fde908"/><stop offset="0.1458" stop-color="#fed912"/><stop offset="0.2589" stop-color="#feba29"/><stop offset="0.2917" stop-color="#f1be19"/><stop offset="0.3065" stop-color="#dec80a"/><stop offset="0.3214" stop-color="#c1c811"/><stop offset="0.3363" stop-color="#96cc2c"/><stop offset="0.3482" stop-color="#62ce43"/><stop offset="0.3631" stop-color="#29d363"/><stop offset="0.375" stop-color="#19cf72"/><stop offset="0.4018" stop-color="#0dc88c"/><stop offset="0.4345" stop-color="#09bfac"/><stop offset="0.5179" stop-color="#05acda"/><stop offset="0.5685" stop-color="#0d99eb"/><stop offset="0.6042" stop-color="#0c8df4"/><stop offset="0.6488" stop-color="#0a82f9"/><stop offset="0.7143" stop-color="#0e78fb"/><stop offset="0.7738" stop-color="#1076fb"/><stop offset="0.8304" stop-color="#0a7dfa"/><stop offset="0.8988" stop-color="#0c8df3"/><stop offset="0.9256" stop-color="#0d99eb"/><stop offset="0.9583" stop-color="#06abdc"/><stop offset="0.997" stop-color="#08babb"/></linearGradient><linearGradient id="g122" x1="0" y1="0" x2="0" y2="1"><stop offset="0.002976" stop-color="#fde908"/><stop offset="0.1458" stop-color="#fed913"/><stop offset="0.256" stop-color="#febb29"/><stop offset="0.2917" stop-color="#f1be18"/><stop offset="0.3065" stop-color="#ddc90a"/><stop offset="0.3214" stop-color="#c0c811"/><stop offset="0.3363" stop-color="#96cc2c"/><stop offset="0.3542" stop-color="#4dd04f"/><stop offset="0.3631" stop-color="#2cd362"/><stop offset="0.3661" stop-color="#25d366"/><stop offset="0.375" stop-color="#1acf71"/><stop offset="0.4018" stop-color="#0dc88b"/><stop offset="0.4345" stop-color="#09bfab"/><stop offset="0.5208" stop-color="#05abdb"/><stop offset="0.5714" stop-color="#0d99eb"/><stop offset="0.6488" stop-color="#0a83f8"/><stop offset="0.7143" stop-color="#0d7afb"/><stop offset="0.7708" stop-color="#0e78fb"/><stop offset="0.8363" stop-color="#0a80f9"/><stop offset="0.8929" stop-color="#0c8df4"/><stop offset="0.9226" stop-color="#0d99eb"/><stop offset="0.9583" stop-color="#05abdb"/><stop offset="0.997" stop-color="#09baba"/></linearGradient><linearGradient id="g123" x1="0" y1="0" x2="0" y2="1"><stop offset="0.002976" stop-color="#fde908"/><stop offset="0.1458" stop-color="#fed813"/><stop offset="0.256" stop-color="#feba29"/><stop offset="0.2887" stop-color="#f2bd1a"/><stop offset="0.3065" stop-color="#dcc90a"/><stop offset="0.3214" stop-color="#c0c811"/><stop offset="0.3363" stop-color="#96cc2c"/><stop offset="0.3512" stop-color="#5ace47"/><stop offset="0.3661" stop-color="#26d366"/><stop offset="0.375" stop-color="#1acf70"/><stop offset="0.4018" stop-color="#0dc88a"/><stop offset="0.4345" stop-color="#09bfab"/><stop offset="0.5238" stop-color="#05abdb"/><stop offset="0.5744" stop-color="#0d9aeb"/><stop offset="0.6131" stop-color="#0c8df4"/><stop offset="0.6548" stop-color="#0a84f8"/><stop offset="0.7173" stop-color="#0b7bfa"/><stop offset="0.7708" stop-color="#0c7afb"/><stop offset="0.8304" stop-color="#0a81f9"/><stop offset="0.8869" stop-color="#0c8df4"/><stop offset="0.9196" stop-color="#0d99eb"/><stop offset="0.9554" stop-color="#05abdb"/><stop offset="0.997" stop-color="#09bbb9"/></linearGradient><linearGradient id="g124" x1="0" y1="0" x2="0" y2="1"><stop offset="0.002976" stop-color="#fde909"/><stop offset="0.1458" stop-color="#fed813"/><stop offset="0.256" stop-color="#feba29"/><stop offset="0.2887" stop-color="#f1bd19"/><stop offset="0.3065" stop-color="#dbc90a"/><stop offset="0.3214" stop-color="#bfc811"/><stop offset="0.3363" stop-color="#97cc2c"/><stop offset="0.3482" stop-color="#67cd40"/><stop offset="0.3661" stop-color="#27d365"/><stop offset="0.378" stop-color="#19cf72"/><stop offset="0.4048" stop-color="#0dc88c"/><stop offset="0.4375" stop-color="#09bfac"/><stop offset="0.5238" stop-color="#05acda"/><stop offset="0.5774" stop-color="#0d9aea"/><stop offset="0.619" stop-color="#0c8df4"/><stop offset="0.6607" stop-color="#0a84f8"/><stop offset="0.7232" stop-color="#0a7dfa"/><stop offset="0.7708" stop-color="#0b7cfa"/><stop offset="0.8244" stop-color="#0a81f9"/><stop offset="0.881" stop-color="#0c8df4"/><stop offset="0.9167" stop-color="#0d9aea"/><stop offset="0.9524" stop-color="#06aadc"/><stop offset="0.997" stop-color="#09bbb8"/></linearGradient><linearGradient id="g125" x1="0" y1="0" x2="0" y2="1"><stop offset="0.002976" stop-color="#fde809"/><stop offset="0.1429" stop-color="#fed813"/><stop offset="0.253" stop-color="#febb29"/><stop offset="0.2887" stop-color="#f1be19"/><stop offset="0.3036" stop-color="#dfc80b"/><stop offset="0.3214" stop-color="#bfc811"/><stop offset="0.3363" stop-color="#97cc2c"/><stop offset="0.3482" stop-color="#68cd40"/><stop offset="0.3661" stop-color="#29d364"/><stop offset="0.378" stop-color="#19cf71"/><stop offset="0.4048" stop-color="#0dc88b"/><stop offset="0.4375" stop-color="#09bfab"/><stop offset="0.5268" stop-color="#05acdb"/><stop offset="0.5833" stop-color="#0d99eb"/><stop offset="0.6637" stop-color="#0b85f7"/><stop offset="0.7173" stop-color="#0a7ffa"/><stop offset="0.7738" stop-color="#0a7efa"/><stop offset="0.8244" stop-color="#0a83f8"/><stop offset="0.875" stop-color="#0c8df4"/><stop offset="0.9137" stop-color="#0d9aea"/><stop offset="0.9524" stop-color="#05abdb"/><stop offset="0.997" stop-color="#09bbb7"/></linearGradient><linearGradient id="g126" x1="0" y1="0" x2="0" y2="1"><stop offset="0.002976" stop-color="#fde809"/><stop offset="0.1429" stop-color="#fed714"/><stop offset="0.253" stop-color="#feba29"/><stop offset="0.2887" stop-color="#f1be18"/><stop offset="0.3036" stop-color="#dec80a"/><stop offset="0.3214" stop-color="#bec811"/><stop offset="0.3363" stop-color="#97cc2b"/><stop offset="0.3661" stop-color="#2bd363"/><stop offset="0.378" stop-color="#1acf71"/><stop offset="0.4048" stop-color="#0dc88a"/><stop offset="0.4405" stop-color="#09bfac"/><stop offset="0.5298" stop-color="#05abdb"/><stop offset="0.5863" stop-color="#0d99eb"/><stop offset="0.6607" stop-color="#0b87f6"/><stop offset="0.7143" stop-color="#0a81f9"/><stop offset="0.7708" stop-color="#0a7ff9"/><stop offset="0.8185" stop-color="#0a83f8"/><stop offset="0.869" stop-color="#0c8df4"/><stop offset="0.9077" stop-color="#0d99eb"/><stop offset="0.9494" stop-color="#05abdb"/><stop offset="0.997" stop-color="#09bcb6"/></linearGradient><linearGradient id="g127" x1="0" y1="0" x2="0" y2="1"><stop offset="0.002976" stop-color="#fde809"/><stop offset="0.1429" stop-color="#fed714"/><stop offset="0.253" stop-color="#feba29"/><stop offset="0.2887" stop-color="#f0be18"/><stop offset="0.3036" stop-color="#dec80a"/><stop offset="0.3214" stop-color="#bec811"/><stop offset="0.3363" stop-color="#98cc2b"/><stop offset="0.3512" stop-color="#60ce44"/><stop offset="0.3661" stop-color="#2dd361"/><stop offset="0.369" stop-color="#26d366"/><stop offset="0.378" stop-color="#1acf70"/><stop offset="0.4077" stop-color="#0dc88c"/><stop offset="0.4405" stop-color="#09bfab"/><stop offset="0.5327" stop-color="#05abdb"/><stop offset="0.5893" stop-color="#0d9aeb"/><stop offset="0.6667" stop-color="#0b87f6"/><stop offset="0.7738" stop-color="#0a81f9"/><stop offset="0.869" stop-color="#0c8ff2"/><stop offset="0.9048" stop-color="#0d9aea"/><stop offset="0.9464" stop-color="#06aadc"/><stop offset="0.997" stop-color="#09bcb5"/></linearGradient><linearGradient id="g128" x1="0" y1="0" x2="0" y2="1"><stop offset="0.002976" stop-color="#fde709"/><stop offset="0.1429" stop-color="#fed614"/><stop offset="0.25" stop-color="#febb29"/><stop offset="0.2857" stop-color="#f1bd19"/><stop offset="0.3036" stop-color="#dec90a"/><stop offset="0.3214" stop-color="#bec811"/><stop offset="0.3363" stop-color="#99cc2b"/><stop offset="0.3512" stop-color="#62ce43"/><stop offset="0.369" stop-color="#27d365"/><stop offset="0.381" stop-color="#19cf72"/><stop offset="0.4077" stop-color="#0dc88b"/><stop offset="0.4435" stop-color="#09bfac"/><stop offset="0.5327" stop-color="#05acda"/><stop offset="0.5923" stop-color="#0d9aea"/><stop offset="0.6637" stop-color="#0b89f5"/><stop offset="0.7738" stop-color="#0a83f8"/><stop offset="0.8244" stop-color="#0b87f6"/><stop offset="0.872" stop-color="#0c91f1"/><stop offset="0.9018" stop-color="#0d9aea"/><stop offset="0.9464" stop-color="#05acdb"/><stop offset="0.997" stop-color="#09bcb4"/></linearGradient><linearGradient id="g129" x1="0" y1="0" x2="0" y2="1"><stop offset="0.002976" stop-color="#fde70a"/><stop offset="0.1429" stop-color="#fed615"/><stop offset="0.25" stop-color="#feba29"/><stop offset="0.2857" stop-color="#f1bd19"/><stop offset="0.3036" stop-color="#ddc90a"/><stop offset="0.3214" stop-color="#bec811"/><stop offset="0.3363" stop-color="#9acc2a"/><stop offset="0.3512" stop-color="#63cd42"/><stop offset="0.369" stop-color="#28d364"/><stop offset="0.381" stop-color="#1acf71"/><stop offset="0.4077" stop-color="#0dc88a"/><stop offset="0.4435" stop-color="#09bfab"/><stop offset="0.5357" stop-color="#05acda"/><stop offset="0.5982" stop-color="#0d99eb"/><stop offset="0.6637" stop-color="#0b8af5"/><stop offset="0.7768" stop-color="#0a84f8"/><stop offset="0.8274" stop-color="#0b89f5"/><stop offset="0.875" stop-color="#0c93ef"/><stop offset="0.8958" stop-color="#0d9aeb"/><stop offset="0.9435" stop-color="#05abdb"/><stop offset="0.997" stop-color="#09bdb2"/></linearGradient><linearGradient id="g130" x1="0" y1="0" x2="0" y2="1"><stop offset="0.002976" stop-color="#fde70a"/><stop offset="0.1429" stop-color="#fed515"/><stop offset="0.25" stop-color="#feba29"/><stop offset="0.2857" stop-color="#f1be19"/><stop offset="0.3036" stop-color="#ddc90a"/><stop offset="0.3214" stop-color="#bfc811"/><stop offset="0.3363" stop-color="#9bcc29"/><stop offset="0.3512" stop-color="#65cd41"/><stop offset="0.369" stop-color="#2ad363"/><stop offset="0.381" stop-color="#1acf70"/><stop offset="0.4107" stop-color="#0dc88b"/><stop offset="0.4435" stop-color="#09bfaa"/><stop offset="0.5387" stop-color="#05acda"/><stop offset="0.6012" stop-color="#0d9aea"/><stop offset="0.6667" stop-color="#0c8bf4"/><stop offset="0.7292" stop-color="#0b86f7"/><stop offset="0.7857" stop-color="#0b86f7"/><stop offset="0.8423" stop-color="#0c8df4"/><stop offset="0.8839" stop-color="#0d97ec"/><stop offset="0.9405" stop-color="#05abdb"/><stop offset="0.997" stop-color="#09bdb1"/></linearGradient><linearGradient id="g131" x1="0" y1="0" x2="0" y2="1"><stop offset="0.002976" stop-color="#fde60a"/><stop offset="0.1429" stop-color="#fed515"/><stop offset="0.25" stop-color="#feba29"/><stop offset="0.2857" stop-color="#f1be19"/><stop offset="0.3036" stop-color="#ddc90a"/><stop offset="0.3214" stop-color="#bfc811"/><stop offset="0.3363" stop-color="#9ccc29"/><stop offset="0.3542" stop-color="#5ece45"/><stop offset="0.372" stop-color="#27d365"/><stop offset="0.3839" stop-color="#19cf72"/><stop offset="0.4107" stop-color="#0dc88a"/><stop offset="0.4464" stop-color="#09bfab"/><stop offset="0.5417" stop-color="#05acda"/><stop offset="0.6071" stop-color="#0d9aeb"/><stop offset="0.6637" stop-color="#0c8df4"/><stop offset="0.7292" stop-color="#0b88f6"/><stop offset="0.7857" stop-color="#0b88f6"/><stop offset="0.8333" stop-color="#0c8df4"/><stop offset="0.8839" stop-color="#0d99eb"/><stop offset="0.9375" stop-color="#05abdb"/><stop offset="0.997" stop-color="#09beb0"/></linearGradient><linearGradient id="g132" x1="0" y1="0" x2="0" y2="1"><stop offset="0.002976" stop-color="#fde60a"/><stop offset="0.1399" stop-color="#fed515"/><stop offset="0.247" stop-color="#feba29"/><stop offset="0.2857" stop-color="#f1be19"/><stop offset="0.3036" stop-color="#ddc90a"/><stop offset="0.3214" stop-color="#bfc811"/><stop offset="0.3393" stop-color="#94cc2d"/><stop offset="0.3542" stop-color="#60ce44"/><stop offset="0.372" stop-color="#28d364"/><stop offset="0.3839" stop-color="#1acf71"/><stop offset="0.4137" stop-color="#0dc88c"/><stop offset="0.4494" stop-color="#09bfac"/><stop offset="0.5446" stop-color="#05acda"/><stop offset="0.6131" stop-color="#0d99eb"/><stop offset="0.6726" stop-color="#0c8df4"/><stop offset="0.7887" stop-color="#0b89f5"/><stop offset="0.8304" stop-color="#0c8ef3"/><stop offset="0.881" stop-color="#0d99eb"/><stop offset="0.9375" stop-color="#05acda"/><stop offset="0.997" stop-color="#09beae"/></linearGradient><linearGradient id="g133" x1="0" y1="0" x2="0" y2="1"><stop offset="0.002976" stop-color="#fde50b"/><stop offset="0.1399" stop-color="#fed416"/><stop offset="0.247" stop-color="#feba29"/><stop offset="0.2857" stop-color="#f1be18"/><stop offset="0.3036" stop-color="#ddc90a"/><stop offset="0.3214" stop-color="#c0c811"/><stop offset="0.3393" stop-color="#96cc2c"/><stop offset="0.372" stop-color="#2bd363"/><stop offset="0.3839" stop-color="#1bd06f"/><stop offset="0.4137" stop-color="#0dc88a"/><stop offset="0.4494" stop-color="#09bfab"/><stop offset="0.5476" stop-color="#05acda"/><stop offset="0.6161" stop-color="#0d9aea"/><stop offset="0.6875" stop-color="#0c8df3"/><stop offset="0.8006" stop-color="#0c8cf4"/><stop offset="0.8929" stop-color="#0c9ee7"/><stop offset="0.9345" stop-color="#05acda"/><stop offset="0.997" stop-color="#09bfac"/></linearGradient>
<linearGradient id="cb" x1="0" y1="0" x2="0" y2="1"><stop offset="0" stop-color="#faf808"/><stop offset="0.01562" stop-color="#fbf408"/><stop offset="0.03125" stop-color="#fcef08"/><stop offset="0.04688" stop-color="#fdeb07"/><stop offset="0.0625" stop-color="#fde50b"/><stop offset="0.07812" stop-color="#fdde10"/><stop offset="0.09375" stop-color="#fed714"/><stop offset="0.1094" stop-color="#fed019"/><stop offset="0.125" stop-color="#ffc81e"/><stop offset="0.1406" stop-color="#ffc323"/><stop offset="0.1562" stop-color="#ffbe26"/><stop offset="0.1719" stop-color="#feba29"/><stop offset="0.1875" stop-color="#fabb23"/><stop offset="0.2031" stop-color="#f5bc1d"/><stop offset="0.2188" stop-color="#f0be18"/><stop offset="0.2344" stop-color="#e3c50e"/><stop offset="0.25" stop-color="#d4c90c"/><stop offset="0.2656" stop-color="#c3c810"/><stop offset="0.2812" stop-color="#aeca1c"/><stop offset="0.2969" stop-color="#95cc2c"/><stop offset="0.3125" stop-color="#73cd3b"/><stop offset="0.3281" stop-color="#53cf4c"/><stop offset="0.3438" stop-color="#33d25e"/><stop offset="0.3594" stop-color="#20d16b"/><stop offset="0.375" stop-color="#18ce75"/><stop offset="0.3906" stop-color="#13cc7e"/><stop offset="0.4062" stop-color="#0ec988"/><stop offset="0.4219" stop-color="#0cc692"/><stop offset="0.4375" stop-color="#0ac39d"/><stop offset="0.4531" stop-color="#09c0a8"/><stop offset="0.4688" stop-color="#09beb0"/><stop offset="0.4844" stop-color="#09bcb7"/><stop offset="0.5" stop-color="#08b9bd"/><stop offset="0.5156" stop-color="#08b7c4"/><stop offset="0.5312" stop-color="#05b4cb"/><stop offset="0.5469" stop-color="#05b1d1"/><stop offset="0.5625" stop-color="#05add7"/><stop offset="0.5781" stop-color="#06aadd"/><stop offset="0.5938" stop-color="#08a5e1"/><stop offset="0.6094" stop-color="#0aa1e4"/><stop offset="0.625" stop-color="#0c9de8"/><stop offset="0.6406" stop-color="#0d98eb"/><stop offset="0.6562" stop-color="#0d94ef"/><stop offset="0.6719" stop-color="#0c8ff2"/><stop offset="0.6875" stop-color="#0b8bf5"/><stop offset="0.7031" stop-color="#0b87f6"/><stop offset="0.7188" stop-color="#0a83f8"/><stop offset="0.7344" stop-color="#0a7ffa"/><stop offset="0.75" stop-color="#0d7afb"/><stop offset="0.7656" stop-color="#1174fb"/><stop offset="0.7812" stop-color="#1a6efc"/><stop offset="0.7969" stop-color="#2a66fe"/><stop offset="0.8125" stop-color="#3260fd"/><stop offset="0.8281" stop-color="#3a5bfa"/><stop offset="0.8438" stop-color="#3e55f8"/><stop offset="0.8594" stop-color="#414ef5"/><stop offset="0.875" stop-color="#4446f0"/><stop offset="0.8906" stop-color="#4340ec"/><stop offset="0.9062" stop-color="#433be5"/><stop offset="0.9219" stop-color="#4336de"/><stop offset="0.9375" stop-color="#4332d6"/><stop offset="0.9531" stop-color="#422ece"/><stop offset="0.9688" stop-color="#412bc5"/><stop offset="0.9844" stop-color="#3f28bc"/><stop offset="1" stop-color="#3d24b3"/></linearGradient>
<clipPath id="pc"><rect x="80.7" y="26.4" width="401.3" height="335.6"/></clipPath>
</defs>
<rect width="550" height="416" fill="#fff"/>
<g shape-rendering="crispEdges"><rect x="80" y="26" width="4" height="336" fill="url(#g0)"/><rect x="83" y="26" width="4" height="336" fill="url(#g1)"/><rect x="86" y="26" width="4" height="336" fill="url(#g2)"/><rect x="89" y="26" width="4" height="336" fill="url(#g3)"/><rect x="92" y="26" width="4" height="336" fill="url(#g4)"/><rect x="95" y="26" width="4" height="336" fill="url(#g5)"/><rect x="98" y="26" width="4" height="336" fill="url(#g6)"/><rect x="101" y="26" width="4" height="336" fill="url(#g7)"/><rect x="104" y="26" width="4" height="336" fill="url(#g8)"/><rect x="107" y="26" width="4" height="336" fill="url(#g9)"/><rect x="110" y="26" width="4" height="336" fill="url(#g10)"/><rect x="113" y="26" width="4" height="336" fill="url(#g11)"/><rect x="116" y="26" width="4" height="336" fill="url(#g12)"/><rect x="119" y="26" width="4" height="336" fill="url(#g13)"/><rect x="122" y="26" width="4" height="336" fill="url(#g14)"/><rect x="125" y="26" width="4" height="336" fill="url(#g15)"/><rect x="128" y="26" width="4" height="336" fill="url(#g16)"/><rect x="131" y="26" width="4" height="336" fill="url(#g17)"/><rect x="134" y="26" width="4" height="336" fill="url(#g18)"/><rect x="137" y="26" width="4" height="336" fill="url(#g19)"/><rect x="140" y="26" width="4" height="336" fill="url(#g20)"/><rect x="143" y="26" width="4" height="336" fill="url(#g21)"/><rect x="146" y="26" width="4" height="336" fill="url(#g22)"/><rect x="149" y="26" width="4" height="336" fill="url(#g23)"/><rect x="152" y="26" width="4" height="336" fill="url(#g24)"/><rect x="155" y="26" width="4" height="336" fill="url(#g25)"/><rect x="158" y="26" width="4" height="336" fill="url(#g26)"/><rect x="161" y="26" width="4" height="336" fill="url(#g27)"/><rect x="164" y="26" width="4" height="336" fill="url(#g28)"/><rect x="167" y="26" width="4" height="336" fill="url(#g29)"/><rect x="170" y="26" width="4" height="336" fill="url(#g30)"/><rect x="173" y="26" width="4" height="336" fill="url(#g31)"/><rect x="176" y="26" width="4" height="336" fill="url(#g32)"/><rect x="179" y="26" width="4" height="336" fill="url(#g33)"/><rect x="182" y="26" width="4" height="336" fill="url(#g34)"/><rect x="185" y="26" width="4" height="336" fill="url(#g35)"/><rect x="188" y="26" width="4" height="336" fill="url(#g36)"/><rect x="191" y="26" width="4" height="336" fill="url(#g37)"/><rect x="194" y="26" width="4" height="336" fill="url(#g38)"/><rect x="197" y="26" width="4" height="336" fill="url(#g39)"/><rect x="200" y="26" width="4" height="336" fill="url(#g40)"/><rect x="203" y="26" width="4" height="336" fill="url(#g41)"/><rect x="206" y="26" width="4" height="336" fill="url(#g42)"/><rect x="209" y="26" width="4" height="336" fill="url(#g43)"/><rect x="212" y="26" width="4" height="336" fill="url(#g44)"/><rect x="215" y="26" width="4" height="336" fill="url(#g45)"/><rect x="218" y="26" width="4" height="336" fill="url(#g46)"/><rect x="221" y="26" width="4" height="336" fill="url(#g47)"/><rect x="224" y="26" width="4" height="336" fill="url(#g48)"/><rect x="227" y="26" width="4" height="336" fill="url(#g49)"/><rect x="230" y="26" width="4" height="336" fill="url(#g50)"/><rect x="233" y="26" width="4" height="336" fill="url(#g51)"/><rect x="236" y="26" width="4" height="336" fill="url(#g52)"/><rect x="239" y="26" width="4" height="336" fill="url(#g53)"/><rect x="242" y="26" width="4" height="336" fill="url(#g54)"/><rect x="245" y="26" width="4" height="336" fill="url(#g55)"/><rect x="248" y="26" width="4" height="336" fill="url(#g56)"/><rect x="251" y="26" width="4" height="336" fill="url(#g57)"/><rect x="254" y="26" width="4" height="336" fill="url(#g58)"/><rect x="257" y="26" width="4" height="336" fill="url(#g59)"/><rect x="260" y="26" width="4" height="336" fill="url(#g60)"/><rect x="263" y="26" width="4" height="336" fill="url(#g61)"/><rect x="266" y="26" width="4" height="336" fill="url(#g62)"/><rect x="269" y="26" width="4" height="336" fill="url(#g63)"/><rect x="272" y="26" width="4" height="336" fill="url(#g64)"/><rect x="275" y="26" width="4" height="336" fill="url(#g65)"/><rect x="278" y="26" width="4" height="336" fill="url(#g66)"/><rect x="281" y="26" width="4" height="336" fill="url(#g67)"/><rect x="284" y="26" width="4" height="336" fill="url(#g68)"/><rect x="287" y="26" width="4" height="336" fill="url(#g69)"/><rect x="290" y="26" width="4" height="336" fill="url(#g70)"/><rect x="293" y="26" width="4" height="336" fill="url(#g71)"/><rect x="296" y="26" width="4" height="336" fill="url(#g72)"/><rect x="299" y="26" width="4" height="336" fill="url(#g73)"/><rect x="302" y="26" width="4" height="336" fill="url(#g74)"/><rect x="305" y="26" width="4" height="336" fill="url(#g75)"/><rect x="308" y="26" width="4" height="336" fill="url(#g76)"/><rect x="311" y="26" width="4" height="336" fill="url(#g77)"/><rect x="314" y="26" width="4" height="336" fill="url(#g78)"/><rect x="317" y="26" width="4" height="336" fill="url(#g79)"/><rect x="320" y="26" width="4" height="336" fill="url(#g80)"/><rect x="323" y="26" width="4" height="336" fill="url(#g81)"/><rect x="326" y="26" width="4" height="336" fill="url(#g82)"/><rect x="329" y="26" width="4" height="336" fill="url(#g83)"/><rect x="332" y="26" width="4" height="336" fill="url(#g84)"/><rect x="335" y="26" width="4" height="336" fill="url(#g85)"/><rect x="338" y="26" width="4" height="336" fill="url(#g86)"/><rect x="341" y="26" width="4" height="336" fill="url(#g87)"/><rect x="344" y="26" width="4" height="336" fill="url(#g88)"/><rect x="347" y="26" width="4" height="336" fill="url(#g89)"/><rect x="350" y="26" width="4" height="336" fill="url(#g90)"/><rect x="353" y="26" width="4" height="336" fill="url(#g91)"/><rect x="356" y="26" width="4" height="336" fill="url(#g92)"/><rect x="359" y="26" width="4" height="336" fill="url(#g93)"/><rect x="362" y="26" width="4" height="336" fill="url(#g94)"/><rect x="365" y="26" width="4" height="336" fill="url(#g95)"/><rect x="368" y="26" width="4" height="336" fill="url(#g96)"/><rect x="371" y="26" width="4" height="336" fill="url(#g97)"/><rect x="374" y="26" width="4" height="336" fill="url(#g98)"/><rect x="377" y="26" width="4" height="336" fill="url(#g99)"/><rect x="380" y="26" width="4" height="336" fill="url(#g100)"/><rect x="383" y="26" width="4" height="336" fill="url(#g101)"/><rect x="386" y="26" width="4" height="336" fill="url(#g102)"/><rect x="389" y="26" width="4" height="336" fill="url(#g103)"/><rect x="392" y="26" width="4" height="336" fill="url(#g104)"/><rect x="395" y="26" width="4" height="336" fill="url(#g105)"/><rect x="398" y="26" width="4" height="336" fill="url(#g106)"/><rect x="401" y="26" width="4" height="336" fill="url(#g107)"/><rect x="404" y="26" width="4" height="336" fill="url(#g108)"/><rect x="407" y="26" width="4" height="336" fill="url(#g109)"/><rect x="410" y="26" width="4" height="336" fill="url(#g110)"/><rect x="413" y="26" width="4" height="336" fill="url(#g111)"/><rect x="416" y="26" width="4" height="336" fill="url(#g112)"/><rect x="419" y="26" width="4" height="336" fill="url(#g113)"/><rect x="422" y="26" width="4" height="336" fill="url(#g114)"/><rect x="425" y="26" width="4" height="336" fill="url(#g115)"/><rect x="428" y="26" width="4" height="336" fill="url(#g116)"/><rect x="431" y="26" width="4" height="336" fill="url(#g117)"/><rect x="434" y="26" width="4" height="336" fill="url(#g118)"/><rect x="437" y="26" width="4" height="336" fill="url(#g119)"/><rect x="440" y="26" width="4" height="336" fill="url(#g120)"/><rect x="443" y="26" width="4" height="336" fill="url(#g121)"/><rect x="446" y="26" width="4" height="336" fill="url(#g122)"/><rect x="449" y="26" width="4" height="336" fill="url(#g123)"/><rect x="452" y="26" width="4" height="336" fill="url(#g124)"/><rect x="455" y="26" width="4" height="336" fill="url(#g125)"/><rect x="458" y="26" width="4" height="336" fill="url(#g126)"/><rect x="461" y="26" width="4" height="336" fill="url(#g127)"/><rect x="464" y="26" width="4" height="336" fill="url(#g128)"/><rect x="467" y="26" width="4" height="336" fill="url(#g129)"/><rect x="470" y="26" width="4" height="336" fill="url(#g130)"/><rect x="473" y="26" width="4" height="336" fill="url(#g131)"/><rect x="476" y="26" width="4" height="336" fill="url(#g132)"/><rect x="479" y="26" width="3" height="336" fill="url(#g133)"/></g>
<rect x="78" y="20" width="2.7" height="350" fill="#fff"/><rect x="78" y="20" width="410" height="6.7" fill="#fff"/>
<g clip-path="url(#pc)">
<path d="M172.6,305.0 174.4,304.3 174.5,304.3 176.1,304.5 177.5,305.2 179.2,304.9 181.3,304.2 183.4,302.9 185.7,301.3 186.0,301.4 186.5,302.2 189.1,302.3 190.4,303.1 191.9,303.4 194.1,302.5 194.9,301.9 196.1,302.1 198.1,303.5 199.9,303.3 202.3,302.8 203.5,303.1 204.7,302.5 205.8,303.6 206.8,304.2 208.2,303.4 209.8,303.2 211.3,302.6 212.1,302.2 214.0,302.7 216.1,302.0 217.0,301.3 218.0,301.0 220.0,300.4 221.8,299.5 222.7,298.4 224.2,299.9 225.9,301.1 228.2,300.7 230.4,300.5 230.6,301.2 231.2,301.0 233.2,301.5 235.8,301.6 237.1,300.8 238.4,300.3 240.1,300.5 241.3,300.9 243.1,300.2 245.0,299.7 246.5,299.0 247.7,299.1 249.0,299.0 250.4,299.8 251.8,300.4 253.1,300.1 254.5,299.2 256.1,298.6 257.9,299.2 259.4,298.5 260.6,297.5 262.3,297.6 263.7,297.1 265.6,296.8 266.9,297.0 267.8,296.6 269.7,296.3 271.5,296.6 273.1,296.1 274.6,296.0 276.0,296.1 277.7,295.7 279.1,295.7 280.7,295.6 282.0,295.6 283.2,295.3 284.6,295.2 286.4,295.0 288.0,295.2 289.2,295.3 290.7,294.8 292.3,294.6 293.9,294.8 295.4,294.5 296.9,294.1 298.4,294.1 299.8,294.0 301.4,293.9 303.0,293.8 304.7,293.8 306.4,293.9 307.9,293.7 308.9,293.3 310.1,293.1 311.7,293.1 313.3,292.9 314.6,292.6 316.1,292.7 318.0,292.8 319.3,292.8 320.6,292.6 322.2,292.4 323.7,292.5 325.4,292.7 327.2,292.7 328.6,292.5 329.9,292.5 331.5,292.5 333.1,292.3 334.7,292.4 336.1,292.5 337.4,292.5 338.8,292.2 340.3,292.2 342.0,292.4 343.6,292.0 344.9,291.6 346.3,291.4 347.8,291.1 349.3,290.6 350.6,290.4 352.2,290.2 354.0,289.8 355.4,289.4 356.5,288.7 357.8,288.2 359.1,287.7 360.6,287.0 362.2,286.1 363.4,285.4 364.6,284.4 365.8,283.7 366.9,283.0 367.8,281.7 368.7,280.7 369.8,279.3 370.5,277.9 371.1,276.8 371.7,275.6 372.2,273.7 372.7,271.8 372.8,270.4 372.7,269.4 372.7,267.9 372.5,266.3 372.2,265.0 371.4,263.5 370.8,262.0 370.4,260.8 369.7,259.5 369.1,258.1 368.4,256.7 367.5,255.5 366.5,254.3 365.6,253.3 364.5,252.6 363.1,251.4 362.1,249.9 360.8,249.1 359.7,248.5 358.6,247.8 357.3,247.1 355.9,246.2 354.3,245.3 353.0,244.8 351.7,244.1 350.3,243.5 348.9,243.0 347.5,242.4 346.3,241.9 344.8,241.4 343.3,240.9 341.9,240.2 340.2,239.7 338.8,239.5 337.3,239.1 335.9,238.9 334.7,238.6 333.2,238.1 331.6,237.8 330.3,237.6 328.8,237.5 327.1,237.2 325.6,237.1 323.9,237.0 322.5,236.7 321.0,236.4 319.5,236.3 318.2,236.4 316.7,236.1 315.2,236.0 313.5,236.3 312.1,236.1 310.6,235.9 309.0,236.0 307.6,236.0 306.1,235.6 304.6,235.4 303.0,235.4 301.5,235.3 299.8,235.1 298.3,235.1 296.9,235.3 295.5,235.2 294.3,235.2 292.5,235.2 290.8,235.2 289.5,235.0 287.9,235.0 286.5,235.3 285.0,235.1 283.3,235.1 281.8,235.2 280.5,234.9 279.0,235.0 277.4,235.0 275.9,234.9 274.6,234.9 272.9,234.8 271.3,234.7 269.9,234.5 268.4,234.8 267.1,234.8 265.7,234.7 263.8,234.6 262.2,234.7 260.8,234.6 259.7,234.4 258.1,234.6 256.4,234.6 255.0,234.6 253.5,234.7 252.1,234.8 250.6,234.9 248.9,235.1 247.5,235.3 246.0,235.3 244.3,235.2 242.9,235.1 241.5,235.0 239.8,235.1 238.3,235.1 236.7,235.1 235.3,235.6 234.0,235.9 232.5,236.1 231.1,235.9 229.6,236.0 227.9,236.2 226.5,236.5 225.0,236.8 223.5,237.1 222.0,237.7 220.7,238.0 219.1,238.3 217.5,238.5 216.1,238.6 214.9,239.2 213.3,239.8 211.7,240.0 210.2,240.3 208.9,240.6 207.3,241.0 205.8,241.8 204.7,242.2 203.1,242.5 201.7,242.8 200.4,243.4 198.8,244.1 197.3,244.6 195.8,245.0 194.3,245.3 193.2,245.9 191.7,246.5 190.3,246.8 189.0,247.3 187.4,247.6 186.0,247.9 184.2,248.6 182.7,249.1 181.5,249.7 180.0,250.2 178.4,250.2 177.1,250.6 175.8,251.2 174.1,251.7 172.6,251.9 171.5,252.1 170.0,252.7 168.6,253.3 167.4,253.6 165.8,253.8 164.1,254.5 162.5,254.8 161.2,255.0 160.0,256.0 158.6,256.5 157.1,256.8 155.6,257.2 154.2,257.8 152.8,258.3 151.3,258.7 149.8,259.4 148.2,259.7 146.9,260.4 145.6,260.9 144.2,261.4 143.0,262.2 141.8,262.9 140.7,263.8 139.6,264.8M113.1,282.4 111.9,283.5 110.8,284.3 109.7,285.1 108.4,285.9 106.9,286.8 105.8,287.6 104.7,288.4 103.5,289.4 102.4,290.8 101.4,291.9 100.3,292.6 99.4,294.0 98.5,295.7 97.9,296.9 98.5,298.2 98.3,299.4 97.1,301.0 98.0,302.3 100.0,304.3 100.8,305.0 102.0,304.8 103.4,306.0 105.1,304.9 106.9,306.2 108.3,307.2 109.5,305.7 110.3,306.3 112.3,305.8 114.1,305.7 116.1,306.1 118.2,306.5 119.1,306.8 120.8,306.3 122.1,307.6 122.7,308.7 124.0,307.5 125.7,308.2 126.8,308.7 128.7,309.1 131.4,308.4 132.9,307.7 134.6,308.1 136.1,307.5 136.9,308.1 138.7,307.9 140.8,308.4 141.5,307.9M81.3,325.0 81.6,325.7 83.2,327.4 84.9,326.9 86.1,325.8 89.4,325.8 90.8,326.0 90.4,325.7 91.4,325.5 93.4,325.7 96.0,325.5 97.5,326.0 98.6,326.5 100.2,326.5 100.8,326.8 102.0,326.2 104.4,326.1 105.4,326.7 105.8,327.2 107.8,328.0 110.4,327.5 111.1,327.6 111.4,327.5 113.1,326.8 115.3,326.2 117.4,326.9 119.6,328.2 121.6,329.2 122.7,329.2 124.0,329.0 125.4,329.5M155.5,322.6 156.2,321.3 157.5,319.5 159.3,319.4 161.4,318.3 162.8,319.2 164.3,320.6 166.4,319.6 167.8,318.4 169.2,319.2 171.3,320.2 173.0,319.7 173.6,319.3 175.2,319.9 176.0,320.0 177.5,320.8 180.4,322.0 181.6,322.2 182.9,322.0 185.5,321.8 186.9,322.7 187.9,322.4 188.4,321.8 189.1,321.7 190.8,321.9 192.4,323.8 194.9,325.1 195.9,324.8 195.9,323.9 196.0,325.5 198.4,327.6 202.0,326.4 203.5,325.4 204.3,325.3 206.1,325.5 208.2,326.8 209.7,326.9 211.5,325.4 212.3,325.1 212.4,324.8 214.3,324.4 217.0,324.3 218.3,323.9 219.3,324.7 220.7,323.9 221.7,323.1 222.9,322.9 223.8,323.3 225.6,322.9 227.8,322.1 229.3,321.5 230.0,322.6 231.2,322.9 232.4,321.7 233.6,321.6 236.4,320.2 239.8,319.9 240.5,320.7 240.5,320.2 243.1,319.5 244.6,319.7 245.8,320.2 247.6,320.7 248.5,319.5 250.5,318.2 251.9,317.2 252.5,319.2 254.9,319.4 256.9,317.9 257.8,318.5 259.3,317.4 261.6,318.2 263.3,318.6 264.5,317.0 266.5,316.9 268.0,316.6 269.1,316.1 269.8,315.4 271.0,315.7 273.1,317.1 274.9,316.9 275.9,316.1 277.3,316.5 278.8,318.1 279.4,317.2 281.0,315.2 282.8,316.2 285.0,317.2 286.6,316.9 287.7,316.3 290.4,316.5 292.3,317.5 293.8,317.9 295.2,316.4 295.0,316.1 295.5,315.6 297.4,316.1 299.4,316.3 301.4,315.5 302.4,315.9 303.5,315.2 304.2,315.6 306.6,315.6 308.4,316.5 309.8,316.7 312.1,315.5 313.7,315.6 314.0,316.1 315.5,315.3 317.4,314.7 318.7,315.5 321.3,316.2 322.9,316.8 322.9,316.0 323.5,315.2 326.1,314.9 328.0,316.4 328.8,317.1 329.7,317.1 331.4,316.5 333.3,317.0 335.3,318.1 337.1,315.9 338.3,315.7 340.6,317.1 341.2,318.4 342.1,316.3 345.2,314.4 347.2,315.9 347.8,315.6 349.5,314.4 350.9,315.2 351.5,316.0 352.3,316.1 354.3,316.1 355.8,317.2 356.7,318.7 357.3,320.0 359.1,321.6 361.2,322.9 361.2,324.5 362.9,324.2 363.5,323.6 364.2,325.3 366.0,325.8 368.6,324.6 369.7,325.3 369.9,327.2 372.2,328.3 374.2,328.8 376.4,328.1 378.0,327.7 378.9,327.8 380.6,326.8 381.7,325.7 382.9,325.9 384.8,325.8 386.2,325.6 387.3,325.1 388.9,324.5 390.4,323.9 391.6,323.4 392.9,323.1 394.4,322.6 395.9,322.0 397.3,321.3 398.4,320.7 399.7,320.0 401.2,319.1 402.6,318.3 403.8,317.5 405.0,316.8 406.5,316.0 407.7,315.2 408.6,314.1 409.9,313.2 411.1,312.5 412.2,311.5 413.4,310.4 414.4,309.3 415.7,308.3 416.8,307.3 417.6,306.4 418.7,305.3 419.8,304.0 420.8,302.8 421.9,301.5 423.0,300.7 423.8,299.6 424.5,298.2 425.3,297.0 426.3,295.8 427.4,294.6 428.1,293.3 428.7,292.2 429.3,290.7 429.8,289.2 430.4,287.9 431.1,286.4 431.2,284.9 431.4,283.3 431.6,281.8 431.3,280.0 431.3,278.5 431.4,277.1 431.2,275.6 430.9,274.2 430.8,273.0 430.5,271.4 430.0,269.9 429.7,268.6 429.1,267.0 428.3,265.5 427.7,264.2 427.3,262.9 426.9,261.5 426.2,260.0 425.4,258.7 425.1,257.2 424.3,255.9 423.5,254.7 422.9,253.6 422.1,252.2 421.0,250.7 420.0,249.7 419.1,248.6 418.2,247.4 417.2,246.4 416.0,245.3 414.9,244.3 413.7,243.4 412.5,242.3 411.3,241.4 410.3,240.5 409.0,239.8 407.8,239.4 406.5,238.5 405.1,237.8 403.7,237.2 402.5,236.4 401.0,235.9 399.4,235.3 398.1,234.6 396.8,234.0 395.5,233.4 394.1,232.7 392.7,232.0 391.2,231.3 389.7,231.0 388.5,230.7 386.8,229.9 385.5,229.3 384.3,228.9 382.7,228.1 381.4,227.4 380.0,227.2 378.4,226.9 377.0,226.6 375.8,226.0 374.6,225.5 373.1,225.0 371.5,224.3 369.9,223.8 368.7,223.6 367.4,223.0 365.9,222.5 364.1,222.4 362.5,222.1 361.3,221.7 359.9,221.0 358.3,220.5 357.1,220.2 356.0,220.0 354.4,219.6 352.6,219.0 351.1,218.6 349.7,218.5 348.4,218.4 346.9,218.0 345.2,217.7 343.4,217.5 342.0,217.5 340.7,217.1 339.3,216.8 337.8,216.7 336.1,216.6 334.7,216.5 333.1,216.4 331.9,216.1 330.5,216.0 328.8,216.0 327.3,215.7 325.8,215.4 324.1,215.1 322.7,215.0 321.4,214.9 320.0,214.6 318.4,214.5 317.0,214.3 315.4,214.2 313.7,214.2 312.1,214.2 310.6,214.2 309.4,214.1 307.8,214.3 306.4,214.3M274.6,214.5 273.0,214.4 271.6,214.5 270.1,214.4 268.5,214.5 266.9,214.4 265.4,214.2 263.9,214.4 262.4,214.5 261.0,214.5 259.6,214.5 258.1,214.4 256.6,214.5 255.3,214.7 253.7,214.7 251.9,214.8 250.6,215.0 249.1,215.0 247.5,215.1 246.2,214.9 244.7,215.1 243.0,215.2 241.6,215.0 240.2,215.3 238.5,215.3 236.8,215.4 235.4,215.3 233.8,215.4 232.3,215.6 230.8,216.0 229.5,216.1 228.2,216.2 226.6,216.5 225.0,216.7 223.4,216.8 221.8,217.1 220.4,217.2 219.2,217.5 217.8,217.9 216.3,218.0 214.7,218.2 212.8,218.5 211.5,218.5 210.4,218.8 208.9,219.0 207.4,219.3 205.9,219.5 204.7,219.4 203.1,219.6 201.5,220.0 200.0,220.4 198.5,220.7 196.9,220.8 195.3,221.3 193.7,221.7 192.3,221.8 190.9,221.9 189.2,222.1 187.7,222.4 186.2,223.0 185.0,223.2 183.7,223.2 182.0,223.7 180.5,223.9 178.9,224.4 177.7,224.9 176.3,225.0 174.8,225.6 173.5,226.2 172.3,226.6 170.7,226.7 169.1,226.9 167.6,227.5 166.1,227.9 164.8,228.2 163.2,228.7 161.5,229.2 160.0,229.8 158.4,229.9 157.2,230.2 156.0,231.0 154.6,231.3 153.1,231.7 151.5,232.2 150.1,232.7 148.7,233.5 147.5,234.2 146.4,235.0 144.9,235.4 143.3,235.8 141.8,236.6 140.5,236.9 139.2,237.3 137.6,238.2 136.4,239.2 135.2,239.6 133.6,240.0 132.2,240.6 130.7,241.2 129.6,241.9 128.2,242.5 126.7,243.1 125.5,243.7 124.3,244.3 122.9,244.8 121.2,245.1 119.7,245.7 118.4,246.5 117.2,247.0 115.7,247.6 114.2,248.3 112.9,248.7 111.2,249.2 109.7,249.7 108.6,250.2 107.5,251.0 106.1,251.8 104.6,252.3 103.0,252.8 101.8,253.5 100.6,254.3 99.0,255.2 97.7,255.8 96.5,256.4 95.2,257.2 94.0,257.9 92.7,258.8 91.4,259.4 90.1,259.8 88.6,260.6 87.2,261.5 86.2,262.6 85.2,263.6 83.7,264.4 82.3,265.5 81.5,266.5 80.9,267.5M80.4,351.3 83.4,352.0 84.8,352.4 84.9,354.9 86.5,356.3 87.7,357.1 89.1,358.1 89.8,358.2 90.9,358.8 92.8,358.6 94.5,357.2 96.6,356.3 97.4,355.1 98.0,354.6 99.7,353.7 100.1,352.0 99.5,350.6 97.8,348.0 96.1,346.8 94.3,346.8 92.2,346.1 91.6,344.4 91.6,344.0 90.4,343.9 88.8,344.7 86.7,344.6 84.2,344.2 82.9,343.8 80.7,343.8 80.0,346.8M482.0,260.4 481.9,258.9 481.3,257.5 480.7,256.1 480.3,255.0 479.6,253.8 478.8,252.1 478.0,250.7 476.9,249.8 475.9,248.8 474.9,247.4 473.7,246.4 472.6,245.7 471.4,244.7 469.9,243.7 468.8,242.9 468.0,241.9 466.9,240.8 465.6,240.2 464.2,239.8 462.9,238.8 461.4,237.7 460.2,237.2 459.1,236.4 457.8,235.6 456.6,234.9 455.4,233.8 453.8,233.0 452.4,232.4 451.4,231.8 450.3,231.2 448.6,230.3 447.1,229.5 446.1,228.6 444.8,227.9 443.4,227.2 442.0,226.3 440.5,225.7 439.3,225.2 438.0,224.5 436.9,223.6 435.6,223.0 434.3,222.6 433.0,221.7 431.7,221.0 430.3,220.4 428.5,219.5 426.9,219.0 425.9,218.3 424.7,217.9 423.3,217.6 421.8,216.9M391.5,207.7 389.7,207.2 388.3,207.3 386.9,206.8 385.3,206.1 384.0,205.9 382.8,205.8 381.3,205.4 379.7,205.1 378.2,204.6 376.8,204.1 375.2,203.7 373.9,203.7 372.4,203.4 370.7,202.8 369.6,202.5 368.2,202.3 366.3,202.2 364.9,201.8 363.8,201.4 362.3,201.3 360.4,201.3 359.0,200.9 357.6,200.5 356.0,200.5 354.5,200.1 352.9,199.7 351.4,199.7 350.2,199.4 348.6,199.1 347.1,199.1 345.7,199.1 344.4,199.0 342.9,198.7 341.2,198.4 339.6,198.4 338.4,198.2 337.0,198.0 335.2,197.9 333.5,197.7 332.0,197.8 330.5,197.7 329.1,197.5 327.8,197.7 326.5,197.8 324.8,197.4 323.2,197.0 321.6,196.9 319.9,196.8 318.3,196.9 316.8,197.1 315.7,197.0 314.3,196.7 312.7,196.7 311.3,196.8 309.5,196.7 307.8,196.8 306.5,196.9 305.2,196.9 303.7,196.6 301.9,196.5 300.2,196.5 298.9,196.6 297.6,196.0 295.9,195.8 294.2,196.0 292.9,195.7 291.4,195.4 289.9,195.6 288.6,195.6 287.0,195.3 285.7,195.3 284.2,195.5 282.3,195.4 280.8,195.2 279.2,195.3 277.8,195.4 276.7,195.6 275.1,195.8 273.5,195.7 272.0,195.5 270.3,195.4 268.8,195.3 267.4,195.4 266.0,195.6 264.6,195.7 263.1,195.9 261.6,196.2 259.8,196.0 258.1,196.1 256.9,196.5 255.5,196.6 253.9,196.6 252.6,197.0 251.0,197.4 249.4,197.5 248.2,197.4 246.6,197.1 244.9,197.2 243.4,197.4 241.9,197.6 240.3,197.8 238.9,197.7 237.5,197.4 235.7,197.7 234.4,198.1 233.0,198.2 231.3,198.4 230.0,198.4 228.5,198.3 226.8,198.8 225.1,199.3 223.7,199.3 222.5,199.6 220.9,200.2 219.4,200.3 218.2,200.5 216.6,200.7 215.4,200.9 214.1,201.1 212.0,201.3 210.5,201.5 209.1,201.6 207.7,201.8 206.1,201.9 204.6,202.1 203.1,202.5 201.6,202.7 200.4,202.8 198.9,203.1 197.4,203.6 195.9,203.8 194.3,203.8 192.8,204.0 191.2,204.4 189.8,205.0 188.2,205.2 186.6,205.5 185.3,205.9 184.1,206.1 182.7,206.4 180.9,207.0 179.3,207.3 178.0,207.7 176.5,208.3 175.1,208.4 173.6,208.4 172.0,208.6 170.8,209.2 169.2,209.6 167.9,209.8 166.6,210.2 164.7,210.8 163.4,211.3 162.2,211.6 160.8,211.7 159.3,211.9 157.6,212.5 156.1,213.0 154.8,213.5 153.4,214.1 152.1,214.6 150.6,214.9 149.2,215.3 147.4,215.6 145.8,216.0 144.7,216.5 143.3,216.8 141.7,217.2 140.3,217.8 138.9,218.3 137.4,218.8 135.8,219.2 134.5,219.7 133.4,220.4 131.8,221.1 130.1,221.6 128.8,222.0 127.4,222.4 126.2,222.9 124.9,223.4 123.1,224.0 121.7,224.5 120.6,225.0 119.3,225.5 117.6,225.8 116.2,226.3 114.7,227.1 113.4,227.7 112.0,228.1 110.6,229.0 109.5,229.5 108.1,229.8 106.6,230.3 105.0,230.8 103.7,231.6 102.4,232.2 101.0,233.0 99.6,233.5 98.2,233.8 96.8,234.3 95.3,235.0 94.1,235.7 92.8,236.2 91.4,236.8 90.1,237.5 88.6,238.1 87.0,238.7 85.7,239.4 84.5,240.0 83.0,240.7 81.6,241.5 80.5,242.4M142.0,361.0 142.3,358.6 140.9,357.9 139.7,356.8 139.8,355.4 140.2,353.5 140.5,352.8 141.0,353.3 141.4,350.8 142.9,348.2 143.4,348.0 142.8,346.8 142.6,343.9 143.9,342.0 145.7,341.3 146.3,341.0 147.5,340.5 148.9,339.6 149.5,339.0 150.4,337.8 152.3,336.6 154.3,337.7 155.7,338.7 157.0,337.6 158.6,337.2 161.4,337.9 162.8,338.7 164.0,340.2 165.2,340.7 165.7,338.9 167.4,338.9 168.2,339.2 169.2,339.5 171.4,338.6 174.5,338.4 176.1,338.1 177.1,337.8 179.2,338.3 180.8,338.8 180.6,338.9 181.5,337.4 182.6,338.1 184.4,337.4 187.4,337.9 189.7,340.0 191.3,339.9 192.4,339.3M223.3,342.0 223.3,342.2 224.2,343.0 227.4,343.7 228.1,345.0 229.3,345.6 231.5,344.6 232.1,344.7 234.8,345.0 236.0,345.3 236.2,345.3 238.0,345.7 240.0,345.0 242.4,344.5 244.5,345.8 244.7,345.3 245.0,344.5 248.5,346.2 251.2,347.3 252.6,346.2 255.0,344.6 255.3,343.6 255.5,342.9 257.3,344.1 259.3,345.0 261.2,343.7 262.4,344.6 264.6,345.4 265.7,344.6 265.1,345.0 267.1,344.2 269.3,344.3 270.8,345.4 272.3,344.6 274.2,344.7 276.0,344.8 277.5,343.4 278.4,343.0 279.9,343.1 281.2,342.8 282.5,343.1 284.4,342.3 284.8,341.3 286.3,341.2 288.4,342.4 290.2,343.4 292.0,342.8 292.6,343.3 294.4,342.6 297.1,341.3 298.8,340.8 300.3,341.4 301.5,341.5 302.5,339.8 304.1,341.3 305.1,342.6 306.5,340.1 308.3,338.5 309.5,339.2 311.6,340.7 313.3,339.9 314.6,339.7 316.1,340.7 316.9,340.6 318.3,342.1 321.0,342.1 322.1,341.1 322.6,340.9 324.2,341.1 326.5,341.8 328.1,343.2 329.7,341.5 330.9,340.2 331.7,340.5 334.2,340.2 335.6,339.7 336.0,338.3 337.8,338.4 339.7,338.5 340.9,339.4 343.3,339.2 344.9,339.6 346.0,339.6 347.4,337.5 349.1,337.7 350.7,338.1 350.7,339.9 351.5,339.8 353.3,338.7 356.1,339.5 357.3,338.8 358.4,339.6 360.8,340.0 363.1,340.6 364.8,341.6 365.8,341.5 366.6,341.5 368.4,341.6 371.1,342.6 372.2,342.3 373.2,341.7 374.7,341.6 376.0,341.8 377.6,342.1 379.1,341.8 380.8,341.8 382.7,342.2 383.8,342.7 384.8,342.3 386.6,341.9 388.0,342.0 389.6,341.9 391.1,341.8 392.5,341.5 394.1,341.4 395.9,341.4 397.2,341.1 398.4,340.8 400.2,340.4 401.5,340.2 403.0,340.0 404.6,339.7 405.7,339.5 407.4,339.1 409.2,338.6 410.5,338.4 411.8,338.1 413.2,337.7 414.7,337.5 416.1,337.2 417.7,336.7 419.0,336.0 420.1,335.6 421.8,335.5 423.6,335.4 425.0,334.9 426.4,334.4 427.9,333.9 429.3,333.5 430.8,333.3 432.3,333.0 433.8,332.5 435.2,331.9 436.5,331.5 437.8,331.1 439.4,330.5 441.0,329.8 442.4,329.3 443.7,328.8 445.0,328.0 446.6,327.3 448.0,326.7 449.2,325.9 450.4,325.1 451.5,324.3 452.6,323.6 453.9,322.7 455.0,322.0 456.3,321.2 457.8,320.1 458.9,319.2 460.0,318.3 461.3,317.6 462.6,316.6 464.0,315.5 465.4,314.9 466.4,314.1 467.5,312.8 469.0,312.1 470.0,311.2 471.0,310.3 472.2,309.6 473.4,308.7 474.6,307.3 475.9,306.2 477.1,305.4 478.0,304.3 478.9,303.0 479.9,301.8 480.9,300.9 481.7,299.7 482.0,298.3M482.0,209.9 481.0,209.6 479.6,209.0 478.0,208.5 476.7,208.2 475.5,207.8 474.1,207.0 472.5,206.4 470.8,206.3 469.4,205.8 468.2,205.4 467.0,205.0 465.6,204.3 464.1,204.1 462.4,203.7 460.8,203.2 459.5,203.0 458.1,202.5 456.5,202.2 454.9,201.7 453.3,201.4 452.1,201.2 450.7,201.0 449.1,200.8 447.7,200.0 446.3,199.8 444.6,199.7 443.1,199.5 441.9,199.0 440.5,198.5 438.9,198.1 437.5,197.7 436.1,197.4 434.6,197.0 433.1,196.3 432.0,195.7 430.5,195.3 428.6,194.8 427.3,194.2 426.1,193.8 424.7,193.6 423.1,193.3 421.7,192.7 420.5,192.3 419.1,192.0 417.2,191.6 415.4,191.3 414.2,191.0 412.6,190.7 411.3,190.4 410.2,190.0M378.9,183.8 377.2,183.6 375.6,183.2 374.1,183.0 372.8,182.9 371.6,182.7 370.1,182.4 368.6,182.2 366.8,182.0 365.2,181.9 363.8,181.6 362.4,181.1 360.9,181.1 359.4,181.1 358.0,180.9 356.4,180.6 355.0,180.5 353.4,180.4 351.9,180.4 350.5,180.1 348.8,179.7 347.2,179.6 346.0,179.5 344.6,179.4 342.9,179.4 341.4,179.3 339.9,178.9 338.5,178.8 337.0,178.7 335.6,178.7 333.9,178.4 332.3,178.1 330.9,178.3 329.3,178.2 327.7,178.1 326.3,177.9 324.9,177.7 323.3,177.7 321.7,177.8 320.4,178.0 318.8,177.9 317.2,177.8 315.8,177.8 314.3,177.7 312.7,178.0 311.4,178.0 309.7,177.8 308.1,177.8 306.9,177.7 305.2,177.7 303.5,177.5 302.2,177.6 300.7,177.7 299.1,177.3 297.6,177.3 296.0,177.5 294.6,177.3 293.1,177.2 291.7,177.1 290.1,177.4 288.7,177.6 287.2,177.4 285.6,177.4 284.0,177.5 282.5,177.6 281.1,177.9 279.8,178.2 278.4,178.3 276.9,178.5 275.1,178.7 273.6,178.9 272.0,178.9 270.3,179.1 268.8,179.2 267.5,179.2 265.9,179.3 264.4,179.3 263.1,179.5 261.7,179.5 260.2,179.1 258.5,179.0 256.8,179.1 255.3,179.5 253.9,180.0 252.3,179.6 250.5,179.5 249.1,179.9 247.9,180.2 246.4,180.6 244.9,180.6 243.4,181.0 241.8,181.4 240.6,181.6 239.3,181.7 237.7,182.0 236.1,182.5 234.5,182.8 233.0,183.0 231.7,183.3 230.3,183.5 228.7,183.6 227.3,183.9 225.7,184.1 224.0,184.3 222.6,184.7 221.2,185.1 219.9,185.5 218.7,185.8 216.9,186.2 215.2,186.4 213.8,186.7 212.2,187.3 210.7,187.4 209.6,187.7 208.1,188.3 206.4,188.9 205.2,189.3 203.9,189.6 202.3,189.4 200.7,189.5 199.2,189.9 197.9,190.1 196.1,190.6 194.6,191.0 193.3,191.2 191.8,191.5 190.4,191.8 188.7,192.1 187.3,192.5 186.1,193.1 184.5,193.7 183.1,193.8 181.7,194.2 180.5,194.8 179.0,195.2 177.5,195.7 175.9,196.1 174.5,196.5 172.9,197.0 171.5,197.4 170.1,197.7 168.7,198.1 167.3,198.6 165.6,199.1 164.1,199.4 162.8,199.5 161.4,200.0 159.7,200.4 158.2,200.6 156.8,201.4 155.2,202.0 154.0,202.5 152.7,202.9 151.2,203.1 149.7,203.3 148.2,203.8 146.9,204.6 145.6,205.1 144.1,205.8 142.3,206.3 140.6,206.5 139.2,207.0 138.0,207.5 136.8,208.0 135.4,208.3 133.8,208.6 132.5,209.1 131.1,209.8 129.6,210.4 128.1,211.0 126.7,211.4 125.3,211.7 123.9,212.2 122.5,213.0 121.1,213.3 119.7,213.8 118.2,214.4 116.9,214.8 115.5,215.6 114.0,216.1 112.5,216.6 111.3,217.3 110.0,217.7 108.4,218.4 106.8,219.0 105.4,219.4 104.0,220.0 102.6,220.2 101.2,220.5 99.9,221.3 98.5,222.1 97.2,223.0 95.9,223.7 94.5,224.1 93.3,224.6 91.8,225.3 90.3,225.9 89.0,226.5 87.3,226.9 85.7,227.5 84.5,228.1 83.4,228.5 82.1,229.2 80.6,229.9M291.0,361.0 291.1,360.9 292.8,359.7 294.9,359.5 296.2,360.1 296.6,359.3 297.6,357.5 298.7,358.0 300.2,355.7 302.6,353.6 303.9,353.6 304.1,351.2 306.2,349.7 306.7,350.3 307.1,349.7 308.6,348.7 308.5,349.4 310.6,350.1 313.3,348.5 315.1,348.9 316.1,350.6M346.2,348.3 346.2,347.5 348.7,348.6 351.1,348.4 351.4,348.6 353.0,347.8 354.6,346.9 356.6,348.4 357.6,348.8 357.9,348.9 359.1,348.2 362.7,348.2 365.0,348.6 365.5,348.8 366.3,349.0 367.2,349.5 368.5,349.0 370.7,348.1 372.7,348.8 374.2,349.8 375.1,350.2 375.7,349.7 378.0,350.2 379.6,351.2 381.4,351.9 382.9,352.4 384.0,352.4 385.5,352.8 386.9,353.8 388.2,354.3 389.6,354.6 391.3,354.9 392.5,355.3 393.7,355.6 395.1,355.7 396.7,356.1 398.4,356.6 399.8,356.9M430.9,352.2 432.6,351.9 434.2,351.2 435.6,350.7 436.9,350.5 438.5,350.7 440.1,350.4 441.7,349.8 443.1,349.5 444.2,349.2 445.7,348.8 447.4,348.5 448.8,348.2 450.2,347.8 451.7,347.6 453.2,347.7 454.9,347.2 456.5,346.5 457.7,346.4 459.1,346.1 460.8,345.7 462.1,345.4 463.5,345.1 465.0,344.7 466.6,344.4 468.0,344.0 469.8,343.5 471.2,343.1 472.3,342.8 473.9,342.2 475.5,341.9 476.5,341.6 477.9,341.0 479.7,340.6 481.2,340.2 482.0,339.5M149.5,361.0 149.0,359.4 148.5,357.9 149.8,357.1 149.4,355.9 147.9,354.2 148.2,353.9 149.6,351.9 150.5,351.0 151.2,350.3 153.1,348.5 155.2,346.8 156.6,346.0 156.9,347.7 158.5,347.8 160.5,345.8 162.3,346.4 163.3,348.0 164.7,347.4 166.4,348.1 167.9,347.1 169.0,346.4 169.4,347.8 172.6,349.5 173.8,351.0 174.0,351.9 176.8,351.9 178.4,352.3 179.6,352.5 181.2,352.3 182.6,354.7 183.3,355.3 184.6,355.9 186.4,356.4 187.0,356.9 188.2,357.2 190.1,357.8 192.1,359.7 192.8,360.5 193.7,361.0M482.0,177.3 481.0,177.0 479.6,177.0 478.3,176.9 476.8,176.3 475.2,176.0 473.5,175.8 472.0,175.6 470.7,175.4 469.3,175.3 467.9,175.0 466.4,174.7 464.8,174.2 463.1,174.1 461.6,174.0 460.1,173.8 458.7,173.4 457.3,173.2 455.8,173.2 454.1,173.0 452.6,172.9 451.4,172.6 450.0,172.2 448.1,172.2 446.8,171.9 445.4,171.5 443.8,171.4 442.2,171.3 440.8,171.0 439.4,170.9 437.8,170.7 436.2,170.6 434.7,170.6 433.3,170.4 431.9,170.1 430.1,169.7 428.6,169.6 427.1,169.3 425.7,169.1 424.3,169.0 422.8,168.9 421.4,168.7 420.0,168.2 418.6,168.1 416.9,168.3 415.3,168.2 413.7,168.0 412.2,167.8 410.9,167.3 409.4,167.3M379.3,164.6 378.0,164.3 376.3,164.2 374.9,163.9 373.5,163.7 372.0,163.8 370.3,163.9 368.5,163.6 367.3,163.5 366.0,163.6 364.3,163.7 362.7,163.8 361.2,163.6 359.8,163.7 358.2,163.9 356.5,163.9 355.4,163.9 353.8,164.0 352.1,163.7 350.8,163.6 349.2,163.6 347.8,163.5 346.3,163.7 344.8,163.5 343.3,163.1 341.6,163.2 340.0,163.1 338.5,163.0 337.2,162.9 335.9,162.7 334.3,162.6 332.6,162.8 330.9,162.5 329.5,162.4 328.2,162.3 326.8,162.4 325.1,162.8 323.7,163.0 322.1,162.9 320.2,163.1 318.7,163.3 317.5,163.2 316.0,163.3 314.4,163.3 313.0,163.1 311.5,163.2 310.1,163.3 308.7,163.5 307.0,163.5 305.6,163.3 303.9,163.5 302.4,163.5 301.1,163.6 299.3,163.8 297.9,163.9 296.5,164.0 295.0,163.9 293.5,163.9 292.0,164.0 290.4,164.2 289.1,164.4 287.8,164.8 285.9,165.2 284.4,165.2 283.0,165.3 281.3,165.5 280.0,165.6 278.7,166.2 277.3,166.4 275.9,166.4 274.1,166.7 272.5,166.8 270.9,166.9 269.5,167.3 268.2,167.6 266.8,167.8 265.2,167.9 263.3,167.7 261.8,167.8 260.5,168.1 259.0,168.3 257.6,168.4 256.2,168.6 254.6,168.7 252.9,168.5 251.5,169.1 250.0,169.4 248.7,169.4 247.2,169.6 245.3,170.0 243.9,170.1 242.6,170.3 241.1,170.9 239.7,171.3 238.3,171.3 237.0,171.6 235.3,172.1 233.5,172.2 231.9,172.5 230.8,173.1 229.5,173.1 227.9,173.2 226.4,173.6 224.9,173.8 223.5,174.1 222.0,174.4 220.4,174.8 219.0,175.4 217.4,175.4 215.8,175.6 214.5,176.2 213.1,176.7 211.6,177.1 210.0,177.5 208.6,177.7 207.4,178.1 206.1,178.4 204.6,178.7 202.9,179.2 201.5,179.9 200.1,180.2 198.7,180.3 197.2,180.6 195.6,180.9 194.2,181.3 192.9,181.5 191.4,181.9 189.9,182.3 188.3,182.9 186.7,183.5 185.4,183.6 184.2,184.1 182.5,184.7 181.1,185.0 179.8,185.2 178.2,185.7 176.8,186.3 175.1,186.6 173.5,186.8 172.3,187.5 170.9,188.0 169.3,188.3 168.0,188.8 166.6,189.1 165.1,189.7 163.7,190.1 162.2,190.6 160.6,191.2 159.1,191.8 157.8,192.1 156.4,192.3 154.8,192.8 153.6,193.3 152.1,194.0 150.6,194.3 149.1,194.8 147.8,195.4 146.6,195.7 145.1,196.1 143.6,196.7 142.2,197.3 140.6,197.8 139.0,198.3 137.8,198.9 136.5,199.4 135.0,199.7 133.7,200.2 132.3,200.8 131.0,201.3 129.3,201.9 127.7,202.5 126.4,202.7 125.2,203.0 123.8,203.6 122.5,204.1 121.2,204.7 119.6,205.3 118.0,206.1 116.6,206.8 115.2,207.3 113.9,207.8 112.6,208.2 111.0,208.5 109.6,209.1 108.3,209.9 106.9,210.4 105.4,211.0 104.1,211.7 102.8,212.1 101.2,212.6 99.8,213.4 98.4,214.0 97.1,214.5 96.0,215.1 94.6,215.7 93.2,216.3 91.9,217.0 90.7,217.8 89.3,218.6 87.5,218.8 86.0,219.5 84.9,220.2 83.4,220.5 82.0,220.9 80.7,221.3M332.3,361.0 333.5,360.9 334.6,359.8 335.4,358.6 336.6,357.6 338.2,356.8 339.3,355.9 340.5,355.0 342.0,354.3 343.4,353.6 344.8,353.1 346.6,352.8 348.1,352.4 349.4,352.4 351.0,352.3 352.6,352.1 354.3,352.2 356.0,352.1 357.5,352.3 358.9,352.6 360.4,352.8 362.0,353.1 363.4,353.5 364.7,354.0 366.0,354.5 367.7,354.9 369.1,355.7 370.6,356.4 372.1,356.8 373.5,357.5 374.8,358.3 375.9,359.0 377.2,360.0 378.5,361.0 379.7,361.0M156.0,361.0 156.0,360.4 156.5,358.6 157.1,357.1 158.0,355.8 159.1,354.8 160.5,354.4 162.2,354.5 164.0,355.0 165.4,355.7 166.5,356.5 167.9,357.6 169.1,359.0 169.7,360.6 170.3,361.0M303.7,361.0 304.7,360.5 305.6,358.9 306.4,357.8 307.5,356.9 308.8,356.0 310.2,355.2 311.8,354.9 313.6,355.1 315.1,355.1 316.4,355.2 318.1,355.9 319.7,356.6 321.0,357.4 322.1,358.6 323.2,359.7 324.4,360.8 325.6,361.0M482.0,151.7 480.9,151.2 479.6,151.0 478.1,150.8 476.5,150.6 474.9,150.6 473.3,150.4 472.0,150.3 470.5,150.2 469.0,150.3 467.4,149.9 465.9,149.7 464.5,149.8 462.8,149.6 461.1,149.1 459.7,149.1 458.6,149.2 457.0,149.0 455.3,149.0 454.0,148.7 452.6,148.7 450.8,148.7 449.4,148.4 447.9,148.6 446.5,148.5 445.1,148.2 443.4,147.9 441.9,147.9 440.3,147.9 438.8,147.8 437.6,147.9 436.2,147.9 434.6,147.9 433.1,147.7 431.4,147.9 430.0,147.9 428.5,147.6 427.0,147.8 425.4,148.2 423.7,148.0 422.1,147.9 420.7,148.0 419.2,148.1 417.6,148.2 416.4,148.1 414.9,147.9 413.2,147.7 411.7,147.7 410.4,147.8 408.9,147.9M376.9,148.4 375.4,148.5 373.9,148.6 372.4,148.5 371.0,148.3 369.5,148.4 368.2,148.7 366.6,148.9 365.1,149.2 363.6,149.2 361.9,149.3 360.3,149.4 358.7,149.5 357.3,149.7 355.9,149.7 354.4,149.6 353.1,149.6 351.5,150.0 349.9,150.2 348.4,150.3 346.9,150.2 345.3,150.2 343.8,150.2 342.4,150.3 340.9,150.5 339.4,150.5 337.8,150.5 336.2,150.6 334.7,150.3 333.3,150.3 331.8,150.6 330.3,150.8 328.6,150.8 327.0,150.6 325.6,150.6 324.2,150.8 322.7,150.7 321.3,150.7 319.6,150.8 318.1,150.9 316.7,151.0 315.4,151.0 313.7,151.0 312.0,151.3 310.8,151.5 309.5,151.6 308.0,151.6 306.3,151.7 304.8,151.6 303.4,151.6 301.8,152.1 300.2,152.5 298.5,152.5 297.0,152.3 295.5,152.7 294.3,153.2 292.9,153.2 291.3,153.4 289.9,153.7 288.4,154.0 286.8,154.3 285.1,154.6 283.7,155.0 282.2,155.2 280.8,155.4 279.5,155.6 277.9,155.7 276.4,156.0 274.9,156.3 273.3,156.5 271.9,156.9 270.5,157.3 269.1,157.5 267.5,157.8 266.1,158.2 264.8,158.2 263.1,158.4 261.6,158.7 259.9,158.9 258.1,158.9 256.7,159.1 255.5,159.5 254.1,159.7 252.2,159.8 250.7,160.1 249.3,160.5 248.1,160.5 246.6,160.5 245.2,160.9 243.6,161.3 241.9,161.5 240.5,161.6 239.0,161.9 237.2,162.3 235.6,162.5 234.6,162.7 233.2,163.2 231.7,163.7 230.0,164.1 228.5,164.4 227.2,164.6 225.4,164.9 224.0,165.2 222.7,165.5 221.2,165.9 219.9,166.3 218.6,166.4 216.9,166.6 215.5,167.0 213.9,167.5 212.3,167.7 210.8,167.9 209.3,168.5 208.1,168.9 206.8,169.4 205.3,169.8 203.9,169.8 202.4,169.8 200.7,170.6 199.2,171.2 197.8,171.2 196.3,171.7 194.8,172.2 193.5,172.6 192.0,173.1 190.6,173.3 189.2,173.9 187.7,174.3 186.2,174.5 184.7,174.8 183.3,175.3 182.0,175.9 180.5,176.3 179.0,176.8 177.5,177.2 176.0,177.8 174.3,178.1 173.0,178.2 171.8,178.6 170.3,179.3 168.7,180.1 167.3,180.6 165.8,180.9 164.3,181.4 163.1,181.7 161.8,182.1 160.3,182.7 158.8,183.0 157.3,183.3 155.8,184.1 154.2,184.7 153.0,185.0 151.8,185.5 150.1,185.9 148.7,186.5 147.4,187.1 146.0,187.4 144.6,188.2 143.2,188.9 142.0,189.2 140.4,189.4 138.8,190.0 137.3,190.5 135.9,191.1 134.8,191.6 133.4,192.2 131.8,192.9 130.3,193.5 129.1,194.3 127.4,194.9 125.8,195.3 124.7,195.5 123.2,196.0 121.9,196.6 120.5,197.1 119.2,197.7 117.9,198.4 116.4,198.9 115.0,199.3 113.6,200.0 112.1,200.6 110.5,201.1 109.2,201.7 108.1,202.3 106.6,203.2 105.1,203.8 103.7,204.3 102.3,204.9 101.0,205.6 99.6,206.1 98.1,206.6 96.8,207.2 95.4,207.9 94.0,208.7 92.8,209.4 91.6,210.0 90.3,210.6 89.1,211.5 87.7,212.2 86.3,212.5 84.9,213.2 83.5,213.9 82.0,214.2 80.6,214.8M339.4,361.0 340.4,360.5 341.4,359.5 342.1,358.4 343.3,357.1 345.1,356.4 346.5,355.7 348.2,355.4 349.9,355.6 351.3,355.5 352.8,355.4 354.5,355.3 356.0,355.3 357.5,355.8 359.3,356.3 361.2,356.6 362.7,357.5 363.9,358.6 365.3,359.4 366.6,360.5 367.4,361.0M482.0,127.8 481.1,127.9 479.5,127.8 478.0,127.8 476.4,127.6 474.8,127.5 473.3,127.6 471.9,127.7 470.5,127.8 469.0,127.8 467.5,128.0 466.2,127.8 464.6,127.7 462.9,127.8 461.3,127.6 459.7,127.8 458.4,128.2 456.7,128.1 455.2,128.2 453.8,128.2 452.1,128.5 450.6,128.9 449.3,128.7 447.9,128.7 446.4,128.8 445.0,128.7 443.3,128.8 441.9,129.1 440.5,129.0 438.9,129.2 437.3,129.4 435.7,129.4 434.2,129.4 432.9,129.4 431.5,129.0 430.0,129.2 428.3,129.3 426.7,129.1 425.2,128.9 423.6,128.7 422.1,128.8 420.9,129.0 419.2,129.0 417.5,129.0 416.0,128.9 414.4,128.9 413.1,129.1 411.6,129.2 410.1,129.4 408.9,129.6 407.2,129.5 405.5,129.7M373.8,133.6 372.3,133.6 371.0,133.7 369.7,133.7 367.9,133.9 366.2,134.2 364.7,134.3 363.3,134.5 362.1,134.8 360.6,134.5 359.0,134.9 357.6,135.2 356.1,135.1 354.6,135.5 353.1,135.5 351.4,135.5 349.8,136.0 348.4,136.2 347.1,136.5 345.4,137.0 343.8,136.9 342.3,137.1 340.9,137.5 339.6,137.5 338.0,137.3 336.5,137.6 335.1,138.0 333.4,137.8 332.0,137.9 330.5,138.0 329.0,137.8 327.4,137.7 326.0,138.0 324.5,138.3 323.0,138.3 321.3,138.1 319.8,138.0 318.5,138.1 316.9,138.1 315.2,138.1 313.7,138.2 312.5,138.3 311.1,138.3 309.3,138.3 307.8,138.6 306.6,139.0 305.1,139.2 303.3,139.5 301.6,140.0 300.2,140.0 298.9,140.1 297.6,140.6 295.9,140.8 294.6,141.4 293.2,141.5 291.6,141.6 290.3,142.3 289.0,142.6 287.3,142.9 285.5,143.2 283.9,143.7 282.7,144.3 281.3,144.5 279.8,144.7 278.5,145.3 277.0,145.7 275.3,145.8 273.9,146.0 272.4,146.0 270.5,146.3 269.3,146.6 268.2,146.8 266.7,147.4 265.0,147.5 263.5,147.6 262.1,147.9 260.7,148.3 259.3,148.5 257.7,148.8 256.0,149.1 254.5,149.6 253.0,150.0 251.6,150.1 250.2,150.5 248.9,150.7 247.6,150.8 246.1,151.1 244.3,151.3 242.7,151.6 241.3,151.9 239.7,152.3 238.0,152.5 236.7,152.8 235.3,153.0 233.7,153.0 232.4,153.5 231.1,153.6 229.5,154.1 228.1,154.7 226.6,154.8 225.1,155.3 223.8,155.9 222.2,156.1 220.6,156.4 219.1,156.8 217.7,157.0 216.4,157.4 214.6,157.7 213.1,158.0 211.8,158.4 210.4,158.8 208.9,159.5 207.4,159.8 205.9,159.8 204.3,160.1 202.8,160.6 201.4,161.1 200.1,161.7 198.5,161.9 197.2,161.9 196.0,162.4 194.5,163.1 192.9,163.4 191.4,163.9 190.1,164.4 188.6,164.8 187.1,165.2 185.5,165.5 184.1,166.0 182.8,166.6 181.3,166.8 179.7,167.3 178.2,167.7 176.7,167.8 175.3,168.4 173.9,169.0 172.5,169.3 171.2,170.0 169.6,170.6 168.1,171.0 166.9,171.7 165.5,172.1 164.2,172.5 162.5,173.2 161.1,173.7 160.0,174.3 158.5,174.6 156.7,175.1 155.3,175.6 154.1,175.8 152.7,176.3 151.4,176.9 149.7,177.4 148.1,178.0 146.8,178.6 145.6,179.3 144.3,179.8 142.7,180.2 141.1,180.8 139.6,181.3 138.4,181.8 137.1,182.4 135.4,183.0 134.1,183.6 132.8,184.2 131.4,184.5 130.0,185.2 128.6,185.7 127.3,186.2 125.9,187.1 124.3,187.7 122.8,188.1 121.5,188.6 120.3,189.3 118.9,189.8 117.5,190.3 116.0,190.8 114.5,191.2 113.4,191.9 111.7,192.8 110.4,193.4 109.1,193.9 107.6,194.3 106.2,194.9 104.9,196.1 103.7,196.7 102.5,197.2 101.1,197.9 99.5,198.2 98.1,198.8 96.8,199.7 95.5,200.2 94.2,200.8 92.5,201.5 91.3,202.2 90.0,202.8 88.4,203.5 87.1,204.2 85.7,204.9 84.5,205.7 83.1,206.2 81.6,206.7 80.3,207.5M342.8,361.0 343.8,360.9 345.1,359.8 346.4,358.7 347.9,357.7 349.5,357.3 351.1,357.5 352.6,357.4 354.4,357.4 356.0,357.8 357.6,358.5 359.2,359.5 360.3,360.6 361.4,361.0M482.0,92.9 481.0,93.1 479.5,93.4 478.1,94.1 476.7,94.3 475.1,94.3 473.3,94.5 472.0,94.8 470.7,95.0 469.3,95.3 467.9,95.6 466.3,95.7 464.7,95.9 463.3,96.3 461.9,96.5 460.2,96.8 458.4,96.9 456.8,97.2 455.6,97.4 454.6,97.4 453.1,97.6 451.3,97.9 449.7,98.1 448.3,98.5 446.7,98.9 445.2,98.8 443.7,98.8 442.2,99.1 440.8,99.5 439.6,99.7 438.0,100.0 436.2,100.3 434.7,100.2 433.2,100.2 431.8,100.4 430.3,100.6 428.6,100.7 427.1,100.7 425.7,101.1 424.3,101.5 422.6,101.7 421.0,102.0 419.5,102.3 418.0,102.3 416.7,102.4 415.1,102.6 413.5,102.9 412.2,103.1 410.9,103.3 409.4,103.4M379.6,108.8 378.0,109.3 376.5,109.6 375.1,109.7 373.4,110.0 372.1,110.1 370.7,110.3 369.3,110.9 367.9,111.2 366.3,111.6 364.9,112.0 363.3,112.1 361.8,112.3 360.3,112.7 358.9,113.0 357.5,113.4 355.9,113.6 354.6,114.1 353.2,114.5 351.6,114.8 350.1,114.9 348.5,115.3 346.9,115.6 345.6,115.7 344.0,115.9 342.6,116.5 341.1,117.0 339.6,117.2 338.3,117.4 336.9,117.5 335.4,117.7 333.9,118.0 332.2,118.3 330.6,118.1 329.0,118.2 327.5,118.4 326.2,118.4 324.8,118.4 323.2,118.2 321.9,118.1 320.1,118.1 318.4,118.5 316.9,118.5 315.6,118.5 314.3,118.7 312.7,118.9 311.2,119.3 309.6,119.5 308.1,119.6 306.8,119.9 305.1,120.4 303.5,120.6 302.4,120.8 300.9,121.3 299.3,121.5 298.0,122.1 296.6,122.9 295.0,123.6 293.6,124.2 292.4,124.5 290.8,125.0 289.4,125.6 288.1,126.4 286.7,127.0 285.4,127.5 283.9,127.9 282.5,128.5 281.2,129.1 279.7,129.4 278.2,129.7 276.9,130.4 275.6,130.8 274.0,130.8 272.3,131.1 270.9,131.5 269.6,131.6 268.1,131.7 266.4,132.1 264.8,132.2 263.3,132.5 262.0,132.7 260.6,132.9 259.1,133.1 257.6,133.4 256.1,133.6 254.8,133.6 253.2,133.9 251.6,134.2 250.0,134.6 248.3,135.0 247.0,135.3 245.4,135.7 243.9,136.1 242.6,136.4 241.2,136.8 239.8,136.9 238.2,137.4 236.6,137.7 235.3,138.1 234.0,138.8 232.5,139.4 230.9,139.6 229.6,139.8 228.0,140.3 226.5,140.7 225.1,141.3 223.7,142.0 222.4,142.3 221.1,142.7 219.5,143.0 218.0,143.5 216.5,144.1 215.0,144.5 213.7,145.0 212.3,145.1 210.6,145.4 209.3,145.9 207.8,146.4 206.4,146.7 204.8,147.0 203.1,147.4 201.8,148.0 200.5,148.6 199.1,149.2 197.6,149.7 196.3,149.9 194.9,150.5 193.5,151.2 192.2,151.5 190.6,152.0 189.1,152.6 187.6,153.1 186.3,153.3 184.8,153.8 183.3,154.4 181.9,154.4 180.7,154.8 179.2,155.5 177.4,155.9 176.1,156.6 174.7,157.3 173.2,157.8 172.0,158.4 170.5,158.4 169.0,158.6 167.4,159.4 166.2,160.2 164.9,160.7 163.5,161.3 162.1,162.1 160.5,162.7 159.0,163.0 157.6,163.2 156.1,163.9 154.6,164.3 153.6,164.8 152.2,165.1 150.5,165.3 149.1,166.0 147.8,166.8 146.3,167.2 144.8,167.6 143.4,168.2 142.1,168.7 140.7,169.2 139.3,169.7 137.8,170.3 136.3,171.0 134.9,171.5 133.4,172.0 132.0,172.3 130.8,173.0 129.6,173.5 127.9,174.0 126.3,174.5 125.3,175.1 124.0,175.5 122.4,176.1 120.7,176.8 119.5,177.4 118.3,177.9 116.9,178.2 115.3,178.9 113.9,179.7 112.7,180.3 111.0,180.6 109.4,181.1 108.2,181.8 106.7,182.4 105.5,182.9 104.3,183.6 102.8,184.3 101.2,184.7 99.9,185.3 98.6,186.3 97.2,186.8 95.9,187.0 94.7,187.8 93.4,188.7 92.0,189.2 90.3,189.8 88.9,190.5 87.6,191.1 86.5,191.7 84.9,192.1 83.2,192.4 81.9,193.1 80.5,193.7M346.3,361.0 347.3,360.3 349.1,359.7 350.9,359.3 352.6,359.1 354.4,359.6 356.2,360.8 357.6,361.0M80.0,114.4 80.0,114.2 80.0,112.4 80.0,112.0 80.0,111.6 80.0,112.2 80.0,110.6 80.0,109.4 81.3,110.0 82.1,110.1 82.4,109.2 82.8,108.8 83.5,108.4 84.3,107.0 84.9,106.9 85.9,106.8 85.0,105.9 85.9,105.7 87.0,107.0 87.4,105.7 88.3,104.9 89.7,104.3 90.5,103.7 90.0,103.0 89.9,101.5 90.9,101.4 93.2,104.3 92.6,101.3 92.8,101.2 93.6,101.7 94.0,101.3 95.5,100.7 96.4,99.7 97.2,98.6 98.0,99.8 99.4,100.8 100.6,101.7 101.6,101.8 101.4,101.0 102.0,101.1 102.1,101.1 103.3,101.5 103.7,100.0 105.1,100.3 104.6,100.7 105.5,102.2 106.2,101.6 106.4,98.8 108.7,102.5 108.8,101.6 108.3,100.7 108.4,100.2 109.7,99.5 111.2,99.6 112.5,99.3 112.5,99.1 113.4,99.8 114.2,98.8 114.9,98.7 116.1,97.1 117.1,98.2 118.1,98.4 117.9,96.8 118.5,96.7 118.8,97.3 119.6,97.3 120.4,96.8 122.1,95.9 123.1,95.7 123.4,95.7 124.0,95.8 124.0,94.1 124.6,92.6 125.0,92.6 125.6,92.0 125.5,91.5 126.8,90.9 128.5,91.1 128.9,89.4 129.5,88.8 130.7,89.7 131.6,89.4 131.7,89.2 132.1,88.5 132.9,88.3 133.6,87.3 134.3,86.8 134.5,87.1 135.8,87.1 135.9,85.8 136.4,83.7 137.3,84.1 138.4,84.5 138.2,84.0 138.1,83.2 139.9,84.0 141.2,84.6 141.8,83.3 142.3,82.8 143.8,82.2 144.3,80.7 143.2,79.8 140.8,79.2 146.1,79.4 147.2,78.6 143.3,76.5 143.9,76.2 144.2,75.0 144.4,74.5 145.2,74.3 146.1,74.5 146.3,73.0 148.3,72.5 149.6,72.8 149.3,71.9 149.2,71.4 150.1,71.6 151.7,72.6 152.1,69.1 152.9,71.0 153.8,70.6 153.5,67.6 155.0,68.1 155.4,70.7 156.6,70.6 157.1,70.8 158.2,70.2 158.7,69.6 159.5,69.3 160.4,70.3 162.0,70.6 162.7,69.3 163.6,69.8 163.6,70.3 163.5,69.4 164.8,68.8 166.3,69.1 167.7,68.2 168.1,68.1 168.9,68.8 169.9,68.4 171.1,67.6 171.7,67.9 172.2,68.5 172.0,68.4 172.7,67.7 174.1,67.9 175.8,67.6 176.4,66.5 176.7,66.1 177.1,66.4 177.5,66.3 178.9,66.2 179.9,67.0 180.8,66.4 180.6,65.2 181.3,63.5 181.5,62.9 182.6,63.4 184.0,64.8 185.2,63.9 184.6,62.2 184.3,60.7 186.6,63.3 186.5,61.1 187.7,61.1 187.9,60.7 190.0,63.5 191.3,63.7M217.8,48.1 218.8,48.0 219.3,46.9 220.6,47.3 221.1,47.8 220.6,46.8 220.9,44.6 221.3,44.0 222.6,43.7 222.6,43.6 224.0,43.3 225.5,43.2 226.1,42.4 226.5,41.6 226.1,41.4 228.1,42.3 228.0,41.5 229.2,41.3 229.8,40.3 230.2,38.8 230.6,38.5 229.9,36.8 230.4,36.7 232.8,38.9 233.9,38.4 234.3,36.9 233.9,33.3 234.6,32.9 236.7,35.8 237.2,35.2 238.1,35.6 239.2,35.6 240.3,35.7 240.8,36.0 241.5,34.4 242.1,34.1 243.7,35.9 243.0,33.5 243.9,35.2 245.0,36.6 245.7,35.5 246.4,33.4 247.4,34.2 249.1,35.3 249.0,33.9 249.6,32.4 250.5,32.5 250.8,31.8 251.3,31.1 252.0,29.7 253.1,29.6 254.6,30.6 255.4,30.5 255.3,30.1 255.6,28.9 255.8,27.2 257.4,27.7 258.0,28.5 258.1,28.4 259.4,29.3 260.5,29.0 261.2,27.3 261.7,27.0 262.6,27.0 263.7,27.0 264.0,27.0 264.4,27.0 265.3,27.0 265.8,27.0 267.1,27.0 269.3,28.0 269.3,27.0M185.3,52.0 186.0,52.7 185.6,53.6 184.0,54.2 182.3,53.5 181.6,52.9 181.9,52.3 179.9,52.0 181.5,51.6 180.3,50.3 182.3,50.5 183.5,50.9 184.1,51.3 184.4,51.7ZM193.1,54.5 192.3,55.2 191.3,55.5 190.4,55.5 189.5,56.0 188.4,55.7 188.4,55.0 188.0,54.5 188.2,53.9 189.0,53.7 189.6,53.3 190.6,52.8 191.1,53.6 192.6,53.7ZM197.5,50.0 195.4,50.2 196.4,51.3 195.3,51.1 194.9,50.4 194.3,50.7 193.3,50.6 193.3,50.0 193.4,49.4 194.1,49.2 194.6,48.7 195.4,48.8 196.1,49.0 195.8,49.7ZM216.7,37.0 215.8,40.0 215.0,39.8 214.7,40.7 214.3,41.2 213.3,44.2 213.6,39.1 213.2,37.0 212.7,32.9 213.6,32.1 214.3,32.8 214.8,31.9 215.2,33.2 215.1,35.6ZM242.4,33.5 241.8,34.2 237.3,33.9 237.0,34.6 234.9,34.8 232.6,34.6 234.4,33.7 232.3,33.5 234.3,33.3 233.5,32.7 235.1,32.4 237.3,31.9 239.0,32.5 240.1,33.0ZM244.7,31.0 245.0,31.4 245.0,32.0 243.5,31.8 242.7,31.6 241.4,31.8 241.0,31.4 240.0,31.0 240.4,30.5 241.8,30.4 242.6,30.3 243.2,30.7 244.9,30.1 246.0,30.4ZM230.0,36.5 230.5,37.2 230.0,37.7 229.3,37.9 228.5,38.5 228.3,37.4 227.1,37.4 227.4,36.5 226.4,35.3 228.2,35.5 228.7,35.3 229.2,35.5 229.9,35.4 230.9,35.6ZM102.0,105.5 102.1,106.3 101.7,106.8 101.3,107.5 100.7,107.4 100.3,106.8 100.2,106.1 98.7,105.5 99.8,104.7 100.2,104.0 100.5,102.3 101.5,102.4 101.8,104.1 103.0,104.1ZM108.9,106.0 108.8,106.6 108.4,107.2 107.7,106.7 107.2,107.3 106.7,107.0 106.2,106.6 106.5,106.0 106.7,105.6 106.9,105.3 107.2,104.7 107.9,104.5 107.8,105.6 108.6,105.5ZM133.0,92.0 131.6,92.2 132.0,92.9 131.2,92.5 130.8,92.6 130.0,92.9 129.3,92.5 128.8,92.0 129.4,91.5 129.9,91.1 130.7,91.2 131.4,90.9 132.2,91.0 132.3,91.6ZM147.1,78.5 147.6,79.5 146.8,79.8 146.1,79.3 145.7,80.2 145.4,79.5 144.7,79.4 145.3,78.5 145.6,78.2 145.2,77.2 145.7,76.7 146.1,78.1 147.3,76.3 147.1,77.8ZM154.3,74.5 155.2,75.0 154.0,75.1 153.4,75.2 152.6,75.2 151.3,75.5 151.7,74.8 151.2,74.5 151.7,74.2 152.0,74.0 152.7,73.8 153.3,73.8 153.7,74.1 154.7,74.1ZM121.7,100.5 121.3,100.9 120.5,100.9 120.2,100.9 119.7,101.2 119.3,101.0 118.7,100.9 118.1,100.5 118.7,100.2 118.5,99.5 119.8,99.9 120.3,99.8 121.5,99.5 122.2,99.9ZM177.1,64.0 176.7,64.2 177.3,65.0 176.3,64.8 175.8,64.5 175.3,64.6 173.8,64.6 174.8,64.0 174.6,63.6 175.4,63.5 175.7,63.2 176.4,63.0 176.9,63.3 177.3,63.6ZM166.9,72.5 167.0,72.9 166.1,72.6 166.2,73.1 165.7,73.4 165.3,73.2 165.2,72.8 164.6,72.5 165.2,72.2 164.8,71.3 165.6,71.2 166.4,71.1 167.0,71.5 167.0,72.1Z" fill="none" stroke="#141414" stroke-width="0.7" stroke-linejoin="round"/>
<g fill="none" stroke="#141414" stroke-width="0.7"><ellipse cx="447.5" cy="125" rx="2.2" ry="1.2" transform="rotate(-20 447.5 125)"/><ellipse cx="432.7" cy="257" rx="1.9" ry="1.5"/><path d="M99.3,255.8c-1.2,-2.2 -4.6,-1.6 -4.4,0.6c0.2,1.6 2.2,1.8 3.2,1.2"/><path d="M441.5,122.5l1,0.8"/></g>
<text class="c" style="font-size:9.2px" transform="translate(202.8 51.4) rotate(-12)" y="3.5">−25 m</text>
<text class="c" transform="translate(394.5 106.5) rotate(-5)" y="3.5">−30 m</text>
<text class="c" transform="translate(390.0 132.9) rotate(-2)" y="3.5">−35 m</text>
<text class="c" transform="translate(393.0 148.0) rotate(1)" y="3.5">−40 m</text>
<text class="c" transform="translate(394.0 166.6) rotate(6)" y="3.5">−45 m</text>
<text class="c" transform="translate(394.0 186.6) rotate(10)" y="3.5">−50 m</text>
<text class="c" transform="translate(332.4 354.6) rotate(0)" y="3.5">−50 m</text>
<text class="c" transform="translate(415.5 355.0) rotate(0)" y="3.5">−50 m</text>
<text class="c" transform="translate(406.5 212.6) rotate(16)" y="3.5">−55 m</text>
<text class="c" transform="translate(207.9 341.6) rotate(7)" y="3.5">−55 m</text>
<text class="c" transform="translate(290.6 214.5) rotate(0)" y="3.5">−60 m</text>
<text class="c" transform="translate(140.8 326.3) rotate(-14)" y="3.5">−60 m</text>
<text class="c" transform="translate(126.9 274.5) rotate(-30)" y="3.5">−65 m</text>
<text class="c" transform="translate(156.9 307.6) rotate(0)" y="3.5">−65 m</text>
</g>
<polyline points="336.5,329.2 335.6,280 335.4,225 335.5,170 335.9,110 337.3,48.3 280,48.2 216.7,48.3 215.4,100 214.4,160 213.9,210 214.1,260 214.5,310 214.9,332.6 280,333.3 455.7,334.8 454.8,285.4 280,284.1 114.4,283.7 115.1,235.5 280,235.3 400,237.3 453.7,237.9 453.3,183.3 240,185.3 115,185.7 114.4,138.1 240,137.7 360,138.3 453.3,138.2 453.2,83 280,82.5 114.4,82.9" fill="none" stroke="#000" stroke-width="1.2" stroke-linejoin="round"/>

<g fill="#f00" stroke="#f00" stroke-width="0.5"><polygon points="148.50,66.50 149.21,68.53 151.35,68.57 149.64,69.87 150.26,71.93 148.50,70.70 146.74,71.93 147.36,69.87 145.65,68.57 147.79,68.53"/><polygon points="302.50,70.30 303.21,72.33 305.35,72.37 303.64,73.67 304.26,75.73 302.50,74.50 300.74,75.73 301.36,73.67 299.65,72.37 301.79,72.33"/><polygon points="441.30,68.10 442.01,70.13 444.15,70.17 442.44,71.47 443.06,73.53 441.30,72.30 439.54,73.53 440.16,71.47 438.45,70.17 440.59,70.13"/><polygon points="144.30,203.50 145.01,205.53 147.15,205.57 145.44,206.87 146.06,208.93 144.30,207.70 142.54,208.93 143.16,206.87 141.45,205.57 143.59,205.53"/><polygon points="303.00,196.70 303.71,198.73 305.85,198.77 304.14,200.07 304.76,202.13 303.00,200.90 301.24,202.13 301.86,200.07 300.15,198.77 302.29,198.73"/><polygon points="434.30,201.00 435.01,203.03 437.15,203.07 435.44,204.37 436.06,206.43 434.30,205.20 432.54,206.43 433.16,204.37 431.45,203.07 433.59,203.03"/><polygon points="144.80,305.90 145.51,307.93 147.65,307.97 145.94,309.27 146.56,311.33 144.80,310.10 143.04,311.33 143.66,309.27 141.95,307.97 144.09,307.93"/><polygon points="308.60,322.30 309.31,324.33 311.45,324.37 309.74,325.67 310.36,327.73 308.60,326.50 306.84,327.73 307.46,325.67 305.75,324.37 307.89,324.33"/><polygon points="434.00,319.70 434.71,321.73 436.85,321.77 435.14,323.07 435.76,325.13 434.00,323.90 432.24,325.13 432.86,323.07 431.15,321.77 433.29,321.73"/></g>
<g fill="#fff" stroke="#f00" stroke-width="1"><rect x="334.3" y="327" width="4.6" height="4.6"/><rect x="112.1" y="80.6" width="4.6" height="4.6"/></g>
<text class="t" x="341.3" y="330" font-size="16.8" style="fill:#000;stroke:#000;stroke-width:.2px">Start</text>
<text class="t" x="116.7" y="82" font-size="16.8" style="fill:#000;stroke:#000;stroke-width:.2px">End</text>
<rect x="344.4" y="32.2" width="131.2" height="36.2" fill="#fff" stroke="#3a3a3a" stroke-width="0.7"/>
<line x1="346" y1="41.8" x2="363.5" y2="41.8" stroke="#000" stroke-width="1.3"/>
<g fill="#f00" stroke="#f00" stroke-width="0.4"><polygon points="354.50,57.30 355.15,59.11 357.07,59.17 355.55,60.34 356.09,62.18 354.50,61.10 352.91,62.18 353.45,60.34 351.93,59.17 353.85,59.11"/></g>
<text class="t" x="365.5" y="46.9" font-size="15.4" style="fill:#000;stroke:#000;stroke-width:.2px">AUV path</text>
<text class="t" x="366.4" y="65.3" font-size="15.4" style="fill:#000;stroke:#000;stroke-width:.2px">Magnetic Beacon</text>
<rect x="486.1" y="27.5" width="9.8" height="333.5" fill="url(#cb)" stroke="#3a3a20" stroke-width="0.5"/>
<text class="t" x="499.5" y="40.3" font-size="16.2">−25</text>
<text class="t" x="499.5" y="76.7" font-size="16.2">−30</text>
<text class="t" x="499.5" y="113.1" font-size="16.2">−35</text>
<text class="t" x="499.5" y="149.6" font-size="16.2">−40</text>
<text class="t" x="499.5" y="186.0" font-size="16.2">−45</text>
<text class="t" x="499.5" y="222.4" font-size="16.2">−50</text>
<text class="t" x="499.5" y="258.8" font-size="16.2">−55</text>
<text class="t" x="499.5" y="295.2" font-size="16.2">−60</text>
<text class="t" x="499.5" y="331.7" font-size="16.2">−65</text>
<g stroke="#262626" stroke-width="0.6"><line x1="492.6" y1="34.8" x2="495.9" y2="34.8"/><line x1="492.6" y1="71.2" x2="495.9" y2="71.2"/><line x1="492.6" y1="107.6" x2="495.9" y2="107.6"/><line x1="492.6" y1="144.1" x2="495.9" y2="144.1"/><line x1="492.6" y1="180.5" x2="495.9" y2="180.5"/><line x1="492.6" y1="216.9" x2="495.9" y2="216.9"/><line x1="492.6" y1="253.3" x2="495.9" y2="253.3"/><line x1="492.6" y1="289.7" x2="495.9" y2="289.7"/><line x1="492.6" y1="326.2" x2="495.9" y2="326.2"/></g>
<text class="t" transform="translate(540.8 196.4) rotate(-90)" text-anchor="middle" font-size="16.05">Bathymetry value (m)</text>
<text class="t" x="108.4" y="382.2" text-anchor="middle" font-size="17.3">4.175</text>
<text class="t" x="173.7" y="382.2" text-anchor="middle" font-size="17.3">4.18</text>
<text class="t" x="240.4" y="382.2" text-anchor="middle" font-size="17.3">4.185</text>
<text class="t" x="306.5" y="382.2" text-anchor="middle" font-size="17.3">4.19</text>
<text class="t" x="372.7" y="382.2" text-anchor="middle" font-size="17.3">4.195</text>
<text class="t" x="438.7" y="382.2" text-anchor="middle" font-size="17.3">4.2</text>
<text class="t" x="75.8" y="85.7" text-anchor="end" font-size="17.3">4.161</text>
<text class="t" x="75.8" y="154.2" text-anchor="end" font-size="17.3">4.1605</text>
<text class="t" x="75.8" y="222.7" text-anchor="end" font-size="17.3">4.16</text>
<text class="t" x="75.8" y="291.2" text-anchor="end" font-size="17.3">4.1595</text>
<text class="t" x="75.8" y="359.7" text-anchor="end" font-size="17.3">4.159</text>
<text class="t" x="281.2" y="403.4" text-anchor="middle" font-size="19.2">East(m)</text>
<text class="t" transform="translate(22.8 195.6) rotate(-90)" text-anchor="middle" font-size="19.1">North(m)</text>
<text class="t"><tspan x="81.9" y="26.5" font-size="21">×</tspan><tspan x="96.0" y="23.5" font-size="17" letter-spacing="-1.7">10</tspan><tspan x="112.3" y="16.3" font-size="11.8">6</tspan></text>
<text class="t"><tspan x="444.4" y="410.5" font-size="21">×</tspan><tspan x="458.5" y="407.5" font-size="17" letter-spacing="-1.7">10</tspan><tspan x="474.8" y="400.3" font-size="11.8">5</tspan></text>
</svg></body></html>
